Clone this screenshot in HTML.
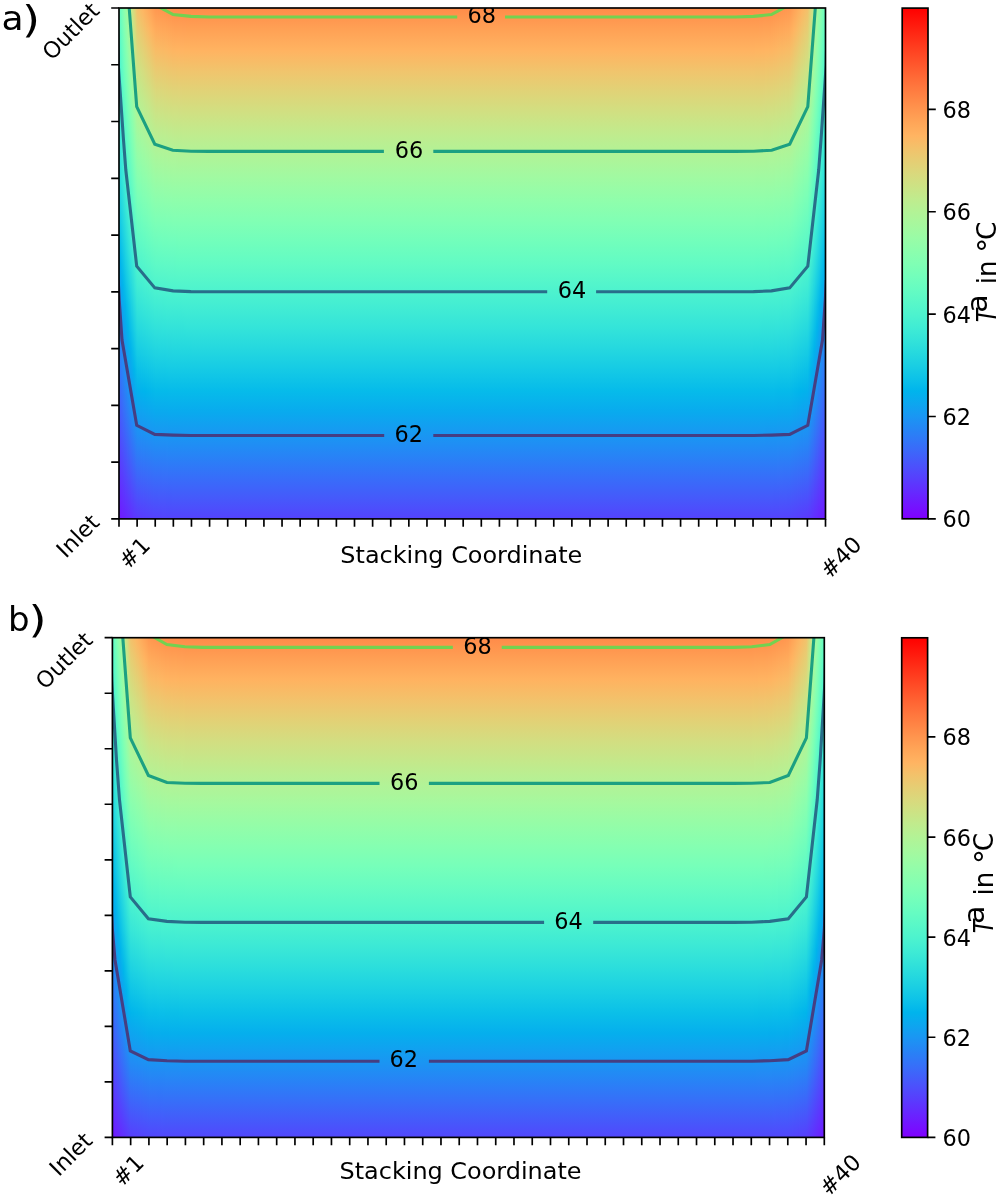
<!DOCTYPE html>
<html><head><meta charset="utf-8"><title>Stack temperature</title>
<style>
html,body{margin:0;padding:0;background:#fff;}
body{width:1000px;height:1198px;overflow:hidden;}
svg{display:block;font-family:"DejaVu Sans","Liberation Sans",sans-serif;fill:#000;}
</style></head><body>
<svg width="1000" height="1198" viewBox="0 0 1000 1198">
<defs>
<linearGradient id="ac" x1="0" y1="0" x2="0" y2="1"><stop offset="0.0000" stop-color="#ff8c49"/><stop offset="0.0417" stop-color="#ffa155"/><stop offset="0.0833" stop-color="#ffb361"/><stop offset="0.1250" stop-color="#f0c56d"/><stop offset="0.1667" stop-color="#dfd478"/><stop offset="0.2083" stop-color="#cfe183"/><stop offset="0.2500" stop-color="#bfec8e"/><stop offset="0.2917" stop-color="#aff498"/><stop offset="0.3333" stop-color="#a0faa2"/><stop offset="0.3750" stop-color="#90feab"/><stop offset="0.4167" stop-color="#81ffb4"/><stop offset="0.4583" stop-color="#71febc"/><stop offset="0.5000" stop-color="#62fbc4"/><stop offset="0.5417" stop-color="#52f5cc"/><stop offset="0.5833" stop-color="#43edd3"/><stop offset="0.6250" stop-color="#34e4d9"/><stop offset="0.6667" stop-color="#25d8df"/><stop offset="0.7083" stop-color="#15cae5"/><stop offset="0.7500" stop-color="#06bbea"/><stop offset="0.7917" stop-color="#09aaee"/><stop offset="0.8333" stop-color="#1898f2"/><stop offset="0.8750" stop-color="#2784f6"/><stop offset="0.9167" stop-color="#366ff9"/><stop offset="0.9583" stop-color="#455afb"/><stop offset="1.0000" stop-color="#5443fd"/></linearGradient>
<linearGradient id="as0" x1="0" y1="0" x2="0" y2="1"><stop offset="0.0000" stop-color="#65fcc2"/><stop offset="0.0417" stop-color="#5cf9c7"/><stop offset="0.0833" stop-color="#53f5cb"/><stop offset="0.1250" stop-color="#4bf2cf"/><stop offset="0.1667" stop-color="#44eed2"/><stop offset="0.2083" stop-color="#3cead5"/><stop offset="0.2500" stop-color="#35e5d9"/><stop offset="0.2917" stop-color="#2edfdb"/><stop offset="0.3333" stop-color="#26d9df"/><stop offset="0.3750" stop-color="#1bd0e3"/><stop offset="0.4167" stop-color="#11c6e6"/><stop offset="0.4583" stop-color="#06bbea"/><stop offset="0.5000" stop-color="#05afed"/><stop offset="0.5417" stop-color="#0fa2f0"/><stop offset="0.5833" stop-color="#1a96f3"/><stop offset="0.6250" stop-color="#228bf5"/><stop offset="0.6667" stop-color="#2b7ff6"/><stop offset="0.7083" stop-color="#3373f8"/><stop offset="0.7500" stop-color="#3c67f9"/><stop offset="0.7917" stop-color="#445bfb"/><stop offset="0.8333" stop-color="#4d4efc"/><stop offset="0.8750" stop-color="#5641fd"/><stop offset="0.9167" stop-color="#5e34fe"/><stop offset="0.9583" stop-color="#6726fe"/><stop offset="1.0000" stop-color="#7019ff"/></linearGradient>
<linearGradient id="as1" x1="0" y1="0" x2="0" y2="1"><stop offset="0.0000" stop-color="#6dfdbe"/><stop offset="0.0417" stop-color="#64fbc3"/><stop offset="0.0833" stop-color="#5af8c8"/><stop offset="0.1250" stop-color="#52f5cc"/><stop offset="0.1667" stop-color="#4af2cf"/><stop offset="0.2083" stop-color="#43edd3"/><stop offset="0.2500" stop-color="#3be9d6"/><stop offset="0.2917" stop-color="#34e4d9"/><stop offset="0.3333" stop-color="#2cdedc"/><stop offset="0.3750" stop-color="#21d5e1"/><stop offset="0.4167" stop-color="#16cbe5"/><stop offset="0.4583" stop-color="#0bc0e8"/><stop offset="0.5000" stop-color="#00b4ec"/><stop offset="0.5417" stop-color="#0ba8ef"/><stop offset="0.5833" stop-color="#159bf1"/><stop offset="0.6250" stop-color="#1e90f4"/><stop offset="0.6667" stop-color="#2784f6"/><stop offset="0.7083" stop-color="#3078f7"/><stop offset="0.7500" stop-color="#396cf9"/><stop offset="0.7917" stop-color="#425ffa"/><stop offset="0.8333" stop-color="#4a52fc"/><stop offset="0.8750" stop-color="#5344fd"/><stop offset="0.9167" stop-color="#5c37fe"/><stop offset="0.9583" stop-color="#6529fe"/><stop offset="1.0000" stop-color="#6e1bff"/></linearGradient>
<linearGradient id="as2" x1="0" y1="0" x2="0" y2="1"><stop offset="0.0000" stop-color="#75feba"/><stop offset="0.0417" stop-color="#6bfdbf"/><stop offset="0.0833" stop-color="#62fbc4"/><stop offset="0.1250" stop-color="#59f8c8"/><stop offset="0.1667" stop-color="#51f5cc"/><stop offset="0.2083" stop-color="#49f1d0"/><stop offset="0.2500" stop-color="#41edd3"/><stop offset="0.2917" stop-color="#39e8d7"/><stop offset="0.3333" stop-color="#31e2da"/><stop offset="0.3750" stop-color="#26d9df"/><stop offset="0.4167" stop-color="#1bd0e3"/><stop offset="0.4583" stop-color="#10c5e7"/><stop offset="0.5000" stop-color="#05baea"/><stop offset="0.5417" stop-color="#06aded"/><stop offset="0.5833" stop-color="#11a1f0"/><stop offset="0.6250" stop-color="#1a95f3"/><stop offset="0.6667" stop-color="#2389f5"/><stop offset="0.7083" stop-color="#2c7df7"/><stop offset="0.7500" stop-color="#3570f8"/><stop offset="0.7917" stop-color="#3f63fa"/><stop offset="0.8333" stop-color="#4856fb"/><stop offset="0.8750" stop-color="#5148fc"/><stop offset="0.9167" stop-color="#5b3afd"/><stop offset="0.9583" stop-color="#642bfe"/><stop offset="1.0000" stop-color="#6d1dff"/></linearGradient>
<linearGradient id="as3" x1="0" y1="0" x2="0" y2="1"><stop offset="0.0000" stop-color="#7dffb6"/><stop offset="0.0417" stop-color="#73febb"/><stop offset="0.0833" stop-color="#69fdc0"/><stop offset="0.1250" stop-color="#60fac5"/><stop offset="0.1667" stop-color="#58f8c9"/><stop offset="0.2083" stop-color="#50f4cd"/><stop offset="0.2500" stop-color="#47f0d1"/><stop offset="0.2917" stop-color="#3febd4"/><stop offset="0.3333" stop-color="#36e6d8"/><stop offset="0.3750" stop-color="#2bdddd"/><stop offset="0.4167" stop-color="#20d4e1"/><stop offset="0.4583" stop-color="#15cae5"/><stop offset="0.5000" stop-color="#09bfe9"/><stop offset="0.5417" stop-color="#02b2ec"/><stop offset="0.5833" stop-color="#0ca6ef"/><stop offset="0.6250" stop-color="#169af2"/><stop offset="0.6667" stop-color="#1f8ef4"/><stop offset="0.7083" stop-color="#2982f6"/><stop offset="0.7500" stop-color="#3275f8"/><stop offset="0.7917" stop-color="#3c67f9"/><stop offset="0.8333" stop-color="#455afb"/><stop offset="0.8750" stop-color="#4f4bfc"/><stop offset="0.9167" stop-color="#593cfd"/><stop offset="0.9583" stop-color="#622efe"/><stop offset="1.0000" stop-color="#6c1fff"/></linearGradient>
<linearGradient id="as4" x1="0" y1="0" x2="0" y2="1"><stop offset="0.0000" stop-color="#85ffb1"/><stop offset="0.0417" stop-color="#7bffb7"/><stop offset="0.0833" stop-color="#71febc"/><stop offset="0.1250" stop-color="#68fcc1"/><stop offset="0.1667" stop-color="#5ffac5"/><stop offset="0.2083" stop-color="#56f7ca"/><stop offset="0.2500" stop-color="#4ef3ce"/><stop offset="0.2917" stop-color="#45efd2"/><stop offset="0.3333" stop-color="#3ce9d6"/><stop offset="0.3750" stop-color="#30e1db"/><stop offset="0.4167" stop-color="#25d8df"/><stop offset="0.4583" stop-color="#1acee3"/><stop offset="0.5000" stop-color="#0ec3e7"/><stop offset="0.5417" stop-color="#03b7eb"/><stop offset="0.5833" stop-color="#08abee"/><stop offset="0.6250" stop-color="#129ff1"/><stop offset="0.6667" stop-color="#1c93f3"/><stop offset="0.7083" stop-color="#2586f5"/><stop offset="0.7500" stop-color="#2f79f7"/><stop offset="0.7917" stop-color="#396cf9"/><stop offset="0.8333" stop-color="#435dfb"/><stop offset="0.8750" stop-color="#4d4efc"/><stop offset="0.9167" stop-color="#573ffd"/><stop offset="0.9583" stop-color="#6130fe"/><stop offset="1.0000" stop-color="#6b20fe"/></linearGradient>
<linearGradient id="as5" x1="0" y1="0" x2="0" y2="1"><stop offset="0.0000" stop-color="#8dfead"/><stop offset="0.0417" stop-color="#83ffb3"/><stop offset="0.0833" stop-color="#78ffb8"/><stop offset="0.1250" stop-color="#6ffebd"/><stop offset="0.1667" stop-color="#66fcc2"/><stop offset="0.2083" stop-color="#5df9c7"/><stop offset="0.2500" stop-color="#54f6cb"/><stop offset="0.2917" stop-color="#4bf2cf"/><stop offset="0.3333" stop-color="#41ecd3"/><stop offset="0.3750" stop-color="#36e5d8"/><stop offset="0.4167" stop-color="#2adcdd"/><stop offset="0.4583" stop-color="#1ed3e1"/><stop offset="0.5000" stop-color="#13c8e5"/><stop offset="0.5417" stop-color="#07bce9"/><stop offset="0.5833" stop-color="#04b0ed"/><stop offset="0.6250" stop-color="#0ea4f0"/><stop offset="0.6667" stop-color="#1898f2"/><stop offset="0.7083" stop-color="#228bf4"/><stop offset="0.7500" stop-color="#2c7ef7"/><stop offset="0.7917" stop-color="#3670f8"/><stop offset="0.8333" stop-color="#4061fa"/><stop offset="0.8750" stop-color="#4a52fc"/><stop offset="0.9167" stop-color="#5542fd"/><stop offset="0.9583" stop-color="#5f32fe"/><stop offset="1.0000" stop-color="#6a22fe"/></linearGradient>
<linearGradient id="as6" x1="0" y1="0" x2="0" y2="1"><stop offset="0.0000" stop-color="#95fda8"/><stop offset="0.0417" stop-color="#8bfeae"/><stop offset="0.0833" stop-color="#80ffb4"/><stop offset="0.1250" stop-color="#76ffb9"/><stop offset="0.1667" stop-color="#6dfdbe"/><stop offset="0.2083" stop-color="#63fbc3"/><stop offset="0.2500" stop-color="#5af8c8"/><stop offset="0.2917" stop-color="#50f4cd"/><stop offset="0.3333" stop-color="#47efd1"/><stop offset="0.3750" stop-color="#3be9d6"/><stop offset="0.4167" stop-color="#2fe0db"/><stop offset="0.4583" stop-color="#23d7e0"/><stop offset="0.5000" stop-color="#18cde4"/><stop offset="0.5417" stop-color="#0cc1e8"/><stop offset="0.5833" stop-color="#01b5eb"/><stop offset="0.6250" stop-color="#0aa9ee"/><stop offset="0.6667" stop-color="#149df1"/><stop offset="0.7083" stop-color="#1e90f4"/><stop offset="0.7500" stop-color="#2982f6"/><stop offset="0.7917" stop-color="#3374f8"/><stop offset="0.8333" stop-color="#3d65fa"/><stop offset="0.8750" stop-color="#4855fb"/><stop offset="0.9167" stop-color="#5345fd"/><stop offset="0.9583" stop-color="#5e35fe"/><stop offset="1.0000" stop-color="#6824fe"/></linearGradient>
<linearGradient id="as7" x1="0" y1="0" x2="0" y2="1"><stop offset="0.0000" stop-color="#9dfba3"/><stop offset="0.0417" stop-color="#92fdaa"/><stop offset="0.0833" stop-color="#87ffb0"/><stop offset="0.1250" stop-color="#7dffb6"/><stop offset="0.1667" stop-color="#73febb"/><stop offset="0.2083" stop-color="#6afdc0"/><stop offset="0.2500" stop-color="#60fac5"/><stop offset="0.2917" stop-color="#56f7ca"/><stop offset="0.3333" stop-color="#4cf2cf"/><stop offset="0.3750" stop-color="#40ecd4"/><stop offset="0.4167" stop-color="#34e4d9"/><stop offset="0.4583" stop-color="#28dbde"/><stop offset="0.5000" stop-color="#1cd1e2"/><stop offset="0.5417" stop-color="#11c6e6"/><stop offset="0.5833" stop-color="#05baea"/><stop offset="0.6250" stop-color="#06aeed"/><stop offset="0.6667" stop-color="#10a1f0"/><stop offset="0.7083" stop-color="#1b94f3"/><stop offset="0.7500" stop-color="#2586f5"/><stop offset="0.7917" stop-color="#3078f7"/><stop offset="0.8333" stop-color="#3b69f9"/><stop offset="0.8750" stop-color="#4658fb"/><stop offset="0.9167" stop-color="#5148fc"/><stop offset="0.9583" stop-color="#5c37fd"/><stop offset="1.0000" stop-color="#6726fe"/></linearGradient>
<linearGradient id="as8" x1="0" y1="0" x2="0" y2="1"><stop offset="0.0000" stop-color="#a5f89e"/><stop offset="0.0417" stop-color="#9afca5"/><stop offset="0.0833" stop-color="#8ffeac"/><stop offset="0.1250" stop-color="#84ffb2"/><stop offset="0.1667" stop-color="#7affb7"/><stop offset="0.2083" stop-color="#70febd"/><stop offset="0.2500" stop-color="#66fcc2"/><stop offset="0.2917" stop-color="#5cf9c7"/><stop offset="0.3333" stop-color="#51f5cc"/><stop offset="0.3750" stop-color="#45efd2"/><stop offset="0.4167" stop-color="#39e7d7"/><stop offset="0.4583" stop-color="#2ddfdc"/><stop offset="0.5000" stop-color="#21d5e0"/><stop offset="0.5417" stop-color="#15cae5"/><stop offset="0.5833" stop-color="#09bee9"/><stop offset="0.6250" stop-color="#02b3ec"/><stop offset="0.6667" stop-color="#0ca6ef"/><stop offset="0.7083" stop-color="#1799f2"/><stop offset="0.7500" stop-color="#228bf5"/><stop offset="0.7917" stop-color="#2d7cf7"/><stop offset="0.8333" stop-color="#386cf9"/><stop offset="0.8750" stop-color="#445cfb"/><stop offset="0.9167" stop-color="#4f4bfc"/><stop offset="0.9583" stop-color="#5b39fd"/><stop offset="1.0000" stop-color="#6628fe"/></linearGradient>
<linearGradient id="as9" x1="0" y1="0" x2="0" y2="1"><stop offset="0.0000" stop-color="#adf599"/><stop offset="0.0417" stop-color="#a2f9a0"/><stop offset="0.0833" stop-color="#96fca7"/><stop offset="0.1250" stop-color="#8cfead"/><stop offset="0.1667" stop-color="#81ffb3"/><stop offset="0.2083" stop-color="#77ffb9"/><stop offset="0.2500" stop-color="#6cfdbf"/><stop offset="0.2917" stop-color="#61fbc4"/><stop offset="0.3333" stop-color="#57f7c9"/><stop offset="0.3750" stop-color="#4bf2cf"/><stop offset="0.4167" stop-color="#3eebd5"/><stop offset="0.4583" stop-color="#32e3da"/><stop offset="0.5000" stop-color="#26d9df"/><stop offset="0.5417" stop-color="#1acee3"/><stop offset="0.5833" stop-color="#0ec3e7"/><stop offset="0.6250" stop-color="#03b7eb"/><stop offset="0.6667" stop-color="#09aaee"/><stop offset="0.7083" stop-color="#149df1"/><stop offset="0.7500" stop-color="#1f8ff4"/><stop offset="0.7917" stop-color="#2a80f6"/><stop offset="0.8333" stop-color="#3670f8"/><stop offset="0.8750" stop-color="#415ffa"/><stop offset="0.9167" stop-color="#4d4efc"/><stop offset="0.9583" stop-color="#593cfd"/><stop offset="1.0000" stop-color="#652afe"/></linearGradient>
<linearGradient id="as10" x1="0" y1="0" x2="0" y2="1"><stop offset="0.0000" stop-color="#b6f194"/><stop offset="0.0417" stop-color="#aaf69b"/><stop offset="0.0833" stop-color="#9efba3"/><stop offset="0.1250" stop-color="#93fda9"/><stop offset="0.1667" stop-color="#88ffb0"/><stop offset="0.2083" stop-color="#7dffb6"/><stop offset="0.2500" stop-color="#72febc"/><stop offset="0.2917" stop-color="#67fcc1"/><stop offset="0.3333" stop-color="#5cf9c7"/><stop offset="0.3750" stop-color="#50f4cd"/><stop offset="0.4167" stop-color="#43eed2"/><stop offset="0.4583" stop-color="#37e6d8"/><stop offset="0.5000" stop-color="#2bdddd"/><stop offset="0.5417" stop-color="#1ed3e1"/><stop offset="0.5833" stop-color="#12c7e6"/><stop offset="0.6250" stop-color="#07bcea"/><stop offset="0.6667" stop-color="#05afed"/><stop offset="0.7083" stop-color="#10a1f0"/><stop offset="0.7500" stop-color="#1c93f3"/><stop offset="0.7917" stop-color="#2784f6"/><stop offset="0.8333" stop-color="#3374f8"/><stop offset="0.8750" stop-color="#3f62fa"/><stop offset="0.9167" stop-color="#4b50fc"/><stop offset="0.9583" stop-color="#583efd"/><stop offset="1.0000" stop-color="#642bfe"/></linearGradient>
<linearGradient id="as11" x1="0" y1="0" x2="0" y2="1"><stop offset="0.0000" stop-color="#beed8f"/><stop offset="0.0417" stop-color="#b2f396"/><stop offset="0.0833" stop-color="#a6f89e"/><stop offset="0.1250" stop-color="#9afca5"/><stop offset="0.1667" stop-color="#8ffeac"/><stop offset="0.2083" stop-color="#83ffb2"/><stop offset="0.2500" stop-color="#78ffb8"/><stop offset="0.2917" stop-color="#6dfdbe"/><stop offset="0.3333" stop-color="#62fbc4"/><stop offset="0.3750" stop-color="#55f6ca"/><stop offset="0.4167" stop-color="#48f0d0"/><stop offset="0.4583" stop-color="#3ce9d6"/><stop offset="0.5000" stop-color="#2fe1db"/><stop offset="0.5417" stop-color="#23d7e0"/><stop offset="0.5833" stop-color="#16cbe4"/><stop offset="0.6250" stop-color="#0bc0e8"/><stop offset="0.6667" stop-color="#01b3ec"/><stop offset="0.7083" stop-color="#0da6ef"/><stop offset="0.7500" stop-color="#1997f2"/><stop offset="0.7917" stop-color="#2488f5"/><stop offset="0.8333" stop-color="#3077f7"/><stop offset="0.8750" stop-color="#3d66fa"/><stop offset="0.9167" stop-color="#4a53fb"/><stop offset="0.9583" stop-color="#5640fd"/><stop offset="1.0000" stop-color="#632dfe"/></linearGradient>
<linearGradient id="as12" x1="0" y1="0" x2="0" y2="1"><stop offset="0.0000" stop-color="#c6e889"/><stop offset="0.0417" stop-color="#b9ef91"/><stop offset="0.0833" stop-color="#adf599"/><stop offset="0.1250" stop-color="#a1faa1"/><stop offset="0.1667" stop-color="#96fda8"/><stop offset="0.2083" stop-color="#8afeae"/><stop offset="0.2500" stop-color="#7effb5"/><stop offset="0.2917" stop-color="#73febb"/><stop offset="0.3333" stop-color="#67fcc1"/><stop offset="0.3750" stop-color="#5af8c8"/><stop offset="0.4167" stop-color="#4ef3ce"/><stop offset="0.4583" stop-color="#41ecd4"/><stop offset="0.5000" stop-color="#34e4d9"/><stop offset="0.5417" stop-color="#27dade"/><stop offset="0.5833" stop-color="#1bd0e3"/><stop offset="0.6250" stop-color="#0fc4e7"/><stop offset="0.6667" stop-color="#03b7eb"/><stop offset="0.7083" stop-color="#09aaee"/><stop offset="0.7500" stop-color="#159bf2"/><stop offset="0.7917" stop-color="#218cf4"/><stop offset="0.8333" stop-color="#2e7bf7"/><stop offset="0.8750" stop-color="#3b69f9"/><stop offset="0.9167" stop-color="#4856fb"/><stop offset="0.9583" stop-color="#5543fd"/><stop offset="1.0000" stop-color="#612ffe"/></linearGradient>
<linearGradient id="as13" x1="0" y1="0" x2="0" y2="1"><stop offset="0.0000" stop-color="#cee284"/><stop offset="0.0417" stop-color="#c1ea8c"/><stop offset="0.0833" stop-color="#b5f195"/><stop offset="0.1250" stop-color="#a8f79c"/><stop offset="0.1667" stop-color="#9cfba4"/><stop offset="0.2083" stop-color="#90feab"/><stop offset="0.2500" stop-color="#84ffb2"/><stop offset="0.2917" stop-color="#78ffb8"/><stop offset="0.3333" stop-color="#6cfdbf"/><stop offset="0.3750" stop-color="#5ffac5"/><stop offset="0.4167" stop-color="#53f5cb"/><stop offset="0.4583" stop-color="#46efd1"/><stop offset="0.5000" stop-color="#39e7d7"/><stop offset="0.5417" stop-color="#2cdedc"/><stop offset="0.5833" stop-color="#1fd3e1"/><stop offset="0.6250" stop-color="#13c8e6"/><stop offset="0.6667" stop-color="#07bbea"/><stop offset="0.7083" stop-color="#06aeed"/><stop offset="0.7500" stop-color="#129ff1"/><stop offset="0.7917" stop-color="#1f8ff4"/><stop offset="0.8333" stop-color="#2b7ff6"/><stop offset="0.8750" stop-color="#386cf9"/><stop offset="0.9167" stop-color="#4659fb"/><stop offset="0.9583" stop-color="#5345fd"/><stop offset="1.0000" stop-color="#6031fe"/></linearGradient>
<linearGradient id="as14" x1="0" y1="0" x2="0" y2="1"><stop offset="0.0000" stop-color="#d6dc7f"/><stop offset="0.0417" stop-color="#c9e587"/><stop offset="0.0833" stop-color="#bced90"/><stop offset="0.1250" stop-color="#b0f498"/><stop offset="0.1667" stop-color="#a3f99f"/><stop offset="0.2083" stop-color="#97fca7"/><stop offset="0.2500" stop-color="#8afeae"/><stop offset="0.2917" stop-color="#7effb5"/><stop offset="0.3333" stop-color="#72febc"/><stop offset="0.3750" stop-color="#65fcc3"/><stop offset="0.4167" stop-color="#58f7c9"/><stop offset="0.4583" stop-color="#4bf2cf"/><stop offset="0.5000" stop-color="#3eead5"/><stop offset="0.5417" stop-color="#30e1da"/><stop offset="0.5833" stop-color="#24d7e0"/><stop offset="0.6250" stop-color="#17cce4"/><stop offset="0.6667" stop-color="#0abfe8"/><stop offset="0.7083" stop-color="#02b2ec"/><stop offset="0.7500" stop-color="#0fa3f0"/><stop offset="0.7917" stop-color="#1c93f3"/><stop offset="0.8333" stop-color="#2982f6"/><stop offset="0.8750" stop-color="#366ff9"/><stop offset="0.9167" stop-color="#445cfb"/><stop offset="0.9583" stop-color="#5147fc"/><stop offset="1.0000" stop-color="#5f33fe"/></linearGradient>
<linearGradient id="as15" x1="0" y1="0" x2="0" y2="1"><stop offset="0.0000" stop-color="#ded579"/><stop offset="0.0417" stop-color="#d1e082"/><stop offset="0.0833" stop-color="#c4e98b"/><stop offset="0.1250" stop-color="#b7f093"/><stop offset="0.1667" stop-color="#aaf69b"/><stop offset="0.2083" stop-color="#9dfba3"/><stop offset="0.2500" stop-color="#91feab"/><stop offset="0.2917" stop-color="#84ffb2"/><stop offset="0.3333" stop-color="#77ffb9"/><stop offset="0.3750" stop-color="#6afdc0"/><stop offset="0.4167" stop-color="#5df9c7"/><stop offset="0.4583" stop-color="#4ff4cd"/><stop offset="0.5000" stop-color="#42edd3"/><stop offset="0.5417" stop-color="#35e5d9"/><stop offset="0.5833" stop-color="#28dbde"/><stop offset="0.6250" stop-color="#1bd0e3"/><stop offset="0.6667" stop-color="#0ec3e7"/><stop offset="0.7083" stop-color="#01b6eb"/><stop offset="0.7500" stop-color="#0ca7ef"/><stop offset="0.7917" stop-color="#1997f2"/><stop offset="0.8333" stop-color="#2686f5"/><stop offset="0.8750" stop-color="#3472f8"/><stop offset="0.9167" stop-color="#425efa"/><stop offset="0.9583" stop-color="#504afc"/><stop offset="1.0000" stop-color="#5e35fe"/></linearGradient>
<linearGradient id="as16" x1="0" y1="0" x2="0" y2="1"><stop offset="0.0000" stop-color="#e6ce73"/><stop offset="0.0417" stop-color="#d9da7d"/><stop offset="0.0833" stop-color="#cbe486"/><stop offset="0.1250" stop-color="#beec8e"/><stop offset="0.1667" stop-color="#b1f397"/><stop offset="0.2083" stop-color="#a4f99f"/><stop offset="0.2500" stop-color="#97fca7"/><stop offset="0.2917" stop-color="#8affaf"/><stop offset="0.3333" stop-color="#7dffb6"/><stop offset="0.3750" stop-color="#6ffebd"/><stop offset="0.4167" stop-color="#62fbc4"/><stop offset="0.4583" stop-color="#54f6cb"/><stop offset="0.5000" stop-color="#47f0d1"/><stop offset="0.5417" stop-color="#3ae8d7"/><stop offset="0.5833" stop-color="#2cdedc"/><stop offset="0.6250" stop-color="#1fd3e1"/><stop offset="0.6667" stop-color="#12c7e6"/><stop offset="0.7083" stop-color="#05b9ea"/><stop offset="0.7500" stop-color="#09abee"/><stop offset="0.7917" stop-color="#169bf2"/><stop offset="0.8333" stop-color="#2389f5"/><stop offset="0.8750" stop-color="#3276f8"/><stop offset="0.9167" stop-color="#4061fa"/><stop offset="0.9583" stop-color="#4e4cfc"/><stop offset="1.0000" stop-color="#5d36fe"/></linearGradient>
<linearGradient id="as17" x1="0" y1="0" x2="0" y2="1"><stop offset="0.0000" stop-color="#eec66e"/><stop offset="0.0417" stop-color="#e0d377"/><stop offset="0.0833" stop-color="#d3de81"/><stop offset="0.1250" stop-color="#c5e88a"/><stop offset="0.1667" stop-color="#b8f093"/><stop offset="0.2083" stop-color="#aaf69b"/><stop offset="0.2500" stop-color="#9dfba3"/><stop offset="0.2917" stop-color="#8ffeab"/><stop offset="0.3333" stop-color="#82ffb3"/><stop offset="0.3750" stop-color="#74feba"/><stop offset="0.4167" stop-color="#67fcc1"/><stop offset="0.4583" stop-color="#59f8c8"/><stop offset="0.5000" stop-color="#4cf2cf"/><stop offset="0.5417" stop-color="#3eebd5"/><stop offset="0.5833" stop-color="#31e2da"/><stop offset="0.6250" stop-color="#23d7e0"/><stop offset="0.6667" stop-color="#16cbe5"/><stop offset="0.7083" stop-color="#08bde9"/><stop offset="0.7500" stop-color="#05aeed"/><stop offset="0.7917" stop-color="#139ef1"/><stop offset="0.8333" stop-color="#218cf4"/><stop offset="0.8750" stop-color="#2f79f7"/><stop offset="0.9167" stop-color="#3e64fa"/><stop offset="0.9583" stop-color="#4d4efc"/><stop offset="1.0000" stop-color="#5b38fd"/></linearGradient>
<linearGradient id="as18" x1="0" y1="0" x2="0" y2="1"><stop offset="0.0000" stop-color="#f4c06a"/><stop offset="0.0417" stop-color="#e6ce73"/><stop offset="0.0833" stop-color="#d8da7d"/><stop offset="0.1250" stop-color="#cae486"/><stop offset="0.1667" stop-color="#bced8f"/><stop offset="0.2083" stop-color="#aff498"/><stop offset="0.2500" stop-color="#a1faa1"/><stop offset="0.2917" stop-color="#93fda9"/><stop offset="0.3333" stop-color="#86ffb1"/><stop offset="0.3750" stop-color="#78ffb8"/><stop offset="0.4167" stop-color="#6afdc0"/><stop offset="0.4583" stop-color="#5df9c7"/><stop offset="0.5000" stop-color="#4ff4cd"/><stop offset="0.5417" stop-color="#41edd3"/><stop offset="0.5833" stop-color="#34e4d9"/><stop offset="0.6250" stop-color="#26d9df"/><stop offset="0.6667" stop-color="#18cde4"/><stop offset="0.7083" stop-color="#0bc0e8"/><stop offset="0.7500" stop-color="#03b1ed"/><stop offset="0.7917" stop-color="#11a1f0"/><stop offset="0.8333" stop-color="#1f8ff4"/><stop offset="0.8750" stop-color="#2e7bf7"/><stop offset="0.9167" stop-color="#3d66fa"/><stop offset="0.9583" stop-color="#4c50fc"/><stop offset="1.0000" stop-color="#5b39fd"/></linearGradient>
<linearGradient id="as19" x1="0" y1="0" x2="0" y2="1"><stop offset="0.0000" stop-color="#f6be68"/><stop offset="0.0417" stop-color="#e8cc72"/><stop offset="0.0833" stop-color="#dad87c"/><stop offset="0.1250" stop-color="#cce385"/><stop offset="0.1667" stop-color="#beec8e"/><stop offset="0.2083" stop-color="#b0f497"/><stop offset="0.2500" stop-color="#a2f9a0"/><stop offset="0.2917" stop-color="#95fda8"/><stop offset="0.3333" stop-color="#87ffb0"/><stop offset="0.3750" stop-color="#79ffb8"/><stop offset="0.4167" stop-color="#6bfdbf"/><stop offset="0.4583" stop-color="#5ef9c6"/><stop offset="0.5000" stop-color="#50f4cd"/><stop offset="0.5417" stop-color="#42edd3"/><stop offset="0.5833" stop-color="#34e4d9"/><stop offset="0.6250" stop-color="#27dade"/><stop offset="0.6667" stop-color="#19cee3"/><stop offset="0.7083" stop-color="#0bc0e8"/><stop offset="0.7500" stop-color="#03b1ec"/><stop offset="0.7917" stop-color="#11a1f0"/><stop offset="0.8333" stop-color="#1f8ff4"/><stop offset="0.8750" stop-color="#2e7bf7"/><stop offset="0.9167" stop-color="#3d66fa"/><stop offset="0.9583" stop-color="#4b50fc"/><stop offset="1.0000" stop-color="#5a3afd"/></linearGradient>
<linearGradient id="as20" x1="0" y1="0" x2="0" y2="1"><stop offset="0.0000" stop-color="#f8bc67"/><stop offset="0.0417" stop-color="#eaca71"/><stop offset="0.0833" stop-color="#dcd77b"/><stop offset="0.1250" stop-color="#cee284"/><stop offset="0.1667" stop-color="#c0eb8d"/><stop offset="0.2083" stop-color="#b2f396"/><stop offset="0.2500" stop-color="#a4f99f"/><stop offset="0.2917" stop-color="#96fda7"/><stop offset="0.3333" stop-color="#88ffaf"/><stop offset="0.3750" stop-color="#7affb7"/><stop offset="0.4167" stop-color="#6cfdbf"/><stop offset="0.4583" stop-color="#5ffac6"/><stop offset="0.5000" stop-color="#51f4cc"/><stop offset="0.5417" stop-color="#43edd3"/><stop offset="0.5833" stop-color="#35e5d9"/><stop offset="0.6250" stop-color="#27dade"/><stop offset="0.6667" stop-color="#19cee3"/><stop offset="0.7083" stop-color="#0cc1e8"/><stop offset="0.7500" stop-color="#02b2ec"/><stop offset="0.7917" stop-color="#10a2f0"/><stop offset="0.8333" stop-color="#1e90f4"/><stop offset="0.8750" stop-color="#2d7cf7"/><stop offset="0.9167" stop-color="#3c67fa"/><stop offset="0.9583" stop-color="#4b51fc"/><stop offset="1.0000" stop-color="#5a3afd"/></linearGradient>
<linearGradient id="as21" x1="0" y1="0" x2="0" y2="1"><stop offset="0.0000" stop-color="#faba65"/><stop offset="0.0417" stop-color="#ecc970"/><stop offset="0.0833" stop-color="#ddd579"/><stop offset="0.1250" stop-color="#cfe183"/><stop offset="0.1667" stop-color="#c1ea8c"/><stop offset="0.2083" stop-color="#b3f295"/><stop offset="0.2500" stop-color="#a5f89e"/><stop offset="0.2917" stop-color="#97fca7"/><stop offset="0.3333" stop-color="#89ffaf"/><stop offset="0.3750" stop-color="#7bffb7"/><stop offset="0.4167" stop-color="#6dfdbe"/><stop offset="0.4583" stop-color="#60fac5"/><stop offset="0.5000" stop-color="#52f5cc"/><stop offset="0.5417" stop-color="#44eed2"/><stop offset="0.5833" stop-color="#36e5d8"/><stop offset="0.6250" stop-color="#28dbde"/><stop offset="0.6667" stop-color="#1acfe3"/><stop offset="0.7083" stop-color="#0cc1e8"/><stop offset="0.7500" stop-color="#02b2ec"/><stop offset="0.7917" stop-color="#10a2f0"/><stop offset="0.8333" stop-color="#1e90f4"/><stop offset="0.8750" stop-color="#2d7cf7"/><stop offset="0.9167" stop-color="#3c67f9"/><stop offset="0.9583" stop-color="#4b51fc"/><stop offset="1.0000" stop-color="#5a3bfd"/></linearGradient>
<linearGradient id="as22" x1="0" y1="0" x2="0" y2="1"><stop offset="0.0000" stop-color="#fcb864"/><stop offset="0.0417" stop-color="#edc76e"/><stop offset="0.0833" stop-color="#dfd478"/><stop offset="0.1250" stop-color="#d1e082"/><stop offset="0.1667" stop-color="#c3e98b"/><stop offset="0.2083" stop-color="#b5f195"/><stop offset="0.2500" stop-color="#a7f89d"/><stop offset="0.2917" stop-color="#98fca6"/><stop offset="0.3333" stop-color="#8afeae"/><stop offset="0.3750" stop-color="#7cffb6"/><stop offset="0.4167" stop-color="#6efebe"/><stop offset="0.4583" stop-color="#60fac5"/><stop offset="0.5000" stop-color="#52f5cc"/><stop offset="0.5417" stop-color="#44eed2"/><stop offset="0.5833" stop-color="#36e6d8"/><stop offset="0.6250" stop-color="#28dbde"/><stop offset="0.6667" stop-color="#1bcfe3"/><stop offset="0.7083" stop-color="#0dc2e8"/><stop offset="0.7500" stop-color="#01b3ec"/><stop offset="0.7917" stop-color="#0fa2f0"/><stop offset="0.8333" stop-color="#1e91f4"/><stop offset="0.8750" stop-color="#2d7df7"/><stop offset="0.9167" stop-color="#3c68f9"/><stop offset="0.9583" stop-color="#4a52fc"/><stop offset="1.0000" stop-color="#593bfd"/></linearGradient>
<linearGradient id="as23" x1="0" y1="0" x2="0" y2="1"><stop offset="0.0000" stop-color="#feb663"/><stop offset="0.0417" stop-color="#efc56d"/><stop offset="0.0833" stop-color="#e1d277"/><stop offset="0.1250" stop-color="#d3de81"/><stop offset="0.1667" stop-color="#c4e88a"/><stop offset="0.2083" stop-color="#b6f194"/><stop offset="0.2500" stop-color="#a8f79d"/><stop offset="0.2917" stop-color="#9afca5"/><stop offset="0.3333" stop-color="#8cfead"/><stop offset="0.3750" stop-color="#7effb5"/><stop offset="0.4167" stop-color="#6ffebd"/><stop offset="0.4583" stop-color="#61fbc4"/><stop offset="0.5000" stop-color="#53f6cb"/><stop offset="0.5417" stop-color="#45efd2"/><stop offset="0.5833" stop-color="#37e6d8"/><stop offset="0.6250" stop-color="#29dcdd"/><stop offset="0.6667" stop-color="#1bd0e3"/><stop offset="0.7083" stop-color="#0dc2e7"/><stop offset="0.7500" stop-color="#01b3ec"/><stop offset="0.7917" stop-color="#0fa3f0"/><stop offset="0.8333" stop-color="#1d91f3"/><stop offset="0.8750" stop-color="#2c7df7"/><stop offset="0.9167" stop-color="#3b68f9"/><stop offset="0.9583" stop-color="#4a52fc"/><stop offset="1.0000" stop-color="#593cfd"/></linearGradient>
<linearGradient id="as24" x1="0" y1="0" x2="0" y2="1"><stop offset="0.0000" stop-color="#ffb461"/><stop offset="0.0417" stop-color="#f1c36c"/><stop offset="0.0833" stop-color="#e3d176"/><stop offset="0.1250" stop-color="#d4dd80"/><stop offset="0.1667" stop-color="#c6e789"/><stop offset="0.2083" stop-color="#b8f093"/><stop offset="0.2500" stop-color="#a9f79c"/><stop offset="0.2917" stop-color="#9bfba4"/><stop offset="0.3333" stop-color="#8dfead"/><stop offset="0.3750" stop-color="#7fffb5"/><stop offset="0.4167" stop-color="#71febc"/><stop offset="0.4583" stop-color="#62fbc4"/><stop offset="0.5000" stop-color="#54f6cb"/><stop offset="0.5417" stop-color="#46efd1"/><stop offset="0.5833" stop-color="#38e7d7"/><stop offset="0.6250" stop-color="#2adcdd"/><stop offset="0.6667" stop-color="#1cd0e2"/><stop offset="0.7083" stop-color="#0ec3e7"/><stop offset="0.7500" stop-color="#00b4ec"/><stop offset="0.7917" stop-color="#0fa3f0"/><stop offset="0.8333" stop-color="#1d91f3"/><stop offset="0.8750" stop-color="#2c7ef7"/><stop offset="0.9167" stop-color="#3b69f9"/><stop offset="0.9583" stop-color="#4a53fc"/><stop offset="1.0000" stop-color="#593cfd"/></linearGradient>
<linearGradient id="as25" x1="0" y1="0" x2="0" y2="1"><stop offset="0.0000" stop-color="#ffb160"/><stop offset="0.0417" stop-color="#f3c16a"/><stop offset="0.0833" stop-color="#e5cf74"/><stop offset="0.1250" stop-color="#d6dc7e"/><stop offset="0.1667" stop-color="#c8e688"/><stop offset="0.2083" stop-color="#b9ef92"/><stop offset="0.2500" stop-color="#abf69b"/><stop offset="0.2917" stop-color="#9cfba4"/><stop offset="0.3333" stop-color="#8efeac"/><stop offset="0.3750" stop-color="#80ffb4"/><stop offset="0.4167" stop-color="#72febc"/><stop offset="0.4583" stop-color="#63fbc3"/><stop offset="0.5000" stop-color="#55f6ca"/><stop offset="0.5417" stop-color="#47f0d1"/><stop offset="0.5833" stop-color="#39e7d7"/><stop offset="0.6250" stop-color="#2adddd"/><stop offset="0.6667" stop-color="#1cd1e2"/><stop offset="0.7083" stop-color="#0ec3e7"/><stop offset="0.7500" stop-color="#00b4ec"/><stop offset="0.7917" stop-color="#0ea4f0"/><stop offset="0.8333" stop-color="#1d92f3"/><stop offset="0.8750" stop-color="#2c7ef7"/><stop offset="0.9167" stop-color="#3b69f9"/><stop offset="0.9583" stop-color="#4a53fb"/><stop offset="1.0000" stop-color="#583dfd"/></linearGradient>
<linearGradient id="as26" x1="0" y1="0" x2="0" y2="1"><stop offset="0.0000" stop-color="#ffaf5e"/><stop offset="0.0417" stop-color="#f5bf69"/><stop offset="0.0833" stop-color="#e6ce73"/><stop offset="0.1250" stop-color="#d8da7d"/><stop offset="0.1667" stop-color="#c9e587"/><stop offset="0.2083" stop-color="#bbee91"/><stop offset="0.2500" stop-color="#acf59a"/><stop offset="0.2917" stop-color="#9efba3"/><stop offset="0.3333" stop-color="#8ffeab"/><stop offset="0.3750" stop-color="#81ffb4"/><stop offset="0.4167" stop-color="#73febb"/><stop offset="0.4583" stop-color="#64fbc3"/><stop offset="0.5000" stop-color="#56f7ca"/><stop offset="0.5417" stop-color="#48f0d1"/><stop offset="0.5833" stop-color="#39e8d7"/><stop offset="0.6250" stop-color="#2bdddd"/><stop offset="0.6667" stop-color="#1dd1e2"/><stop offset="0.7083" stop-color="#0fc4e7"/><stop offset="0.7500" stop-color="#00b5eb"/><stop offset="0.7917" stop-color="#0ea4f0"/><stop offset="0.8333" stop-color="#1c92f3"/><stop offset="0.8750" stop-color="#2b7ef6"/><stop offset="0.9167" stop-color="#3a6af9"/><stop offset="0.9583" stop-color="#4954fb"/><stop offset="1.0000" stop-color="#583dfd"/></linearGradient>
<linearGradient id="as27" x1="0" y1="0" x2="0" y2="1"><stop offset="0.0000" stop-color="#ffad5d"/><stop offset="0.0417" stop-color="#f7bd67"/><stop offset="0.0833" stop-color="#e8cc72"/><stop offset="0.1250" stop-color="#d9d97c"/><stop offset="0.1667" stop-color="#cbe486"/><stop offset="0.2083" stop-color="#bced90"/><stop offset="0.2500" stop-color="#adf599"/><stop offset="0.2917" stop-color="#9ffaa2"/><stop offset="0.3333" stop-color="#90feab"/><stop offset="0.3750" stop-color="#82ffb3"/><stop offset="0.4167" stop-color="#74febb"/><stop offset="0.4583" stop-color="#65fcc2"/><stop offset="0.5000" stop-color="#57f7c9"/><stop offset="0.5417" stop-color="#48f0d0"/><stop offset="0.5833" stop-color="#3ae8d6"/><stop offset="0.6250" stop-color="#2cdedc"/><stop offset="0.6667" stop-color="#1dd2e2"/><stop offset="0.7083" stop-color="#0fc4e7"/><stop offset="0.7500" stop-color="#01b5eb"/><stop offset="0.7917" stop-color="#0da5ef"/><stop offset="0.8333" stop-color="#1c93f3"/><stop offset="0.8750" stop-color="#2b7ff6"/><stop offset="0.9167" stop-color="#3a6af9"/><stop offset="0.9583" stop-color="#4954fb"/><stop offset="1.0000" stop-color="#583efd"/></linearGradient>
<linearGradient id="as28" x1="0" y1="0" x2="0" y2="1"><stop offset="0.0000" stop-color="#ffab5b"/><stop offset="0.0417" stop-color="#f9bb66"/><stop offset="0.0833" stop-color="#eaca71"/><stop offset="0.1250" stop-color="#dbd77b"/><stop offset="0.1667" stop-color="#cce385"/><stop offset="0.2083" stop-color="#bded8f"/><stop offset="0.2500" stop-color="#aff498"/><stop offset="0.2917" stop-color="#a0faa1"/><stop offset="0.3333" stop-color="#92fdaa"/><stop offset="0.3750" stop-color="#83ffb2"/><stop offset="0.4167" stop-color="#75feba"/><stop offset="0.4583" stop-color="#66fcc2"/><stop offset="0.5000" stop-color="#58f7c9"/><stop offset="0.5417" stop-color="#49f1d0"/><stop offset="0.5833" stop-color="#3be8d6"/><stop offset="0.6250" stop-color="#2cdedc"/><stop offset="0.6667" stop-color="#1ed2e2"/><stop offset="0.7083" stop-color="#10c5e7"/><stop offset="0.7500" stop-color="#01b6eb"/><stop offset="0.7917" stop-color="#0da5ef"/><stop offset="0.8333" stop-color="#1c93f3"/><stop offset="0.8750" stop-color="#2b7ff6"/><stop offset="0.9167" stop-color="#3a6bf9"/><stop offset="0.9583" stop-color="#4955fb"/><stop offset="1.0000" stop-color="#573efd"/></linearGradient>
<linearGradient id="as29" x1="0" y1="0" x2="0" y2="1"><stop offset="0.0000" stop-color="#ffa85a"/><stop offset="0.0417" stop-color="#fbb965"/><stop offset="0.0833" stop-color="#ecc86f"/><stop offset="0.1250" stop-color="#ddd67a"/><stop offset="0.1667" stop-color="#cee284"/><stop offset="0.2083" stop-color="#bfec8e"/><stop offset="0.2500" stop-color="#b0f497"/><stop offset="0.2917" stop-color="#a1f9a1"/><stop offset="0.3333" stop-color="#93fda9"/><stop offset="0.3750" stop-color="#84ffb2"/><stop offset="0.4167" stop-color="#76ffba"/><stop offset="0.4583" stop-color="#67fcc1"/><stop offset="0.5000" stop-color="#58f8c9"/><stop offset="0.5417" stop-color="#4af1cf"/><stop offset="0.5833" stop-color="#3be9d6"/><stop offset="0.6250" stop-color="#2ddfdc"/><stop offset="0.6667" stop-color="#1fd3e1"/><stop offset="0.7083" stop-color="#10c5e6"/><stop offset="0.7500" stop-color="#02b6eb"/><stop offset="0.7917" stop-color="#0da6ef"/><stop offset="0.8333" stop-color="#1b94f3"/><stop offset="0.8750" stop-color="#2a80f6"/><stop offset="0.9167" stop-color="#396bf9"/><stop offset="0.9583" stop-color="#4855fb"/><stop offset="1.0000" stop-color="#573ffd"/></linearGradient>
<linearGradient id="as30" x1="0" y1="0" x2="0" y2="1"><stop offset="0.0000" stop-color="#ffa658"/><stop offset="0.0417" stop-color="#fcb763"/><stop offset="0.0833" stop-color="#edc76e"/><stop offset="0.1250" stop-color="#ded579"/><stop offset="0.1667" stop-color="#cfe183"/><stop offset="0.2083" stop-color="#c0eb8d"/><stop offset="0.2500" stop-color="#b1f397"/><stop offset="0.2917" stop-color="#a3f9a0"/><stop offset="0.3333" stop-color="#94fda9"/><stop offset="0.3750" stop-color="#85ffb1"/><stop offset="0.4167" stop-color="#77ffb9"/><stop offset="0.4583" stop-color="#68fcc1"/><stop offset="0.5000" stop-color="#59f8c8"/><stop offset="0.5417" stop-color="#4bf2cf"/><stop offset="0.5833" stop-color="#3ce9d6"/><stop offset="0.6250" stop-color="#2edfdc"/><stop offset="0.6667" stop-color="#1fd3e1"/><stop offset="0.7083" stop-color="#11c6e6"/><stop offset="0.7500" stop-color="#02b7eb"/><stop offset="0.7917" stop-color="#0ca6ef"/><stop offset="0.8333" stop-color="#1b94f3"/><stop offset="0.8750" stop-color="#2a80f6"/><stop offset="0.9167" stop-color="#396bf9"/><stop offset="0.9583" stop-color="#4856fb"/><stop offset="1.0000" stop-color="#573ffd"/></linearGradient>
<linearGradient id="as31" x1="0" y1="0" x2="0" y2="1"><stop offset="0.0000" stop-color="#ffa457"/><stop offset="0.0417" stop-color="#feb562"/><stop offset="0.0833" stop-color="#efc56d"/><stop offset="0.1250" stop-color="#e0d378"/><stop offset="0.1667" stop-color="#d1e082"/><stop offset="0.2083" stop-color="#c2ea8c"/><stop offset="0.2500" stop-color="#b3f296"/><stop offset="0.2917" stop-color="#a4f99f"/><stop offset="0.3333" stop-color="#95fda8"/><stop offset="0.3750" stop-color="#86ffb0"/><stop offset="0.4167" stop-color="#78ffb9"/><stop offset="0.4583" stop-color="#69fdc0"/><stop offset="0.5000" stop-color="#5af8c8"/><stop offset="0.5417" stop-color="#4bf2cf"/><stop offset="0.5833" stop-color="#3dead5"/><stop offset="0.6250" stop-color="#2ee0db"/><stop offset="0.6667" stop-color="#20d4e1"/><stop offset="0.7083" stop-color="#11c6e6"/><stop offset="0.7500" stop-color="#03b7eb"/><stop offset="0.7917" stop-color="#0ca7ef"/><stop offset="0.8333" stop-color="#1b95f3"/><stop offset="0.8750" stop-color="#2a81f6"/><stop offset="0.9167" stop-color="#396cf9"/><stop offset="0.9583" stop-color="#4856fb"/><stop offset="1.0000" stop-color="#5740fd"/></linearGradient>
<linearGradient id="as32" x1="0" y1="0" x2="0" y2="1"><stop offset="0.0000" stop-color="#ffa156"/><stop offset="0.0417" stop-color="#ffb361"/><stop offset="0.0833" stop-color="#f1c36c"/><stop offset="0.1250" stop-color="#e2d276"/><stop offset="0.1667" stop-color="#d3de81"/><stop offset="0.2083" stop-color="#c3e98b"/><stop offset="0.2500" stop-color="#b4f295"/><stop offset="0.2917" stop-color="#a5f89e"/><stop offset="0.3333" stop-color="#96fca7"/><stop offset="0.3750" stop-color="#88ffb0"/><stop offset="0.4167" stop-color="#79ffb8"/><stop offset="0.4583" stop-color="#6afdc0"/><stop offset="0.5000" stop-color="#5bf9c7"/><stop offset="0.5417" stop-color="#4cf2ce"/><stop offset="0.5833" stop-color="#3eead5"/><stop offset="0.6250" stop-color="#2fe0db"/><stop offset="0.6667" stop-color="#20d4e1"/><stop offset="0.7083" stop-color="#12c7e6"/><stop offset="0.7500" stop-color="#03b8eb"/><stop offset="0.7917" stop-color="#0ba7ef"/><stop offset="0.8333" stop-color="#1a95f3"/><stop offset="0.8750" stop-color="#2981f6"/><stop offset="0.9167" stop-color="#386cf9"/><stop offset="0.9583" stop-color="#4757fb"/><stop offset="1.0000" stop-color="#5640fd"/></linearGradient>
<linearGradient id="as33" x1="0" y1="0" x2="0" y2="1"><stop offset="0.0000" stop-color="#ff9f54"/><stop offset="0.0417" stop-color="#ffb15f"/><stop offset="0.0833" stop-color="#f3c16a"/><stop offset="0.1250" stop-color="#e3d075"/><stop offset="0.1667" stop-color="#d4dd80"/><stop offset="0.2083" stop-color="#c5e88a"/><stop offset="0.2500" stop-color="#b6f194"/><stop offset="0.2917" stop-color="#a7f89d"/><stop offset="0.3333" stop-color="#98fca6"/><stop offset="0.3750" stop-color="#89ffaf"/><stop offset="0.4167" stop-color="#7affb7"/><stop offset="0.4583" stop-color="#6bfdbf"/><stop offset="0.5000" stop-color="#5cf9c7"/><stop offset="0.5417" stop-color="#4df3ce"/><stop offset="0.5833" stop-color="#3eebd5"/><stop offset="0.6250" stop-color="#30e1db"/><stop offset="0.6667" stop-color="#21d5e0"/><stop offset="0.7083" stop-color="#12c7e6"/><stop offset="0.7500" stop-color="#04b8ea"/><stop offset="0.7917" stop-color="#0ba8ef"/><stop offset="0.8333" stop-color="#1a96f3"/><stop offset="0.8750" stop-color="#2982f6"/><stop offset="0.9167" stop-color="#386df9"/><stop offset="0.9583" stop-color="#4757fb"/><stop offset="1.0000" stop-color="#5641fd"/></linearGradient>
<linearGradient id="as34" x1="0" y1="0" x2="0" y2="1"><stop offset="0.0000" stop-color="#ff9c53"/><stop offset="0.0417" stop-color="#ffaf5e"/><stop offset="0.0833" stop-color="#f5c069"/><stop offset="0.1250" stop-color="#e5cf74"/><stop offset="0.1667" stop-color="#d6dc7f"/><stop offset="0.2083" stop-color="#c6e789"/><stop offset="0.2500" stop-color="#b7f093"/><stop offset="0.2917" stop-color="#a8f79d"/><stop offset="0.3333" stop-color="#99fca6"/><stop offset="0.3750" stop-color="#8afeaf"/><stop offset="0.4167" stop-color="#7bffb7"/><stop offset="0.4583" stop-color="#6cfdbf"/><stop offset="0.5000" stop-color="#5df9c7"/><stop offset="0.5417" stop-color="#4ef3ce"/><stop offset="0.5833" stop-color="#3febd4"/><stop offset="0.6250" stop-color="#30e1db"/><stop offset="0.6667" stop-color="#22d5e0"/><stop offset="0.7083" stop-color="#13c8e6"/><stop offset="0.7500" stop-color="#04b9ea"/><stop offset="0.7917" stop-color="#0ba8ef"/><stop offset="0.8333" stop-color="#1996f3"/><stop offset="0.8750" stop-color="#2982f6"/><stop offset="0.9167" stop-color="#386df9"/><stop offset="0.9583" stop-color="#4758fb"/><stop offset="1.0000" stop-color="#5641fd"/></linearGradient>
<linearGradient id="as35" x1="0" y1="0" x2="0" y2="1"><stop offset="0.0000" stop-color="#ff9a51"/><stop offset="0.0417" stop-color="#ffad5d"/><stop offset="0.0833" stop-color="#f6be68"/><stop offset="0.1250" stop-color="#e7cd73"/><stop offset="0.1667" stop-color="#d7db7e"/><stop offset="0.2083" stop-color="#c8e688"/><stop offset="0.2500" stop-color="#b8f092"/><stop offset="0.2917" stop-color="#a9f79c"/><stop offset="0.3333" stop-color="#9afca5"/><stop offset="0.3750" stop-color="#8bfeae"/><stop offset="0.4167" stop-color="#7cffb6"/><stop offset="0.4583" stop-color="#6dfdbe"/><stop offset="0.5000" stop-color="#5ef9c6"/><stop offset="0.5417" stop-color="#4ff4cd"/><stop offset="0.5833" stop-color="#40ecd4"/><stop offset="0.6250" stop-color="#31e2da"/><stop offset="0.6667" stop-color="#22d6e0"/><stop offset="0.7083" stop-color="#13c8e5"/><stop offset="0.7500" stop-color="#05b9ea"/><stop offset="0.7917" stop-color="#0aa9ef"/><stop offset="0.8333" stop-color="#1996f2"/><stop offset="0.8750" stop-color="#2883f6"/><stop offset="0.9167" stop-color="#376ef9"/><stop offset="0.9583" stop-color="#4658fb"/><stop offset="1.0000" stop-color="#5542fd"/></linearGradient>
<linearGradient id="as36" x1="0" y1="0" x2="0" y2="1"><stop offset="0.0000" stop-color="#ff9850"/><stop offset="0.0417" stop-color="#ffab5c"/><stop offset="0.0833" stop-color="#f8bc67"/><stop offset="0.1250" stop-color="#e8cc72"/><stop offset="0.1667" stop-color="#d9da7d"/><stop offset="0.2083" stop-color="#c9e587"/><stop offset="0.2500" stop-color="#b9ef91"/><stop offset="0.2917" stop-color="#aaf69b"/><stop offset="0.3333" stop-color="#9bfba4"/><stop offset="0.3750" stop-color="#8cfead"/><stop offset="0.4167" stop-color="#7dffb6"/><stop offset="0.4583" stop-color="#6dfdbe"/><stop offset="0.5000" stop-color="#5efac6"/><stop offset="0.5417" stop-color="#4ff4cd"/><stop offset="0.5833" stop-color="#40ecd4"/><stop offset="0.6250" stop-color="#31e2da"/><stop offset="0.6667" stop-color="#23d6e0"/><stop offset="0.7083" stop-color="#14c9e5"/><stop offset="0.7500" stop-color="#05baea"/><stop offset="0.7917" stop-color="#0aa9ee"/><stop offset="0.8333" stop-color="#1997f2"/><stop offset="0.8750" stop-color="#2883f6"/><stop offset="0.9167" stop-color="#376ef9"/><stop offset="0.9583" stop-color="#4658fb"/><stop offset="1.0000" stop-color="#5542fd"/></linearGradient>
<linearGradient id="as37" x1="0" y1="0" x2="0" y2="1"><stop offset="0.0000" stop-color="#ff9750"/><stop offset="0.0417" stop-color="#ffaa5b"/><stop offset="0.0833" stop-color="#f8bc66"/><stop offset="0.1250" stop-color="#e9cb72"/><stop offset="0.1667" stop-color="#d9d97c"/><stop offset="0.2083" stop-color="#c9e587"/><stop offset="0.2500" stop-color="#baef91"/><stop offset="0.2917" stop-color="#aaf69b"/><stop offset="0.3333" stop-color="#9bfba4"/><stop offset="0.3750" stop-color="#8cfead"/><stop offset="0.4167" stop-color="#7dffb6"/><stop offset="0.4583" stop-color="#6efdbe"/><stop offset="0.5000" stop-color="#5ffac6"/><stop offset="0.5417" stop-color="#4ff4cd"/><stop offset="0.5833" stop-color="#40ecd4"/><stop offset="0.6250" stop-color="#32e2da"/><stop offset="0.6667" stop-color="#23d6e0"/><stop offset="0.7083" stop-color="#14c9e5"/><stop offset="0.7500" stop-color="#05baea"/><stop offset="0.7917" stop-color="#0aa9ee"/><stop offset="0.8333" stop-color="#1997f2"/><stop offset="0.8750" stop-color="#2883f6"/><stop offset="0.9167" stop-color="#376ef9"/><stop offset="0.9583" stop-color="#4658fb"/><stop offset="1.0000" stop-color="#5542fd"/></linearGradient>
<linearGradient id="as38" x1="0" y1="0" x2="0" y2="1"><stop offset="0.0000" stop-color="#ff964f"/><stop offset="0.0417" stop-color="#ffa95b"/><stop offset="0.0833" stop-color="#f9bb66"/><stop offset="0.1250" stop-color="#e9cb71"/><stop offset="0.1667" stop-color="#dad97c"/><stop offset="0.2083" stop-color="#cae587"/><stop offset="0.2500" stop-color="#baee91"/><stop offset="0.2917" stop-color="#abf69b"/><stop offset="0.3333" stop-color="#9cfba4"/><stop offset="0.3750" stop-color="#8cfead"/><stop offset="0.4167" stop-color="#7dffb6"/><stop offset="0.4583" stop-color="#6efebe"/><stop offset="0.5000" stop-color="#5ffac6"/><stop offset="0.5417" stop-color="#50f4cd"/><stop offset="0.5833" stop-color="#41ecd4"/><stop offset="0.6250" stop-color="#32e2da"/><stop offset="0.6667" stop-color="#23d7e0"/><stop offset="0.7083" stop-color="#14c9e5"/><stop offset="0.7500" stop-color="#05baea"/><stop offset="0.7917" stop-color="#0aa9ee"/><stop offset="0.8333" stop-color="#1997f2"/><stop offset="0.8750" stop-color="#2883f6"/><stop offset="0.9167" stop-color="#376ef9"/><stop offset="0.9583" stop-color="#4659fb"/><stop offset="1.0000" stop-color="#5542fd"/></linearGradient>
<linearGradient id="as39" x1="0" y1="0" x2="0" y2="1"><stop offset="0.0000" stop-color="#ff954e"/><stop offset="0.0417" stop-color="#ffa85a"/><stop offset="0.0833" stop-color="#faba65"/><stop offset="0.1250" stop-color="#eaca71"/><stop offset="0.1667" stop-color="#dad87c"/><stop offset="0.2083" stop-color="#cbe486"/><stop offset="0.2500" stop-color="#bbee91"/><stop offset="0.2917" stop-color="#abf69a"/><stop offset="0.3333" stop-color="#9cfba4"/><stop offset="0.3750" stop-color="#8dfead"/><stop offset="0.4167" stop-color="#7effb5"/><stop offset="0.4583" stop-color="#6efebe"/><stop offset="0.5000" stop-color="#5ffac5"/><stop offset="0.5417" stop-color="#50f4cd"/><stop offset="0.5833" stop-color="#41ecd4"/><stop offset="0.6250" stop-color="#32e2da"/><stop offset="0.6667" stop-color="#23d7e0"/><stop offset="0.7083" stop-color="#14c9e5"/><stop offset="0.7500" stop-color="#05baea"/><stop offset="0.7917" stop-color="#0aa9ee"/><stop offset="0.8333" stop-color="#1997f2"/><stop offset="0.8750" stop-color="#2883f6"/><stop offset="0.9167" stop-color="#376ef9"/><stop offset="0.9583" stop-color="#4659fb"/><stop offset="1.0000" stop-color="#5542fd"/></linearGradient>
<linearGradient id="as40" x1="0" y1="0" x2="0" y2="1"><stop offset="0.0000" stop-color="#ff944e"/><stop offset="0.0417" stop-color="#ffa759"/><stop offset="0.0833" stop-color="#fab965"/><stop offset="0.1250" stop-color="#ebc970"/><stop offset="0.1667" stop-color="#dbd87b"/><stop offset="0.2083" stop-color="#cbe486"/><stop offset="0.2500" stop-color="#bbee90"/><stop offset="0.2917" stop-color="#acf69a"/><stop offset="0.3333" stop-color="#9dfba4"/><stop offset="0.3750" stop-color="#8dfead"/><stop offset="0.4167" stop-color="#7effb5"/><stop offset="0.4583" stop-color="#6ffebd"/><stop offset="0.5000" stop-color="#5ffac5"/><stop offset="0.5417" stop-color="#50f4cd"/><stop offset="0.5833" stop-color="#41ecd3"/><stop offset="0.6250" stop-color="#32e3da"/><stop offset="0.6667" stop-color="#23d7e0"/><stop offset="0.7083" stop-color="#14c9e5"/><stop offset="0.7500" stop-color="#05baea"/><stop offset="0.7917" stop-color="#0aa9ee"/><stop offset="0.8333" stop-color="#1997f2"/><stop offset="0.8750" stop-color="#2883f6"/><stop offset="0.9167" stop-color="#376ff9"/><stop offset="0.9583" stop-color="#4659fb"/><stop offset="1.0000" stop-color="#5543fd"/></linearGradient>
<linearGradient id="as41" x1="0" y1="0" x2="0" y2="1"><stop offset="0.0000" stop-color="#ff934d"/><stop offset="0.0417" stop-color="#ffa759"/><stop offset="0.0833" stop-color="#fbb964"/><stop offset="0.1250" stop-color="#ebc970"/><stop offset="0.1667" stop-color="#dcd77b"/><stop offset="0.2083" stop-color="#cce385"/><stop offset="0.2500" stop-color="#bcee90"/><stop offset="0.2917" stop-color="#acf59a"/><stop offset="0.3333" stop-color="#9dfba3"/><stop offset="0.3750" stop-color="#8efeac"/><stop offset="0.4167" stop-color="#7effb5"/><stop offset="0.4583" stop-color="#6ffebd"/><stop offset="0.5000" stop-color="#60fac5"/><stop offset="0.5417" stop-color="#50f4cd"/><stop offset="0.5833" stop-color="#41edd3"/><stop offset="0.6250" stop-color="#32e3da"/><stop offset="0.6667" stop-color="#23d7e0"/><stop offset="0.7083" stop-color="#14c9e5"/><stop offset="0.7500" stop-color="#05baea"/><stop offset="0.7917" stop-color="#0aa9ee"/><stop offset="0.8333" stop-color="#1997f2"/><stop offset="0.8750" stop-color="#2883f6"/><stop offset="0.9167" stop-color="#376ff9"/><stop offset="0.9583" stop-color="#4659fb"/><stop offset="1.0000" stop-color="#5543fd"/></linearGradient>
<linearGradient id="as42" x1="0" y1="0" x2="0" y2="1"><stop offset="0.0000" stop-color="#ff924c"/><stop offset="0.0417" stop-color="#ffa658"/><stop offset="0.0833" stop-color="#fcb864"/><stop offset="0.1250" stop-color="#ecc86f"/><stop offset="0.1667" stop-color="#dcd77a"/><stop offset="0.2083" stop-color="#cce385"/><stop offset="0.2500" stop-color="#bced90"/><stop offset="0.2917" stop-color="#adf59a"/><stop offset="0.3333" stop-color="#9dfba3"/><stop offset="0.3750" stop-color="#8efeac"/><stop offset="0.4167" stop-color="#7fffb5"/><stop offset="0.4583" stop-color="#6ffebd"/><stop offset="0.5000" stop-color="#60fac5"/><stop offset="0.5417" stop-color="#51f4cc"/><stop offset="0.5833" stop-color="#42edd3"/><stop offset="0.6250" stop-color="#33e3da"/><stop offset="0.6667" stop-color="#24d7e0"/><stop offset="0.7083" stop-color="#14cae5"/><stop offset="0.7500" stop-color="#05baea"/><stop offset="0.7917" stop-color="#0aa9ee"/><stop offset="0.8333" stop-color="#1997f2"/><stop offset="0.8750" stop-color="#2884f6"/><stop offset="0.9167" stop-color="#376ff9"/><stop offset="0.9583" stop-color="#4559fb"/><stop offset="1.0000" stop-color="#5443fd"/></linearGradient>
<linearGradient id="as43" x1="0" y1="0" x2="0" y2="1"><stop offset="0.0000" stop-color="#ff914c"/><stop offset="0.0417" stop-color="#ffa558"/><stop offset="0.0833" stop-color="#fdb763"/><stop offset="0.1250" stop-color="#edc76f"/><stop offset="0.1667" stop-color="#ddd67a"/><stop offset="0.2083" stop-color="#cde385"/><stop offset="0.2500" stop-color="#bded8f"/><stop offset="0.2917" stop-color="#adf599"/><stop offset="0.3333" stop-color="#9efba3"/><stop offset="0.3750" stop-color="#8efeac"/><stop offset="0.4167" stop-color="#7fffb5"/><stop offset="0.4583" stop-color="#70febd"/><stop offset="0.5000" stop-color="#60fac5"/><stop offset="0.5417" stop-color="#51f5cc"/><stop offset="0.5833" stop-color="#42edd3"/><stop offset="0.6250" stop-color="#33e3da"/><stop offset="0.6667" stop-color="#24d7df"/><stop offset="0.7083" stop-color="#15cae5"/><stop offset="0.7500" stop-color="#06baea"/><stop offset="0.7917" stop-color="#09aaee"/><stop offset="0.8333" stop-color="#1897f2"/><stop offset="0.8750" stop-color="#2784f6"/><stop offset="0.9167" stop-color="#366ff9"/><stop offset="0.9583" stop-color="#4559fb"/><stop offset="1.0000" stop-color="#5443fd"/></linearGradient>
<linearGradient id="as44" x1="0" y1="0" x2="0" y2="1"><stop offset="0.0000" stop-color="#ff904b"/><stop offset="0.0417" stop-color="#ffa457"/><stop offset="0.0833" stop-color="#fdb663"/><stop offset="0.1250" stop-color="#edc76e"/><stop offset="0.1667" stop-color="#ddd679"/><stop offset="0.2083" stop-color="#cde284"/><stop offset="0.2500" stop-color="#bded8f"/><stop offset="0.2917" stop-color="#aef599"/><stop offset="0.3333" stop-color="#9efaa2"/><stop offset="0.3750" stop-color="#8ffeac"/><stop offset="0.4167" stop-color="#7fffb4"/><stop offset="0.4583" stop-color="#70febd"/><stop offset="0.5000" stop-color="#61fac5"/><stop offset="0.5417" stop-color="#51f5cc"/><stop offset="0.5833" stop-color="#42edd3"/><stop offset="0.6250" stop-color="#33e3d9"/><stop offset="0.6667" stop-color="#24d7df"/><stop offset="0.7083" stop-color="#15cae5"/><stop offset="0.7500" stop-color="#06bbea"/><stop offset="0.7917" stop-color="#09aaee"/><stop offset="0.8333" stop-color="#1897f2"/><stop offset="0.8750" stop-color="#2784f6"/><stop offset="0.9167" stop-color="#366ff9"/><stop offset="0.9583" stop-color="#4559fb"/><stop offset="1.0000" stop-color="#5443fd"/></linearGradient>
<linearGradient id="as45" x1="0" y1="0" x2="0" y2="1"><stop offset="0.0000" stop-color="#ff8e4a"/><stop offset="0.0417" stop-color="#ffa357"/><stop offset="0.0833" stop-color="#feb562"/><stop offset="0.1250" stop-color="#eec66e"/><stop offset="0.1667" stop-color="#ded579"/><stop offset="0.2083" stop-color="#cee284"/><stop offset="0.2500" stop-color="#beec8f"/><stop offset="0.2917" stop-color="#aef599"/><stop offset="0.3333" stop-color="#9ffaa2"/><stop offset="0.3750" stop-color="#8ffeab"/><stop offset="0.4167" stop-color="#80ffb4"/><stop offset="0.4583" stop-color="#70febd"/><stop offset="0.5000" stop-color="#61fac5"/><stop offset="0.5417" stop-color="#51f5cc"/><stop offset="0.5833" stop-color="#42edd3"/><stop offset="0.6250" stop-color="#33e3d9"/><stop offset="0.6667" stop-color="#24d8df"/><stop offset="0.7083" stop-color="#15cae5"/><stop offset="0.7500" stop-color="#06bbea"/><stop offset="0.7917" stop-color="#09aaee"/><stop offset="0.8333" stop-color="#1897f2"/><stop offset="0.8750" stop-color="#2784f6"/><stop offset="0.9167" stop-color="#366ff9"/><stop offset="0.9583" stop-color="#455afb"/><stop offset="1.0000" stop-color="#5443fd"/></linearGradient>
<linearGradient id="as46" x1="0" y1="0" x2="0" y2="1"><stop offset="0.0000" stop-color="#ff8e4a"/><stop offset="0.0417" stop-color="#ffa256"/><stop offset="0.0833" stop-color="#feb562"/><stop offset="0.1250" stop-color="#eec66e"/><stop offset="0.1667" stop-color="#ded579"/><stop offset="0.2083" stop-color="#cee284"/><stop offset="0.2500" stop-color="#beec8e"/><stop offset="0.2917" stop-color="#aef599"/><stop offset="0.3333" stop-color="#9ffaa2"/><stop offset="0.3750" stop-color="#8ffeab"/><stop offset="0.4167" stop-color="#80ffb4"/><stop offset="0.4583" stop-color="#70febd"/><stop offset="0.5000" stop-color="#61fac4"/><stop offset="0.5417" stop-color="#51f5cc"/><stop offset="0.5833" stop-color="#42edd3"/><stop offset="0.6250" stop-color="#33e3d9"/><stop offset="0.6667" stop-color="#24d8df"/><stop offset="0.7083" stop-color="#15cae5"/><stop offset="0.7500" stop-color="#06bbea"/><stop offset="0.7917" stop-color="#09aaee"/><stop offset="0.8333" stop-color="#1897f2"/><stop offset="0.8750" stop-color="#2784f6"/><stop offset="0.9167" stop-color="#366ff9"/><stop offset="0.9583" stop-color="#455afb"/><stop offset="1.0000" stop-color="#5443fd"/></linearGradient>
<linearGradient id="as47" x1="0" y1="0" x2="0" y2="1"><stop offset="0.0000" stop-color="#ff8e4a"/><stop offset="0.0417" stop-color="#ffa256"/><stop offset="0.0833" stop-color="#ffb562"/><stop offset="0.1250" stop-color="#eec66d"/><stop offset="0.1667" stop-color="#ded579"/><stop offset="0.2083" stop-color="#cee284"/><stop offset="0.2500" stop-color="#beec8e"/><stop offset="0.2917" stop-color="#aef499"/><stop offset="0.3333" stop-color="#9ffaa2"/><stop offset="0.3750" stop-color="#8ffeab"/><stop offset="0.4167" stop-color="#80ffb4"/><stop offset="0.4583" stop-color="#70febc"/><stop offset="0.5000" stop-color="#61fbc4"/><stop offset="0.5417" stop-color="#52f5cc"/><stop offset="0.5833" stop-color="#42edd3"/><stop offset="0.6250" stop-color="#33e3d9"/><stop offset="0.6667" stop-color="#24d8df"/><stop offset="0.7083" stop-color="#15cae5"/><stop offset="0.7500" stop-color="#06bbea"/><stop offset="0.7917" stop-color="#09aaee"/><stop offset="0.8333" stop-color="#1897f2"/><stop offset="0.8750" stop-color="#2784f6"/><stop offset="0.9167" stop-color="#366ff9"/><stop offset="0.9583" stop-color="#455afb"/><stop offset="1.0000" stop-color="#5443fd"/></linearGradient>
<linearGradient id="as48" x1="0" y1="0" x2="0" y2="1"><stop offset="0.0000" stop-color="#ff8e4a"/><stop offset="0.0417" stop-color="#ffa256"/><stop offset="0.0833" stop-color="#ffb562"/><stop offset="0.1250" stop-color="#efc66d"/><stop offset="0.1667" stop-color="#dfd579"/><stop offset="0.2083" stop-color="#cee184"/><stop offset="0.2500" stop-color="#beec8e"/><stop offset="0.2917" stop-color="#aef498"/><stop offset="0.3333" stop-color="#9ffaa2"/><stop offset="0.3750" stop-color="#8ffeab"/><stop offset="0.4167" stop-color="#80ffb4"/><stop offset="0.4583" stop-color="#71febc"/><stop offset="0.5000" stop-color="#61fbc4"/><stop offset="0.5417" stop-color="#52f5cc"/><stop offset="0.5833" stop-color="#42edd3"/><stop offset="0.6250" stop-color="#33e3d9"/><stop offset="0.6667" stop-color="#24d8df"/><stop offset="0.7083" stop-color="#15cae5"/><stop offset="0.7500" stop-color="#06bbea"/><stop offset="0.7917" stop-color="#09aaee"/><stop offset="0.8333" stop-color="#1897f2"/><stop offset="0.8750" stop-color="#2784f6"/><stop offset="0.9167" stop-color="#366ff9"/><stop offset="0.9583" stop-color="#455afb"/><stop offset="1.0000" stop-color="#5443fd"/></linearGradient>
<linearGradient id="as49" x1="0" y1="0" x2="0" y2="1"><stop offset="0.0000" stop-color="#ff8d4a"/><stop offset="0.0417" stop-color="#ffa256"/><stop offset="0.0833" stop-color="#ffb462"/><stop offset="0.1250" stop-color="#efc56d"/><stop offset="0.1667" stop-color="#dfd479"/><stop offset="0.2083" stop-color="#cfe184"/><stop offset="0.2500" stop-color="#beec8e"/><stop offset="0.2917" stop-color="#aff498"/><stop offset="0.3333" stop-color="#9ffaa2"/><stop offset="0.3750" stop-color="#90feab"/><stop offset="0.4167" stop-color="#80ffb4"/><stop offset="0.4583" stop-color="#71febc"/><stop offset="0.5000" stop-color="#61fbc4"/><stop offset="0.5417" stop-color="#52f5cc"/><stop offset="0.5833" stop-color="#42edd3"/><stop offset="0.6250" stop-color="#33e3d9"/><stop offset="0.6667" stop-color="#24d8df"/><stop offset="0.7083" stop-color="#15cae5"/><stop offset="0.7500" stop-color="#06bbea"/><stop offset="0.7917" stop-color="#09aaee"/><stop offset="0.8333" stop-color="#1898f2"/><stop offset="0.8750" stop-color="#2784f6"/><stop offset="0.9167" stop-color="#366ff9"/><stop offset="0.9583" stop-color="#455afb"/><stop offset="1.0000" stop-color="#5443fd"/></linearGradient>
<linearGradient id="as50" x1="0" y1="0" x2="0" y2="1"><stop offset="0.0000" stop-color="#ff8d4a"/><stop offset="0.0417" stop-color="#ffa156"/><stop offset="0.0833" stop-color="#ffb462"/><stop offset="0.1250" stop-color="#efc56d"/><stop offset="0.1667" stop-color="#dfd478"/><stop offset="0.2083" stop-color="#cfe183"/><stop offset="0.2500" stop-color="#bfec8e"/><stop offset="0.2917" stop-color="#aff498"/><stop offset="0.3333" stop-color="#9ffaa2"/><stop offset="0.3750" stop-color="#90feab"/><stop offset="0.4167" stop-color="#80ffb4"/><stop offset="0.4583" stop-color="#71febc"/><stop offset="0.5000" stop-color="#61fbc4"/><stop offset="0.5417" stop-color="#52f5cc"/><stop offset="0.5833" stop-color="#43edd3"/><stop offset="0.6250" stop-color="#33e3d9"/><stop offset="0.6667" stop-color="#24d8df"/><stop offset="0.7083" stop-color="#15cae5"/><stop offset="0.7500" stop-color="#06bbea"/><stop offset="0.7917" stop-color="#09aaee"/><stop offset="0.8333" stop-color="#1898f2"/><stop offset="0.8750" stop-color="#2784f6"/><stop offset="0.9167" stop-color="#366ff9"/><stop offset="0.9583" stop-color="#455afb"/><stop offset="1.0000" stop-color="#5443fd"/></linearGradient>
<linearGradient id="as51" x1="0" y1="0" x2="0" y2="1"><stop offset="0.0000" stop-color="#ff8d4a"/><stop offset="0.0417" stop-color="#ffa156"/><stop offset="0.0833" stop-color="#ffb461"/><stop offset="0.1250" stop-color="#efc56d"/><stop offset="0.1667" stop-color="#dfd478"/><stop offset="0.2083" stop-color="#cfe183"/><stop offset="0.2500" stop-color="#bfec8e"/><stop offset="0.2917" stop-color="#aff498"/><stop offset="0.3333" stop-color="#9ffaa2"/><stop offset="0.3750" stop-color="#90feab"/><stop offset="0.4167" stop-color="#80ffb4"/><stop offset="0.4583" stop-color="#71febc"/><stop offset="0.5000" stop-color="#61fbc4"/><stop offset="0.5417" stop-color="#52f5cc"/><stop offset="0.5833" stop-color="#43edd3"/><stop offset="0.6250" stop-color="#33e4d9"/><stop offset="0.6667" stop-color="#24d8df"/><stop offset="0.7083" stop-color="#15cae5"/><stop offset="0.7500" stop-color="#06bbea"/><stop offset="0.7917" stop-color="#09aaee"/><stop offset="0.8333" stop-color="#1898f2"/><stop offset="0.8750" stop-color="#2784f6"/><stop offset="0.9167" stop-color="#366ff9"/><stop offset="0.9583" stop-color="#455afb"/><stop offset="1.0000" stop-color="#5443fd"/></linearGradient>
<linearGradient id="as52" x1="0" y1="0" x2="0" y2="1"><stop offset="0.0000" stop-color="#ff8d4a"/><stop offset="0.0417" stop-color="#ffa155"/><stop offset="0.0833" stop-color="#ffb461"/><stop offset="0.1250" stop-color="#efc56d"/><stop offset="0.1667" stop-color="#dfd478"/><stop offset="0.2083" stop-color="#cfe183"/><stop offset="0.2500" stop-color="#bfec8e"/><stop offset="0.2917" stop-color="#aff498"/><stop offset="0.3333" stop-color="#9ffaa2"/><stop offset="0.3750" stop-color="#90feab"/><stop offset="0.4167" stop-color="#80ffb4"/><stop offset="0.4583" stop-color="#71febc"/><stop offset="0.5000" stop-color="#61fbc4"/><stop offset="0.5417" stop-color="#52f5cc"/><stop offset="0.5833" stop-color="#43edd3"/><stop offset="0.6250" stop-color="#34e4d9"/><stop offset="0.6667" stop-color="#24d8df"/><stop offset="0.7083" stop-color="#15cae5"/><stop offset="0.7500" stop-color="#06bbea"/><stop offset="0.7917" stop-color="#09aaee"/><stop offset="0.8333" stop-color="#1898f2"/><stop offset="0.8750" stop-color="#2784f6"/><stop offset="0.9167" stop-color="#366ff9"/><stop offset="0.9583" stop-color="#455afb"/><stop offset="1.0000" stop-color="#5443fd"/></linearGradient>
<linearGradient id="as53" x1="0" y1="0" x2="0" y2="1"><stop offset="0.0000" stop-color="#ff8d49"/><stop offset="0.0417" stop-color="#ffa155"/><stop offset="0.0833" stop-color="#ffb461"/><stop offset="0.1250" stop-color="#efc56d"/><stop offset="0.1667" stop-color="#dfd478"/><stop offset="0.2083" stop-color="#cfe183"/><stop offset="0.2500" stop-color="#bfec8e"/><stop offset="0.2917" stop-color="#aff498"/><stop offset="0.3333" stop-color="#9ffaa2"/><stop offset="0.3750" stop-color="#90feab"/><stop offset="0.4167" stop-color="#80ffb4"/><stop offset="0.4583" stop-color="#71febc"/><stop offset="0.5000" stop-color="#61fbc4"/><stop offset="0.5417" stop-color="#52f5cc"/><stop offset="0.5833" stop-color="#43edd3"/><stop offset="0.6250" stop-color="#34e4d9"/><stop offset="0.6667" stop-color="#24d8df"/><stop offset="0.7083" stop-color="#15cae5"/><stop offset="0.7500" stop-color="#06bbea"/><stop offset="0.7917" stop-color="#09aaee"/><stop offset="0.8333" stop-color="#1898f2"/><stop offset="0.8750" stop-color="#2784f6"/><stop offset="0.9167" stop-color="#366ff9"/><stop offset="0.9583" stop-color="#455afb"/><stop offset="1.0000" stop-color="#5443fd"/></linearGradient>
<linearGradient id="as54" x1="0" y1="0" x2="0" y2="1"><stop offset="0.0000" stop-color="#ff8c49"/><stop offset="0.0417" stop-color="#ffa155"/><stop offset="0.0833" stop-color="#ffb361"/><stop offset="0.1250" stop-color="#f0c56d"/><stop offset="0.1667" stop-color="#dfd478"/><stop offset="0.2083" stop-color="#cfe183"/><stop offset="0.2500" stop-color="#bfec8e"/><stop offset="0.2917" stop-color="#aff498"/><stop offset="0.3333" stop-color="#a0faa2"/><stop offset="0.3750" stop-color="#90feab"/><stop offset="0.4167" stop-color="#81ffb4"/><stop offset="0.4583" stop-color="#71febc"/><stop offset="0.5000" stop-color="#62fbc4"/><stop offset="0.5417" stop-color="#52f5cc"/><stop offset="0.5833" stop-color="#43edd3"/><stop offset="0.6250" stop-color="#34e4d9"/><stop offset="0.6667" stop-color="#24d8df"/><stop offset="0.7083" stop-color="#15cae5"/><stop offset="0.7500" stop-color="#06bbea"/><stop offset="0.7917" stop-color="#09aaee"/><stop offset="0.8333" stop-color="#1898f2"/><stop offset="0.8750" stop-color="#2784f6"/><stop offset="0.9167" stop-color="#366ff9"/><stop offset="0.9583" stop-color="#455afb"/><stop offset="1.0000" stop-color="#5443fd"/></linearGradient>
<linearGradient id="acb" x1="0" y1="0" x2="0" y2="1"><stop offset="0.000" stop-color="#ff0000"/><stop offset="0.025" stop-color="#ff140a"/><stop offset="0.050" stop-color="#ff2814"/><stop offset="0.075" stop-color="#ff3c1e"/><stop offset="0.100" stop-color="#ff4f28"/><stop offset="0.125" stop-color="#ff6232"/><stop offset="0.150" stop-color="#ff743c"/><stop offset="0.175" stop-color="#ff8545"/><stop offset="0.200" stop-color="#ff964f"/><stop offset="0.225" stop-color="#ffa658"/><stop offset="0.250" stop-color="#ffb462"/><stop offset="0.275" stop-color="#f2c26b"/><stop offset="0.300" stop-color="#e5ce74"/><stop offset="0.325" stop-color="#d9d97d"/><stop offset="0.350" stop-color="#cce385"/><stop offset="0.375" stop-color="#bfec8e"/><stop offset="0.400" stop-color="#b2f396"/><stop offset="0.425" stop-color="#a6f89e"/><stop offset="0.450" stop-color="#99fca6"/><stop offset="0.475" stop-color="#8cfead"/><stop offset="0.500" stop-color="#80ffb4"/><stop offset="0.525" stop-color="#73febb"/><stop offset="0.550" stop-color="#66fcc2"/><stop offset="0.575" stop-color="#59f8c8"/><stop offset="0.600" stop-color="#4df3ce"/><stop offset="0.625" stop-color="#40ecd4"/><stop offset="0.650" stop-color="#33e3d9"/><stop offset="0.675" stop-color="#26d9de"/><stop offset="0.700" stop-color="#1acee3"/><stop offset="0.725" stop-color="#0dc2e8"/><stop offset="0.750" stop-color="#00b4ec"/><stop offset="0.775" stop-color="#0da6ef"/><stop offset="0.800" stop-color="#1a96f3"/><stop offset="0.825" stop-color="#2685f5"/><stop offset="0.850" stop-color="#3374f8"/><stop offset="0.875" stop-color="#4062fa"/><stop offset="0.900" stop-color="#4d4ffc"/><stop offset="0.925" stop-color="#593cfd"/><stop offset="0.950" stop-color="#6628fe"/><stop offset="0.975" stop-color="#7314ff"/><stop offset="1.000" stop-color="#8000ff"/></linearGradient>
<linearGradient id="bc" x1="0" y1="0" x2="0" y2="1"><stop offset="0.0000" stop-color="#ff8b49"/><stop offset="0.0417" stop-color="#ff9f54"/><stop offset="0.0833" stop-color="#ffb260"/><stop offset="0.1250" stop-color="#f2c26b"/><stop offset="0.1667" stop-color="#e2d176"/><stop offset="0.2083" stop-color="#d2de81"/><stop offset="0.2500" stop-color="#c3e98b"/><stop offset="0.2917" stop-color="#b3f296"/><stop offset="0.3333" stop-color="#a4f99f"/><stop offset="0.3750" stop-color="#94fda8"/><stop offset="0.4167" stop-color="#85ffb1"/><stop offset="0.4583" stop-color="#76ffba"/><stop offset="0.5000" stop-color="#67fcc2"/><stop offset="0.5417" stop-color="#57f7c9"/><stop offset="0.5833" stop-color="#48f0d0"/><stop offset="0.6250" stop-color="#39e7d7"/><stop offset="0.6667" stop-color="#29dcdd"/><stop offset="0.7083" stop-color="#1acfe3"/><stop offset="0.7500" stop-color="#0bc0e8"/><stop offset="0.7917" stop-color="#05afed"/><stop offset="0.8333" stop-color="#149df1"/><stop offset="0.8750" stop-color="#2389f5"/><stop offset="0.9167" stop-color="#3374f8"/><stop offset="0.9583" stop-color="#425efa"/><stop offset="1.0000" stop-color="#5247fc"/></linearGradient>
<linearGradient id="bs0" x1="0" y1="0" x2="0" y2="1"><stop offset="0.0000" stop-color="#5df9c6"/><stop offset="0.0417" stop-color="#51f5cc"/><stop offset="0.0833" stop-color="#49f1d0"/><stop offset="0.1250" stop-color="#42edd3"/><stop offset="0.1667" stop-color="#3be8d6"/><stop offset="0.2083" stop-color="#33e4d9"/><stop offset="0.2500" stop-color="#2cdedc"/><stop offset="0.2917" stop-color="#25d9df"/><stop offset="0.3333" stop-color="#1ed2e2"/><stop offset="0.3750" stop-color="#15cae5"/><stop offset="0.4167" stop-color="#0cc1e8"/><stop offset="0.4583" stop-color="#03b7eb"/><stop offset="0.5000" stop-color="#06aded"/><stop offset="0.5417" stop-color="#0fa2f0"/><stop offset="0.5833" stop-color="#1997f2"/><stop offset="0.6250" stop-color="#218cf4"/><stop offset="0.6667" stop-color="#2a80f6"/><stop offset="0.7083" stop-color="#3374f8"/><stop offset="0.7500" stop-color="#3c68f9"/><stop offset="0.7917" stop-color="#445bfb"/><stop offset="0.8333" stop-color="#4d4efc"/><stop offset="0.8750" stop-color="#5641fd"/><stop offset="0.9167" stop-color="#5f33fe"/><stop offset="0.9583" stop-color="#6726fe"/><stop offset="1.0000" stop-color="#7018ff"/></linearGradient>
<linearGradient id="bs1" x1="0" y1="0" x2="0" y2="1"><stop offset="0.0000" stop-color="#65fcc2"/><stop offset="0.0417" stop-color="#59f8c8"/><stop offset="0.0833" stop-color="#51f4cc"/><stop offset="0.1250" stop-color="#49f1d0"/><stop offset="0.1667" stop-color="#42edd3"/><stop offset="0.2083" stop-color="#3ae8d6"/><stop offset="0.2500" stop-color="#33e3d9"/><stop offset="0.2917" stop-color="#2bdedc"/><stop offset="0.3333" stop-color="#24d7e0"/><stop offset="0.3750" stop-color="#1acfe3"/><stop offset="0.4167" stop-color="#11c6e6"/><stop offset="0.4583" stop-color="#08bde9"/><stop offset="0.5000" stop-color="#02b3ec"/><stop offset="0.5417" stop-color="#0ba8ef"/><stop offset="0.5833" stop-color="#149df1"/><stop offset="0.6250" stop-color="#1d91f3"/><stop offset="0.6667" stop-color="#2685f5"/><stop offset="0.7083" stop-color="#2f79f7"/><stop offset="0.7500" stop-color="#386cf9"/><stop offset="0.7917" stop-color="#415ffa"/><stop offset="0.8333" stop-color="#4a52fc"/><stop offset="0.8750" stop-color="#5344fd"/><stop offset="0.9167" stop-color="#5c37fe"/><stop offset="0.9583" stop-color="#6629fe"/><stop offset="1.0000" stop-color="#6f1aff"/></linearGradient>
<linearGradient id="bs2" x1="0" y1="0" x2="0" y2="1"><stop offset="0.0000" stop-color="#6dfdbe"/><stop offset="0.0417" stop-color="#62fbc4"/><stop offset="0.0833" stop-color="#59f8c9"/><stop offset="0.1250" stop-color="#51f5cc"/><stop offset="0.1667" stop-color="#49f1d0"/><stop offset="0.2083" stop-color="#41ecd3"/><stop offset="0.2500" stop-color="#39e8d7"/><stop offset="0.2917" stop-color="#32e2da"/><stop offset="0.3333" stop-color="#29dcdd"/><stop offset="0.3750" stop-color="#20d4e1"/><stop offset="0.4167" stop-color="#16cbe4"/><stop offset="0.4583" stop-color="#0dc2e8"/><stop offset="0.5000" stop-color="#03b8eb"/><stop offset="0.5417" stop-color="#06aded"/><stop offset="0.5833" stop-color="#10a2f0"/><stop offset="0.6250" stop-color="#1997f2"/><stop offset="0.6667" stop-color="#228af5"/><stop offset="0.7083" stop-color="#2c7ef7"/><stop offset="0.7500" stop-color="#3571f8"/><stop offset="0.7917" stop-color="#3e64fa"/><stop offset="0.8333" stop-color="#4856fb"/><stop offset="0.8750" stop-color="#5148fc"/><stop offset="0.9167" stop-color="#5a3afd"/><stop offset="0.9583" stop-color="#642bfe"/><stop offset="1.0000" stop-color="#6d1cff"/></linearGradient>
<linearGradient id="bs3" x1="0" y1="0" x2="0" y2="1"><stop offset="0.0000" stop-color="#76ffba"/><stop offset="0.0417" stop-color="#6afdc0"/><stop offset="0.0833" stop-color="#60fac5"/><stop offset="0.1250" stop-color="#58f8c9"/><stop offset="0.1667" stop-color="#50f4cd"/><stop offset="0.2083" stop-color="#48f0d0"/><stop offset="0.2500" stop-color="#40ecd4"/><stop offset="0.2917" stop-color="#38e7d7"/><stop offset="0.3333" stop-color="#2fe1db"/><stop offset="0.3750" stop-color="#26d9df"/><stop offset="0.4167" stop-color="#1cd0e2"/><stop offset="0.4583" stop-color="#12c7e6"/><stop offset="0.5000" stop-color="#08bde9"/><stop offset="0.5417" stop-color="#01b3ec"/><stop offset="0.5833" stop-color="#0ba7ef"/><stop offset="0.6250" stop-color="#159cf1"/><stop offset="0.6667" stop-color="#1e8ff4"/><stop offset="0.7083" stop-color="#2883f6"/><stop offset="0.7500" stop-color="#3276f8"/><stop offset="0.7917" stop-color="#3b68f9"/><stop offset="0.8333" stop-color="#455afb"/><stop offset="0.8750" stop-color="#4f4cfc"/><stop offset="0.9167" stop-color="#583dfd"/><stop offset="0.9583" stop-color="#622efe"/><stop offset="1.0000" stop-color="#6c1fff"/></linearGradient>
<linearGradient id="bs4" x1="0" y1="0" x2="0" y2="1"><stop offset="0.0000" stop-color="#7effb5"/><stop offset="0.0417" stop-color="#72febc"/><stop offset="0.0833" stop-color="#68fcc1"/><stop offset="0.1250" stop-color="#60fac5"/><stop offset="0.1667" stop-color="#57f7c9"/><stop offset="0.2083" stop-color="#4ff4cd"/><stop offset="0.2500" stop-color="#47efd1"/><stop offset="0.2917" stop-color="#3eebd5"/><stop offset="0.3333" stop-color="#35e5d9"/><stop offset="0.3750" stop-color="#2bdddd"/><stop offset="0.4167" stop-color="#21d5e0"/><stop offset="0.4583" stop-color="#17cce4"/><stop offset="0.5000" stop-color="#0dc2e7"/><stop offset="0.5417" stop-color="#03b8eb"/><stop offset="0.5833" stop-color="#07adee"/><stop offset="0.6250" stop-color="#11a1f0"/><stop offset="0.6667" stop-color="#1b94f3"/><stop offset="0.7083" stop-color="#2488f5"/><stop offset="0.7500" stop-color="#2e7af7"/><stop offset="0.7917" stop-color="#386cf9"/><stop offset="0.8333" stop-color="#425efa"/><stop offset="0.8750" stop-color="#4c4ffc"/><stop offset="0.9167" stop-color="#5640fd"/><stop offset="0.9583" stop-color="#6130fe"/><stop offset="1.0000" stop-color="#6b21fe"/></linearGradient>
<linearGradient id="bs5" x1="0" y1="0" x2="0" y2="1"><stop offset="0.0000" stop-color="#86ffb1"/><stop offset="0.0417" stop-color="#7affb7"/><stop offset="0.0833" stop-color="#70febd"/><stop offset="0.1250" stop-color="#67fcc1"/><stop offset="0.1667" stop-color="#5ffac6"/><stop offset="0.2083" stop-color="#56f7ca"/><stop offset="0.2500" stop-color="#4df3ce"/><stop offset="0.2917" stop-color="#44eed2"/><stop offset="0.3333" stop-color="#3be9d6"/><stop offset="0.3750" stop-color="#31e2da"/><stop offset="0.4167" stop-color="#27dade"/><stop offset="0.4583" stop-color="#1cd1e2"/><stop offset="0.5000" stop-color="#12c7e6"/><stop offset="0.5417" stop-color="#08bde9"/><stop offset="0.5833" stop-color="#02b2ec"/><stop offset="0.6250" stop-color="#0da6ef"/><stop offset="0.6667" stop-color="#1799f2"/><stop offset="0.7083" stop-color="#218cf4"/><stop offset="0.7500" stop-color="#2b7ff6"/><stop offset="0.7917" stop-color="#3571f8"/><stop offset="0.8333" stop-color="#3f62fa"/><stop offset="0.8750" stop-color="#4a53fc"/><stop offset="0.9167" stop-color="#5443fd"/><stop offset="0.9583" stop-color="#5f33fe"/><stop offset="1.0000" stop-color="#6923fe"/></linearGradient>
<linearGradient id="bs6" x1="0" y1="0" x2="0" y2="1"><stop offset="0.0000" stop-color="#8efeac"/><stop offset="0.0417" stop-color="#82ffb3"/><stop offset="0.0833" stop-color="#78ffb8"/><stop offset="0.1250" stop-color="#6ffebd"/><stop offset="0.1667" stop-color="#66fcc2"/><stop offset="0.2083" stop-color="#5df9c7"/><stop offset="0.2500" stop-color="#54f6cb"/><stop offset="0.2917" stop-color="#4af1cf"/><stop offset="0.3333" stop-color="#41ecd3"/><stop offset="0.3750" stop-color="#36e6d8"/><stop offset="0.4167" stop-color="#2cdedc"/><stop offset="0.4583" stop-color="#22d5e0"/><stop offset="0.5000" stop-color="#17cce4"/><stop offset="0.5417" stop-color="#0dc2e8"/><stop offset="0.5833" stop-color="#02b6eb"/><stop offset="0.6250" stop-color="#09abee"/><stop offset="0.6667" stop-color="#139ef1"/><stop offset="0.7083" stop-color="#1d91f3"/><stop offset="0.7500" stop-color="#2883f6"/><stop offset="0.7917" stop-color="#3275f8"/><stop offset="0.8333" stop-color="#3d66fa"/><stop offset="0.8750" stop-color="#4856fb"/><stop offset="0.9167" stop-color="#5246fd"/><stop offset="0.9583" stop-color="#5d36fe"/><stop offset="1.0000" stop-color="#6825fe"/></linearGradient>
<linearGradient id="bs7" x1="0" y1="0" x2="0" y2="1"><stop offset="0.0000" stop-color="#96fca7"/><stop offset="0.0417" stop-color="#8afeae"/><stop offset="0.0833" stop-color="#80ffb4"/><stop offset="0.1250" stop-color="#77ffb9"/><stop offset="0.1667" stop-color="#6dfdbe"/><stop offset="0.2083" stop-color="#64fbc3"/><stop offset="0.2500" stop-color="#5af8c8"/><stop offset="0.2917" stop-color="#51f4cc"/><stop offset="0.3333" stop-color="#47f0d1"/><stop offset="0.3750" stop-color="#3ce9d6"/><stop offset="0.4167" stop-color="#31e2da"/><stop offset="0.4583" stop-color="#27dade"/><stop offset="0.5000" stop-color="#1cd1e2"/><stop offset="0.5417" stop-color="#11c6e6"/><stop offset="0.5833" stop-color="#06bbea"/><stop offset="0.6250" stop-color="#04afed"/><stop offset="0.6667" stop-color="#0fa3f0"/><stop offset="0.7083" stop-color="#1a96f3"/><stop offset="0.7500" stop-color="#2488f5"/><stop offset="0.7917" stop-color="#2f79f7"/><stop offset="0.8333" stop-color="#3a6af9"/><stop offset="0.8750" stop-color="#455afb"/><stop offset="0.9167" stop-color="#5049fc"/><stop offset="0.9583" stop-color="#5b38fd"/><stop offset="1.0000" stop-color="#6727fe"/></linearGradient>
<linearGradient id="bs8" x1="0" y1="0" x2="0" y2="1"><stop offset="0.0000" stop-color="#9ffaa2"/><stop offset="0.0417" stop-color="#92fdaa"/><stop offset="0.0833" stop-color="#88ffb0"/><stop offset="0.1250" stop-color="#7effb5"/><stop offset="0.1667" stop-color="#74feba"/><stop offset="0.2083" stop-color="#6bfdc0"/><stop offset="0.2500" stop-color="#61fac5"/><stop offset="0.2917" stop-color="#57f7c9"/><stop offset="0.3333" stop-color="#4df3ce"/><stop offset="0.3750" stop-color="#42edd3"/><stop offset="0.4167" stop-color="#37e6d8"/><stop offset="0.4583" stop-color="#2cdedc"/><stop offset="0.5000" stop-color="#21d5e0"/><stop offset="0.5417" stop-color="#16cbe4"/><stop offset="0.5833" stop-color="#0bc0e8"/><stop offset="0.6250" stop-color="#00b4ec"/><stop offset="0.6667" stop-color="#0ba7ef"/><stop offset="0.7083" stop-color="#169af2"/><stop offset="0.7500" stop-color="#218cf4"/><stop offset="0.7917" stop-color="#2c7df7"/><stop offset="0.8333" stop-color="#376ef9"/><stop offset="0.8750" stop-color="#435dfb"/><stop offset="0.9167" stop-color="#4e4cfc"/><stop offset="0.9583" stop-color="#5a3bfd"/><stop offset="1.0000" stop-color="#6529fe"/></linearGradient>
<linearGradient id="bs9" x1="0" y1="0" x2="0" y2="1"><stop offset="0.0000" stop-color="#a7f89d"/><stop offset="0.0417" stop-color="#9bfba5"/><stop offset="0.0833" stop-color="#90feab"/><stop offset="0.1250" stop-color="#86ffb1"/><stop offset="0.1667" stop-color="#7cffb6"/><stop offset="0.2083" stop-color="#71febc"/><stop offset="0.2500" stop-color="#67fcc1"/><stop offset="0.2917" stop-color="#5df9c6"/><stop offset="0.3333" stop-color="#53f5cb"/><stop offset="0.3750" stop-color="#47f0d1"/><stop offset="0.4167" stop-color="#3ce9d6"/><stop offset="0.4583" stop-color="#31e2da"/><stop offset="0.5000" stop-color="#26d9df"/><stop offset="0.5417" stop-color="#1bcfe3"/><stop offset="0.5833" stop-color="#0fc4e7"/><stop offset="0.6250" stop-color="#04b9ea"/><stop offset="0.6667" stop-color="#07acee"/><stop offset="0.7083" stop-color="#139ef1"/><stop offset="0.7500" stop-color="#1e90f4"/><stop offset="0.7917" stop-color="#2981f6"/><stop offset="0.8333" stop-color="#3572f8"/><stop offset="0.8750" stop-color="#4061fa"/><stop offset="0.9167" stop-color="#4c4ffc"/><stop offset="0.9583" stop-color="#583dfd"/><stop offset="1.0000" stop-color="#642bfe"/></linearGradient>
<linearGradient id="bs10" x1="0" y1="0" x2="0" y2="1"><stop offset="0.0000" stop-color="#aff498"/><stop offset="0.0417" stop-color="#a3f9a0"/><stop offset="0.0833" stop-color="#98fca6"/><stop offset="0.1250" stop-color="#8dfead"/><stop offset="0.1667" stop-color="#83ffb2"/><stop offset="0.2083" stop-color="#78ffb8"/><stop offset="0.2500" stop-color="#6efdbe"/><stop offset="0.2917" stop-color="#63fbc3"/><stop offset="0.3333" stop-color="#58f8c9"/><stop offset="0.3750" stop-color="#4df3ce"/><stop offset="0.4167" stop-color="#42edd3"/><stop offset="0.4583" stop-color="#36e5d8"/><stop offset="0.5000" stop-color="#2bdddd"/><stop offset="0.5417" stop-color="#1fd3e1"/><stop offset="0.5833" stop-color="#14c9e5"/><stop offset="0.6250" stop-color="#08bde9"/><stop offset="0.6667" stop-color="#04b0ed"/><stop offset="0.7083" stop-color="#0fa3f0"/><stop offset="0.7500" stop-color="#1b94f3"/><stop offset="0.7917" stop-color="#2685f5"/><stop offset="0.8333" stop-color="#3275f8"/><stop offset="0.8750" stop-color="#3e64fa"/><stop offset="0.9167" stop-color="#4a52fc"/><stop offset="0.9583" stop-color="#5640fd"/><stop offset="1.0000" stop-color="#632dfe"/></linearGradient>
<linearGradient id="bs11" x1="0" y1="0" x2="0" y2="1"><stop offset="0.0000" stop-color="#b7f093"/><stop offset="0.0417" stop-color="#abf69b"/><stop offset="0.0833" stop-color="#9ffaa2"/><stop offset="0.1250" stop-color="#95fda8"/><stop offset="0.1667" stop-color="#8afeae"/><stop offset="0.2083" stop-color="#7fffb4"/><stop offset="0.2500" stop-color="#74feba"/><stop offset="0.2917" stop-color="#69fdc0"/><stop offset="0.3333" stop-color="#5efac6"/><stop offset="0.3750" stop-color="#53f5cb"/><stop offset="0.4167" stop-color="#47f0d1"/><stop offset="0.4583" stop-color="#3be9d6"/><stop offset="0.5000" stop-color="#30e1db"/><stop offset="0.5417" stop-color="#24d7df"/><stop offset="0.5833" stop-color="#18cde4"/><stop offset="0.6250" stop-color="#0cc1e8"/><stop offset="0.6667" stop-color="#00b5eb"/><stop offset="0.7083" stop-color="#0ca7ef"/><stop offset="0.7500" stop-color="#1799f2"/><stop offset="0.7917" stop-color="#2389f5"/><stop offset="0.8333" stop-color="#2f79f7"/><stop offset="0.8750" stop-color="#3c68f9"/><stop offset="0.9167" stop-color="#4855fb"/><stop offset="0.9583" stop-color="#5542fd"/><stop offset="1.0000" stop-color="#612ffe"/></linearGradient>
<linearGradient id="bs12" x1="0" y1="0" x2="0" y2="1"><stop offset="0.0000" stop-color="#bfeb8e"/><stop offset="0.0417" stop-color="#b3f296"/><stop offset="0.0833" stop-color="#a7f79d"/><stop offset="0.1250" stop-color="#9cfba4"/><stop offset="0.1667" stop-color="#91fdaa"/><stop offset="0.2083" stop-color="#86ffb1"/><stop offset="0.2500" stop-color="#7bffb7"/><stop offset="0.2917" stop-color="#70febd"/><stop offset="0.3333" stop-color="#64fbc3"/><stop offset="0.3750" stop-color="#58f8c9"/><stop offset="0.4167" stop-color="#4cf2ce"/><stop offset="0.4583" stop-color="#41ecd4"/><stop offset="0.5000" stop-color="#35e4d9"/><stop offset="0.5417" stop-color="#29dbde"/><stop offset="0.5833" stop-color="#1cd1e2"/><stop offset="0.6250" stop-color="#10c5e6"/><stop offset="0.6667" stop-color="#04b9ea"/><stop offset="0.7083" stop-color="#08abee"/><stop offset="0.7500" stop-color="#149df1"/><stop offset="0.7917" stop-color="#208df4"/><stop offset="0.8333" stop-color="#2c7df7"/><stop offset="0.8750" stop-color="#396bf9"/><stop offset="0.9167" stop-color="#4658fb"/><stop offset="0.9583" stop-color="#5345fd"/><stop offset="1.0000" stop-color="#6031fe"/></linearGradient>
<linearGradient id="bs13" x1="0" y1="0" x2="0" y2="1"><stop offset="0.0000" stop-color="#c8e688"/><stop offset="0.0417" stop-color="#bbee90"/><stop offset="0.0833" stop-color="#aff498"/><stop offset="0.1250" stop-color="#a4f99f"/><stop offset="0.1667" stop-color="#98fca6"/><stop offset="0.2083" stop-color="#8dfead"/><stop offset="0.2500" stop-color="#81ffb3"/><stop offset="0.2917" stop-color="#76ffba"/><stop offset="0.3333" stop-color="#6afdc0"/><stop offset="0.3750" stop-color="#5efac6"/><stop offset="0.4167" stop-color="#52f5cc"/><stop offset="0.4583" stop-color="#46efd1"/><stop offset="0.5000" stop-color="#3ae8d7"/><stop offset="0.5417" stop-color="#2ddfdc"/><stop offset="0.5833" stop-color="#21d5e1"/><stop offset="0.6250" stop-color="#14c9e5"/><stop offset="0.6667" stop-color="#08bde9"/><stop offset="0.7083" stop-color="#04afed"/><stop offset="0.7500" stop-color="#11a1f0"/><stop offset="0.7917" stop-color="#1d91f3"/><stop offset="0.8333" stop-color="#2a81f6"/><stop offset="0.8750" stop-color="#376ef9"/><stop offset="0.9167" stop-color="#445bfb"/><stop offset="0.9583" stop-color="#5148fc"/><stop offset="1.0000" stop-color="#5f33fe"/></linearGradient>
<linearGradient id="bs14" x1="0" y1="0" x2="0" y2="1"><stop offset="0.0000" stop-color="#d0e083"/><stop offset="0.0417" stop-color="#c3e98b"/><stop offset="0.0833" stop-color="#b7f093"/><stop offset="0.1250" stop-color="#abf69a"/><stop offset="0.1667" stop-color="#a0faa2"/><stop offset="0.2083" stop-color="#94fda9"/><stop offset="0.2500" stop-color="#88ffb0"/><stop offset="0.2917" stop-color="#7cffb6"/><stop offset="0.3333" stop-color="#70febd"/><stop offset="0.3750" stop-color="#64fbc3"/><stop offset="0.4167" stop-color="#57f7c9"/><stop offset="0.4583" stop-color="#4bf2cf"/><stop offset="0.5000" stop-color="#3eebd5"/><stop offset="0.5417" stop-color="#32e2da"/><stop offset="0.5833" stop-color="#25d9df"/><stop offset="0.6250" stop-color="#19cde4"/><stop offset="0.6667" stop-color="#0cc1e8"/><stop offset="0.7083" stop-color="#01b3ec"/><stop offset="0.7500" stop-color="#0da5ef"/><stop offset="0.7917" stop-color="#1a95f3"/><stop offset="0.8333" stop-color="#2784f6"/><stop offset="0.8750" stop-color="#3472f8"/><stop offset="0.9167" stop-color="#425efa"/><stop offset="0.9583" stop-color="#504afc"/><stop offset="1.0000" stop-color="#5d35fe"/></linearGradient>
<linearGradient id="bs15" x1="0" y1="0" x2="0" y2="1"><stop offset="0.0000" stop-color="#d8da7d"/><stop offset="0.0417" stop-color="#cbe486"/><stop offset="0.0833" stop-color="#bfec8e"/><stop offset="0.1250" stop-color="#b3f296"/><stop offset="0.1667" stop-color="#a7f89d"/><stop offset="0.2083" stop-color="#9bfba4"/><stop offset="0.2500" stop-color="#8ffeac"/><stop offset="0.2917" stop-color="#82ffb3"/><stop offset="0.3333" stop-color="#76ffba"/><stop offset="0.3750" stop-color="#69fdc0"/><stop offset="0.4167" stop-color="#5df9c7"/><stop offset="0.4583" stop-color="#50f4cd"/><stop offset="0.5000" stop-color="#43eed2"/><stop offset="0.5417" stop-color="#37e6d8"/><stop offset="0.5833" stop-color="#2adcdd"/><stop offset="0.6250" stop-color="#1dd1e2"/><stop offset="0.6667" stop-color="#10c5e7"/><stop offset="0.7083" stop-color="#03b7eb"/><stop offset="0.7500" stop-color="#0aa9ef"/><stop offset="0.7917" stop-color="#1799f2"/><stop offset="0.8333" stop-color="#2488f5"/><stop offset="0.8750" stop-color="#3275f8"/><stop offset="0.9167" stop-color="#4061fa"/><stop offset="0.9583" stop-color="#4e4dfc"/><stop offset="1.0000" stop-color="#5c38fd"/></linearGradient>
<linearGradient id="bs16" x1="0" y1="0" x2="0" y2="1"><stop offset="0.0000" stop-color="#e0d377"/><stop offset="0.0417" stop-color="#d3de80"/><stop offset="0.0833" stop-color="#c7e789"/><stop offset="0.1250" stop-color="#bbee91"/><stop offset="0.1667" stop-color="#aef599"/><stop offset="0.2083" stop-color="#a2f9a0"/><stop offset="0.2500" stop-color="#95fda8"/><stop offset="0.2917" stop-color="#88ffaf"/><stop offset="0.3333" stop-color="#7cffb6"/><stop offset="0.3750" stop-color="#6ffebd"/><stop offset="0.4167" stop-color="#62fbc4"/><stop offset="0.4583" stop-color="#55f6ca"/><stop offset="0.5000" stop-color="#48f0d0"/><stop offset="0.5417" stop-color="#3be9d6"/><stop offset="0.5833" stop-color="#2ee0db"/><stop offset="0.6250" stop-color="#21d5e1"/><stop offset="0.6667" stop-color="#14c9e5"/><stop offset="0.7083" stop-color="#06bbea"/><stop offset="0.7500" stop-color="#07adee"/><stop offset="0.7917" stop-color="#149df1"/><stop offset="0.8333" stop-color="#218cf4"/><stop offset="0.8750" stop-color="#3078f7"/><stop offset="0.9167" stop-color="#3e64fa"/><stop offset="0.9583" stop-color="#4c4ffc"/><stop offset="1.0000" stop-color="#5b3afd"/></linearGradient>
<linearGradient id="bs17" x1="0" y1="0" x2="0" y2="1"><stop offset="0.0000" stop-color="#e9cb72"/><stop offset="0.0417" stop-color="#dcd77b"/><stop offset="0.0833" stop-color="#cfe183"/><stop offset="0.1250" stop-color="#c2ea8c"/><stop offset="0.1667" stop-color="#b5f194"/><stop offset="0.2083" stop-color="#a9f79c"/><stop offset="0.2500" stop-color="#9cfba4"/><stop offset="0.2917" stop-color="#8ffeac"/><stop offset="0.3333" stop-color="#82ffb3"/><stop offset="0.3750" stop-color="#75feba"/><stop offset="0.4167" stop-color="#67fcc1"/><stop offset="0.4583" stop-color="#5af8c8"/><stop offset="0.5000" stop-color="#4df3ce"/><stop offset="0.5417" stop-color="#40ecd4"/><stop offset="0.5833" stop-color="#32e3da"/><stop offset="0.6250" stop-color="#25d8df"/><stop offset="0.6667" stop-color="#17cce4"/><stop offset="0.7083" stop-color="#0abfe9"/><stop offset="0.7500" stop-color="#04b0ed"/><stop offset="0.7917" stop-color="#11a0f0"/><stop offset="0.8333" stop-color="#1f8ff4"/><stop offset="0.8750" stop-color="#2d7cf7"/><stop offset="0.9167" stop-color="#3c67fa"/><stop offset="0.9583" stop-color="#4b52fc"/><stop offset="1.0000" stop-color="#593cfd"/></linearGradient>
<linearGradient id="bs18" x1="0" y1="0" x2="0" y2="1"><stop offset="0.0000" stop-color="#f1c36c"/><stop offset="0.0417" stop-color="#e4d075"/><stop offset="0.0833" stop-color="#d7db7e"/><stop offset="0.1250" stop-color="#cae587"/><stop offset="0.1667" stop-color="#bded8f"/><stop offset="0.2083" stop-color="#b0f498"/><stop offset="0.2500" stop-color="#a2f9a0"/><stop offset="0.2917" stop-color="#95fda8"/><stop offset="0.3333" stop-color="#88ffb0"/><stop offset="0.3750" stop-color="#7affb7"/><stop offset="0.4167" stop-color="#6dfdbe"/><stop offset="0.4583" stop-color="#60fac5"/><stop offset="0.5000" stop-color="#52f5cc"/><stop offset="0.5417" stop-color="#45eed2"/><stop offset="0.5833" stop-color="#37e6d8"/><stop offset="0.6250" stop-color="#29dcdd"/><stop offset="0.6667" stop-color="#1bd0e3"/><stop offset="0.7083" stop-color="#0dc3e7"/><stop offset="0.7500" stop-color="#00b4ec"/><stop offset="0.7917" stop-color="#0ea4f0"/><stop offset="0.8333" stop-color="#1c93f3"/><stop offset="0.8750" stop-color="#2b7ff6"/><stop offset="0.9167" stop-color="#3a6af9"/><stop offset="0.9583" stop-color="#4954fb"/><stop offset="1.0000" stop-color="#583efd"/></linearGradient>
<linearGradient id="bs19" x1="0" y1="0" x2="0" y2="1"><stop offset="0.0000" stop-color="#f4c06a"/><stop offset="0.0417" stop-color="#e7cd73"/><stop offset="0.0833" stop-color="#d9d97c"/><stop offset="0.1250" stop-color="#cce385"/><stop offset="0.1667" stop-color="#bfec8e"/><stop offset="0.2083" stop-color="#b2f396"/><stop offset="0.2500" stop-color="#a4f89f"/><stop offset="0.2917" stop-color="#97fca7"/><stop offset="0.3333" stop-color="#89ffaf"/><stop offset="0.3750" stop-color="#7cffb6"/><stop offset="0.4167" stop-color="#6ffebd"/><stop offset="0.4583" stop-color="#61fbc4"/><stop offset="0.5000" stop-color="#54f6cb"/><stop offset="0.5417" stop-color="#46efd1"/><stop offset="0.5833" stop-color="#38e7d7"/><stop offset="0.6250" stop-color="#2adddd"/><stop offset="0.6667" stop-color="#1cd1e2"/><stop offset="0.7083" stop-color="#0ec4e7"/><stop offset="0.7500" stop-color="#01b5eb"/><stop offset="0.7917" stop-color="#0da5ef"/><stop offset="0.8333" stop-color="#1b94f3"/><stop offset="0.8750" stop-color="#2a80f6"/><stop offset="0.9167" stop-color="#396bf9"/><stop offset="0.9583" stop-color="#4855fb"/><stop offset="1.0000" stop-color="#573efd"/></linearGradient>
<linearGradient id="bs20" x1="0" y1="0" x2="0" y2="1"><stop offset="0.0000" stop-color="#f6be68"/><stop offset="0.0417" stop-color="#e8cc72"/><stop offset="0.0833" stop-color="#dbd77b"/><stop offset="0.1250" stop-color="#cee284"/><stop offset="0.1667" stop-color="#c1eb8d"/><stop offset="0.2083" stop-color="#b3f295"/><stop offset="0.2500" stop-color="#a6f89e"/><stop offset="0.2917" stop-color="#98fca6"/><stop offset="0.3333" stop-color="#8bfeae"/><stop offset="0.3750" stop-color="#7dffb6"/><stop offset="0.4167" stop-color="#70febd"/><stop offset="0.4583" stop-color="#62fbc4"/><stop offset="0.5000" stop-color="#55f6cb"/><stop offset="0.5417" stop-color="#47f0d1"/><stop offset="0.5833" stop-color="#39e7d7"/><stop offset="0.6250" stop-color="#2bdddd"/><stop offset="0.6667" stop-color="#1dd1e2"/><stop offset="0.7083" stop-color="#0fc4e7"/><stop offset="0.7500" stop-color="#01b6eb"/><stop offset="0.7917" stop-color="#0da5ef"/><stop offset="0.8333" stop-color="#1b94f3"/><stop offset="0.8750" stop-color="#2a80f6"/><stop offset="0.9167" stop-color="#396bf9"/><stop offset="0.9583" stop-color="#4855fb"/><stop offset="1.0000" stop-color="#573ffd"/></linearGradient>
<linearGradient id="bs21" x1="0" y1="0" x2="0" y2="1"><stop offset="0.0000" stop-color="#f8bc67"/><stop offset="0.0417" stop-color="#eaca70"/><stop offset="0.0833" stop-color="#ddd67a"/><stop offset="0.1250" stop-color="#d0e183"/><stop offset="0.1667" stop-color="#c2ea8c"/><stop offset="0.2083" stop-color="#b5f194"/><stop offset="0.2500" stop-color="#a7f79d"/><stop offset="0.2917" stop-color="#9afca5"/><stop offset="0.3333" stop-color="#8cfead"/><stop offset="0.3750" stop-color="#7effb5"/><stop offset="0.4167" stop-color="#71febc"/><stop offset="0.4583" stop-color="#63fbc3"/><stop offset="0.5000" stop-color="#55f6ca"/><stop offset="0.5417" stop-color="#48f0d1"/><stop offset="0.5833" stop-color="#3ae8d7"/><stop offset="0.6250" stop-color="#2cdedc"/><stop offset="0.6667" stop-color="#1ed2e2"/><stop offset="0.7083" stop-color="#10c5e7"/><stop offset="0.7500" stop-color="#02b6eb"/><stop offset="0.7917" stop-color="#0ca6ef"/><stop offset="0.8333" stop-color="#1b94f3"/><stop offset="0.8750" stop-color="#2a81f6"/><stop offset="0.9167" stop-color="#396cf9"/><stop offset="0.9583" stop-color="#4856fb"/><stop offset="1.0000" stop-color="#573ffd"/></linearGradient>
<linearGradient id="bs22" x1="0" y1="0" x2="0" y2="1"><stop offset="0.0000" stop-color="#faba65"/><stop offset="0.0417" stop-color="#ecc86f"/><stop offset="0.0833" stop-color="#dfd478"/><stop offset="0.1250" stop-color="#d1df82"/><stop offset="0.1667" stop-color="#c4e98b"/><stop offset="0.2083" stop-color="#b6f193"/><stop offset="0.2500" stop-color="#a9f79c"/><stop offset="0.2917" stop-color="#9bfba5"/><stop offset="0.3333" stop-color="#8dfead"/><stop offset="0.3750" stop-color="#7fffb4"/><stop offset="0.4167" stop-color="#72febc"/><stop offset="0.4583" stop-color="#64fbc3"/><stop offset="0.5000" stop-color="#56f7ca"/><stop offset="0.5417" stop-color="#48f0d0"/><stop offset="0.5833" stop-color="#3ae8d6"/><stop offset="0.6250" stop-color="#2cdedc"/><stop offset="0.6667" stop-color="#1ed3e2"/><stop offset="0.7083" stop-color="#10c5e6"/><stop offset="0.7500" stop-color="#02b7eb"/><stop offset="0.7917" stop-color="#0ca6ef"/><stop offset="0.8333" stop-color="#1a95f3"/><stop offset="0.8750" stop-color="#2981f6"/><stop offset="0.9167" stop-color="#386cf9"/><stop offset="0.9583" stop-color="#4756fb"/><stop offset="1.0000" stop-color="#5740fd"/></linearGradient>
<linearGradient id="bs23" x1="0" y1="0" x2="0" y2="1"><stop offset="0.0000" stop-color="#fcb864"/><stop offset="0.0417" stop-color="#eec66e"/><stop offset="0.0833" stop-color="#e1d377"/><stop offset="0.1250" stop-color="#d3de81"/><stop offset="0.1667" stop-color="#c5e88a"/><stop offset="0.2083" stop-color="#b8f093"/><stop offset="0.2500" stop-color="#aaf69b"/><stop offset="0.2917" stop-color="#9cfba4"/><stop offset="0.3333" stop-color="#8efeac"/><stop offset="0.3750" stop-color="#81ffb4"/><stop offset="0.4167" stop-color="#73febb"/><stop offset="0.4583" stop-color="#65fcc2"/><stop offset="0.5000" stop-color="#57f7c9"/><stop offset="0.5417" stop-color="#49f1d0"/><stop offset="0.5833" stop-color="#3be9d6"/><stop offset="0.6250" stop-color="#2ddfdc"/><stop offset="0.6667" stop-color="#1fd3e1"/><stop offset="0.7083" stop-color="#11c6e6"/><stop offset="0.7500" stop-color="#03b7eb"/><stop offset="0.7917" stop-color="#0ca7ef"/><stop offset="0.8333" stop-color="#1a95f3"/><stop offset="0.8750" stop-color="#2982f6"/><stop offset="0.9167" stop-color="#386df9"/><stop offset="0.9583" stop-color="#4757fb"/><stop offset="1.0000" stop-color="#5640fd"/></linearGradient>
<linearGradient id="bs24" x1="0" y1="0" x2="0" y2="1"><stop offset="0.0000" stop-color="#feb662"/><stop offset="0.0417" stop-color="#f0c46c"/><stop offset="0.0833" stop-color="#e2d176"/><stop offset="0.1250" stop-color="#d5dd7f"/><stop offset="0.1667" stop-color="#c7e789"/><stop offset="0.2083" stop-color="#b9ef92"/><stop offset="0.2500" stop-color="#abf69a"/><stop offset="0.2917" stop-color="#9dfba3"/><stop offset="0.3333" stop-color="#90feab"/><stop offset="0.3750" stop-color="#82ffb3"/><stop offset="0.4167" stop-color="#74febb"/><stop offset="0.4583" stop-color="#66fcc2"/><stop offset="0.5000" stop-color="#58f8c9"/><stop offset="0.5417" stop-color="#4af1cf"/><stop offset="0.5833" stop-color="#3ce9d6"/><stop offset="0.6250" stop-color="#2edfdc"/><stop offset="0.6667" stop-color="#1fd4e1"/><stop offset="0.7083" stop-color="#11c6e6"/><stop offset="0.7500" stop-color="#03b8eb"/><stop offset="0.7917" stop-color="#0ba7ef"/><stop offset="0.8333" stop-color="#1a96f3"/><stop offset="0.8750" stop-color="#2982f6"/><stop offset="0.9167" stop-color="#386df9"/><stop offset="0.9583" stop-color="#4757fb"/><stop offset="1.0000" stop-color="#5640fd"/></linearGradient>
<linearGradient id="bs25" x1="0" y1="0" x2="0" y2="1"><stop offset="0.0000" stop-color="#ffb361"/><stop offset="0.0417" stop-color="#f2c26b"/><stop offset="0.0833" stop-color="#e4d075"/><stop offset="0.1250" stop-color="#d6db7e"/><stop offset="0.1667" stop-color="#c9e688"/><stop offset="0.2083" stop-color="#bbee91"/><stop offset="0.2500" stop-color="#adf59a"/><stop offset="0.2917" stop-color="#9ffaa2"/><stop offset="0.3333" stop-color="#91feaa"/><stop offset="0.3750" stop-color="#83ffb2"/><stop offset="0.4167" stop-color="#75feba"/><stop offset="0.4583" stop-color="#67fcc1"/><stop offset="0.5000" stop-color="#59f8c8"/><stop offset="0.5417" stop-color="#4bf2cf"/><stop offset="0.5833" stop-color="#3dead5"/><stop offset="0.6250" stop-color="#2ee0db"/><stop offset="0.6667" stop-color="#20d4e1"/><stop offset="0.7083" stop-color="#12c7e6"/><stop offset="0.7500" stop-color="#03b8eb"/><stop offset="0.7917" stop-color="#0ba8ef"/><stop offset="0.8333" stop-color="#1996f2"/><stop offset="0.8750" stop-color="#2882f6"/><stop offset="0.9167" stop-color="#376df9"/><stop offset="0.9583" stop-color="#4758fb"/><stop offset="1.0000" stop-color="#5641fd"/></linearGradient>
<linearGradient id="bs26" x1="0" y1="0" x2="0" y2="1"><stop offset="0.0000" stop-color="#ffb160"/><stop offset="0.0417" stop-color="#f4c06a"/><stop offset="0.0833" stop-color="#e6ce73"/><stop offset="0.1250" stop-color="#d8da7d"/><stop offset="0.1667" stop-color="#cae587"/><stop offset="0.2083" stop-color="#bced90"/><stop offset="0.2500" stop-color="#aef599"/><stop offset="0.2917" stop-color="#a0faa1"/><stop offset="0.3333" stop-color="#92fdaa"/><stop offset="0.3750" stop-color="#84ffb2"/><stop offset="0.4167" stop-color="#76ffba"/><stop offset="0.4583" stop-color="#68fcc1"/><stop offset="0.5000" stop-color="#5af8c8"/><stop offset="0.5417" stop-color="#4cf2cf"/><stop offset="0.5833" stop-color="#3dead5"/><stop offset="0.6250" stop-color="#2fe0db"/><stop offset="0.6667" stop-color="#21d5e1"/><stop offset="0.7083" stop-color="#12c7e6"/><stop offset="0.7500" stop-color="#04b9ea"/><stop offset="0.7917" stop-color="#0aa8ef"/><stop offset="0.8333" stop-color="#1997f2"/><stop offset="0.8750" stop-color="#2883f6"/><stop offset="0.9167" stop-color="#376ef9"/><stop offset="0.9583" stop-color="#4658fb"/><stop offset="1.0000" stop-color="#5541fd"/></linearGradient>
<linearGradient id="bs27" x1="0" y1="0" x2="0" y2="1"><stop offset="0.0000" stop-color="#ffaf5e"/><stop offset="0.0417" stop-color="#f6be68"/><stop offset="0.0833" stop-color="#e8cc72"/><stop offset="0.1250" stop-color="#dad97c"/><stop offset="0.1667" stop-color="#cce385"/><stop offset="0.2083" stop-color="#beed8f"/><stop offset="0.2500" stop-color="#aff498"/><stop offset="0.2917" stop-color="#a1faa1"/><stop offset="0.3333" stop-color="#93fda9"/><stop offset="0.3750" stop-color="#85ffb1"/><stop offset="0.4167" stop-color="#77ffb9"/><stop offset="0.4583" stop-color="#69fdc0"/><stop offset="0.5000" stop-color="#5bf9c8"/><stop offset="0.5417" stop-color="#4df3ce"/><stop offset="0.5833" stop-color="#3eebd5"/><stop offset="0.6250" stop-color="#30e1db"/><stop offset="0.6667" stop-color="#21d5e0"/><stop offset="0.7083" stop-color="#13c8e6"/><stop offset="0.7500" stop-color="#04b9ea"/><stop offset="0.7917" stop-color="#0aa9ee"/><stop offset="0.8333" stop-color="#1997f2"/><stop offset="0.8750" stop-color="#2883f6"/><stop offset="0.9167" stop-color="#376ef9"/><stop offset="0.9583" stop-color="#4658fb"/><stop offset="1.0000" stop-color="#5542fd"/></linearGradient>
<linearGradient id="bs28" x1="0" y1="0" x2="0" y2="1"><stop offset="0.0000" stop-color="#ffad5d"/><stop offset="0.0417" stop-color="#f8bc67"/><stop offset="0.0833" stop-color="#eacb71"/><stop offset="0.1250" stop-color="#dbd77b"/><stop offset="0.1667" stop-color="#cde284"/><stop offset="0.2083" stop-color="#bfec8e"/><stop offset="0.2500" stop-color="#b1f397"/><stop offset="0.2917" stop-color="#a3f9a0"/><stop offset="0.3333" stop-color="#94fda8"/><stop offset="0.3750" stop-color="#86ffb1"/><stop offset="0.4167" stop-color="#78ffb8"/><stop offset="0.4583" stop-color="#6afdc0"/><stop offset="0.5000" stop-color="#5cf9c7"/><stop offset="0.5417" stop-color="#4df3ce"/><stop offset="0.5833" stop-color="#3febd4"/><stop offset="0.6250" stop-color="#30e1da"/><stop offset="0.6667" stop-color="#22d6e0"/><stop offset="0.7083" stop-color="#13c9e5"/><stop offset="0.7500" stop-color="#05baea"/><stop offset="0.7917" stop-color="#0aa9ee"/><stop offset="0.8333" stop-color="#1898f2"/><stop offset="0.8750" stop-color="#2784f6"/><stop offset="0.9167" stop-color="#376ff9"/><stop offset="0.9583" stop-color="#4659fb"/><stop offset="1.0000" stop-color="#5542fd"/></linearGradient>
<linearGradient id="bs29" x1="0" y1="0" x2="0" y2="1"><stop offset="0.0000" stop-color="#ffaa5b"/><stop offset="0.0417" stop-color="#faba66"/><stop offset="0.0833" stop-color="#ebc970"/><stop offset="0.1250" stop-color="#ddd67a"/><stop offset="0.1667" stop-color="#cfe183"/><stop offset="0.2083" stop-color="#c1eb8d"/><stop offset="0.2500" stop-color="#b2f396"/><stop offset="0.2917" stop-color="#a4f99f"/><stop offset="0.3333" stop-color="#96fda8"/><stop offset="0.3750" stop-color="#87ffb0"/><stop offset="0.4167" stop-color="#79ffb8"/><stop offset="0.4583" stop-color="#6bfdbf"/><stop offset="0.5000" stop-color="#5df9c7"/><stop offset="0.5417" stop-color="#4ef3ce"/><stop offset="0.5833" stop-color="#40ecd4"/><stop offset="0.6250" stop-color="#31e2da"/><stop offset="0.6667" stop-color="#23d6e0"/><stop offset="0.7083" stop-color="#14c9e5"/><stop offset="0.7500" stop-color="#05baea"/><stop offset="0.7917" stop-color="#09aaee"/><stop offset="0.8333" stop-color="#1898f2"/><stop offset="0.8750" stop-color="#2784f6"/><stop offset="0.9167" stop-color="#366ff9"/><stop offset="0.9583" stop-color="#4559fb"/><stop offset="1.0000" stop-color="#5543fd"/></linearGradient>
<linearGradient id="bs30" x1="0" y1="0" x2="0" y2="1"><stop offset="0.0000" stop-color="#ffa85a"/><stop offset="0.0417" stop-color="#fbb864"/><stop offset="0.0833" stop-color="#edc76e"/><stop offset="0.1250" stop-color="#dfd478"/><stop offset="0.1667" stop-color="#d0e082"/><stop offset="0.2083" stop-color="#c2ea8c"/><stop offset="0.2500" stop-color="#b4f295"/><stop offset="0.2917" stop-color="#a5f89e"/><stop offset="0.3333" stop-color="#97fca7"/><stop offset="0.3750" stop-color="#88ffaf"/><stop offset="0.4167" stop-color="#7affb7"/><stop offset="0.4583" stop-color="#6cfdbf"/><stop offset="0.5000" stop-color="#5df9c6"/><stop offset="0.5417" stop-color="#4ff4cd"/><stop offset="0.5833" stop-color="#40ecd4"/><stop offset="0.6250" stop-color="#32e2da"/><stop offset="0.6667" stop-color="#23d7e0"/><stop offset="0.7083" stop-color="#14cae5"/><stop offset="0.7500" stop-color="#06bbea"/><stop offset="0.7917" stop-color="#09aaee"/><stop offset="0.8333" stop-color="#1898f2"/><stop offset="0.8750" stop-color="#2785f6"/><stop offset="0.9167" stop-color="#3670f8"/><stop offset="0.9583" stop-color="#455afb"/><stop offset="1.0000" stop-color="#5443fd"/></linearGradient>
<linearGradient id="bs31" x1="0" y1="0" x2="0" y2="1"><stop offset="0.0000" stop-color="#ffa558"/><stop offset="0.0417" stop-color="#fdb663"/><stop offset="0.0833" stop-color="#efc56d"/><stop offset="0.1250" stop-color="#e0d377"/><stop offset="0.1667" stop-color="#d2df81"/><stop offset="0.2083" stop-color="#c3e98b"/><stop offset="0.2500" stop-color="#b5f194"/><stop offset="0.2917" stop-color="#a6f89d"/><stop offset="0.3333" stop-color="#98fca6"/><stop offset="0.3750" stop-color="#8affaf"/><stop offset="0.4167" stop-color="#7bffb7"/><stop offset="0.4583" stop-color="#6dfdbe"/><stop offset="0.5000" stop-color="#5efac6"/><stop offset="0.5417" stop-color="#50f4cd"/><stop offset="0.5833" stop-color="#41ecd3"/><stop offset="0.6250" stop-color="#32e3da"/><stop offset="0.6667" stop-color="#24d7df"/><stop offset="0.7083" stop-color="#15cae5"/><stop offset="0.7500" stop-color="#06bbea"/><stop offset="0.7917" stop-color="#08abee"/><stop offset="0.8333" stop-color="#1799f2"/><stop offset="0.8750" stop-color="#2685f5"/><stop offset="0.9167" stop-color="#3670f8"/><stop offset="0.9583" stop-color="#455afb"/><stop offset="1.0000" stop-color="#5443fd"/></linearGradient>
<linearGradient id="bs32" x1="0" y1="0" x2="0" y2="1"><stop offset="0.0000" stop-color="#ffa357"/><stop offset="0.0417" stop-color="#ffb461"/><stop offset="0.0833" stop-color="#f1c36c"/><stop offset="0.1250" stop-color="#e2d176"/><stop offset="0.1667" stop-color="#d4de80"/><stop offset="0.2083" stop-color="#c5e88a"/><stop offset="0.2500" stop-color="#b6f193"/><stop offset="0.2917" stop-color="#a8f79d"/><stop offset="0.3333" stop-color="#99fca5"/><stop offset="0.3750" stop-color="#8bfeae"/><stop offset="0.4167" stop-color="#7cffb6"/><stop offset="0.4583" stop-color="#6efdbe"/><stop offset="0.5000" stop-color="#5ffac5"/><stop offset="0.5417" stop-color="#51f4cc"/><stop offset="0.5833" stop-color="#42edd3"/><stop offset="0.6250" stop-color="#33e3d9"/><stop offset="0.6667" stop-color="#24d8df"/><stop offset="0.7083" stop-color="#16cbe5"/><stop offset="0.7500" stop-color="#07bce9"/><stop offset="0.7917" stop-color="#08abee"/><stop offset="0.8333" stop-color="#1799f2"/><stop offset="0.8750" stop-color="#2686f5"/><stop offset="0.9167" stop-color="#3571f8"/><stop offset="0.9583" stop-color="#455bfb"/><stop offset="1.0000" stop-color="#5444fd"/></linearGradient>
<linearGradient id="bs33" x1="0" y1="0" x2="0" y2="1"><stop offset="0.0000" stop-color="#ffa155"/><stop offset="0.0417" stop-color="#ffb260"/><stop offset="0.0833" stop-color="#f3c26b"/><stop offset="0.1250" stop-color="#e4d075"/><stop offset="0.1667" stop-color="#d5dc7f"/><stop offset="0.2083" stop-color="#c6e789"/><stop offset="0.2500" stop-color="#b8f093"/><stop offset="0.2917" stop-color="#a9f79c"/><stop offset="0.3333" stop-color="#9afca5"/><stop offset="0.3750" stop-color="#8cfead"/><stop offset="0.4167" stop-color="#7dffb6"/><stop offset="0.4583" stop-color="#6ffebd"/><stop offset="0.5000" stop-color="#60fac5"/><stop offset="0.5417" stop-color="#51f5cc"/><stop offset="0.5833" stop-color="#43edd3"/><stop offset="0.6250" stop-color="#34e4d9"/><stop offset="0.6667" stop-color="#25d8df"/><stop offset="0.7083" stop-color="#16cbe4"/><stop offset="0.7500" stop-color="#07bce9"/><stop offset="0.7917" stop-color="#08acee"/><stop offset="0.8333" stop-color="#169af2"/><stop offset="0.8750" stop-color="#2686f5"/><stop offset="0.9167" stop-color="#3571f8"/><stop offset="0.9583" stop-color="#445bfb"/><stop offset="1.0000" stop-color="#5344fd"/></linearGradient>
<linearGradient id="bs34" x1="0" y1="0" x2="0" y2="1"><stop offset="0.0000" stop-color="#ff9e54"/><stop offset="0.0417" stop-color="#ffb05f"/><stop offset="0.0833" stop-color="#f4c069"/><stop offset="0.1250" stop-color="#e6ce74"/><stop offset="0.1667" stop-color="#d7db7e"/><stop offset="0.2083" stop-color="#c8e688"/><stop offset="0.2500" stop-color="#b9ef92"/><stop offset="0.2917" stop-color="#aaf69b"/><stop offset="0.3333" stop-color="#9cfba4"/><stop offset="0.3750" stop-color="#8dfead"/><stop offset="0.4167" stop-color="#7effb5"/><stop offset="0.4583" stop-color="#70febd"/><stop offset="0.5000" stop-color="#61fbc4"/><stop offset="0.5417" stop-color="#52f5cc"/><stop offset="0.5833" stop-color="#43eed2"/><stop offset="0.6250" stop-color="#35e4d9"/><stop offset="0.6667" stop-color="#26d9df"/><stop offset="0.7083" stop-color="#17cce4"/><stop offset="0.7500" stop-color="#08bde9"/><stop offset="0.7917" stop-color="#07acee"/><stop offset="0.8333" stop-color="#169af2"/><stop offset="0.8750" stop-color="#2586f5"/><stop offset="0.9167" stop-color="#3571f8"/><stop offset="0.9583" stop-color="#445bfb"/><stop offset="1.0000" stop-color="#5345fd"/></linearGradient>
<linearGradient id="bs35" x1="0" y1="0" x2="0" y2="1"><stop offset="0.0000" stop-color="#ff9c52"/><stop offset="0.0417" stop-color="#ffae5d"/><stop offset="0.0833" stop-color="#f6be68"/><stop offset="0.1250" stop-color="#e7cd73"/><stop offset="0.1667" stop-color="#d8da7d"/><stop offset="0.2083" stop-color="#c9e587"/><stop offset="0.2500" stop-color="#baee91"/><stop offset="0.2917" stop-color="#acf69a"/><stop offset="0.3333" stop-color="#9dfba3"/><stop offset="0.3750" stop-color="#8efeac"/><stop offset="0.4167" stop-color="#7fffb4"/><stop offset="0.4583" stop-color="#71febc"/><stop offset="0.5000" stop-color="#62fbc4"/><stop offset="0.5417" stop-color="#53f6cb"/><stop offset="0.5833" stop-color="#44eed2"/><stop offset="0.6250" stop-color="#35e5d9"/><stop offset="0.6667" stop-color="#26d9de"/><stop offset="0.7083" stop-color="#17cce4"/><stop offset="0.7500" stop-color="#08bde9"/><stop offset="0.7917" stop-color="#07adee"/><stop offset="0.8333" stop-color="#169bf2"/><stop offset="0.8750" stop-color="#2587f5"/><stop offset="0.9167" stop-color="#3472f8"/><stop offset="0.9583" stop-color="#445cfb"/><stop offset="1.0000" stop-color="#5345fd"/></linearGradient>
<linearGradient id="bs36" x1="0" y1="0" x2="0" y2="1"><stop offset="0.0000" stop-color="#ff9951"/><stop offset="0.0417" stop-color="#ffab5c"/><stop offset="0.0833" stop-color="#f8bc67"/><stop offset="0.1250" stop-color="#e9cb71"/><stop offset="0.1667" stop-color="#dad97c"/><stop offset="0.2083" stop-color="#cbe486"/><stop offset="0.2500" stop-color="#bcee90"/><stop offset="0.2917" stop-color="#adf599"/><stop offset="0.3333" stop-color="#9efba3"/><stop offset="0.3750" stop-color="#8ffeab"/><stop offset="0.4167" stop-color="#80ffb4"/><stop offset="0.4583" stop-color="#72febc"/><stop offset="0.5000" stop-color="#63fbc4"/><stop offset="0.5417" stop-color="#54f6cb"/><stop offset="0.5833" stop-color="#45efd2"/><stop offset="0.6250" stop-color="#36e5d8"/><stop offset="0.6667" stop-color="#27dade"/><stop offset="0.7083" stop-color="#18cde4"/><stop offset="0.7500" stop-color="#09bee9"/><stop offset="0.7917" stop-color="#06aded"/><stop offset="0.8333" stop-color="#159bf2"/><stop offset="0.8750" stop-color="#2587f5"/><stop offset="0.9167" stop-color="#3472f8"/><stop offset="0.9583" stop-color="#435cfb"/><stop offset="1.0000" stop-color="#5346fd"/></linearGradient>
<linearGradient id="bs37" x1="0" y1="0" x2="0" y2="1"><stop offset="0.0000" stop-color="#ff9850"/><stop offset="0.0417" stop-color="#ffaa5b"/><stop offset="0.0833" stop-color="#f9bb66"/><stop offset="0.1250" stop-color="#eaca71"/><stop offset="0.1667" stop-color="#dbd87b"/><stop offset="0.2083" stop-color="#cce385"/><stop offset="0.2500" stop-color="#bded8f"/><stop offset="0.2917" stop-color="#aef599"/><stop offset="0.3333" stop-color="#9ffaa2"/><stop offset="0.3750" stop-color="#90feab"/><stop offset="0.4167" stop-color="#81ffb3"/><stop offset="0.4583" stop-color="#72febc"/><stop offset="0.5000" stop-color="#63fbc3"/><stop offset="0.5417" stop-color="#54f6cb"/><stop offset="0.5833" stop-color="#45efd2"/><stop offset="0.6250" stop-color="#36e6d8"/><stop offset="0.6667" stop-color="#27dade"/><stop offset="0.7083" stop-color="#18cde4"/><stop offset="0.7500" stop-color="#09bee9"/><stop offset="0.7917" stop-color="#06aded"/><stop offset="0.8333" stop-color="#159bf1"/><stop offset="0.8750" stop-color="#2588f5"/><stop offset="0.9167" stop-color="#3473f8"/><stop offset="0.9583" stop-color="#435dfb"/><stop offset="1.0000" stop-color="#5246fd"/></linearGradient>
<linearGradient id="bs38" x1="0" y1="0" x2="0" y2="1"><stop offset="0.0000" stop-color="#ff964f"/><stop offset="0.0417" stop-color="#ffa95a"/><stop offset="0.0833" stop-color="#faba65"/><stop offset="0.1250" stop-color="#ebc970"/><stop offset="0.1667" stop-color="#dcd77b"/><stop offset="0.2083" stop-color="#cce385"/><stop offset="0.2500" stop-color="#bded8f"/><stop offset="0.2917" stop-color="#aef599"/><stop offset="0.3333" stop-color="#9ffaa2"/><stop offset="0.3750" stop-color="#90feab"/><stop offset="0.4167" stop-color="#81ffb3"/><stop offset="0.4583" stop-color="#73febb"/><stop offset="0.5000" stop-color="#64fbc3"/><stop offset="0.5417" stop-color="#55f6ca"/><stop offset="0.5833" stop-color="#46efd1"/><stop offset="0.6250" stop-color="#36e6d8"/><stop offset="0.6667" stop-color="#27dade"/><stop offset="0.7083" stop-color="#18cde4"/><stop offset="0.7500" stop-color="#09bee9"/><stop offset="0.7917" stop-color="#06aded"/><stop offset="0.8333" stop-color="#159bf1"/><stop offset="0.8750" stop-color="#2488f5"/><stop offset="0.9167" stop-color="#3473f8"/><stop offset="0.9583" stop-color="#435dfb"/><stop offset="1.0000" stop-color="#5246fd"/></linearGradient>
<linearGradient id="bs39" x1="0" y1="0" x2="0" y2="1"><stop offset="0.0000" stop-color="#ff954e"/><stop offset="0.0417" stop-color="#ffa85a"/><stop offset="0.0833" stop-color="#fbb965"/><stop offset="0.1250" stop-color="#ebc970"/><stop offset="0.1667" stop-color="#dcd77a"/><stop offset="0.2083" stop-color="#cde285"/><stop offset="0.2500" stop-color="#beec8f"/><stop offset="0.2917" stop-color="#aff498"/><stop offset="0.3333" stop-color="#a0faa2"/><stop offset="0.3750" stop-color="#91feaa"/><stop offset="0.4167" stop-color="#82ffb3"/><stop offset="0.4583" stop-color="#73febb"/><stop offset="0.5000" stop-color="#64fbc3"/><stop offset="0.5417" stop-color="#55f6ca"/><stop offset="0.5833" stop-color="#46efd1"/><stop offset="0.6250" stop-color="#37e6d8"/><stop offset="0.6667" stop-color="#28dade"/><stop offset="0.7083" stop-color="#18cde4"/><stop offset="0.7500" stop-color="#09bee9"/><stop offset="0.7917" stop-color="#06aeed"/><stop offset="0.8333" stop-color="#159bf1"/><stop offset="0.8750" stop-color="#2488f5"/><stop offset="0.9167" stop-color="#3473f8"/><stop offset="0.9583" stop-color="#435dfb"/><stop offset="1.0000" stop-color="#5246fd"/></linearGradient>
<linearGradient id="bs40" x1="0" y1="0" x2="0" y2="1"><stop offset="0.0000" stop-color="#ff944e"/><stop offset="0.0417" stop-color="#ffa759"/><stop offset="0.0833" stop-color="#fbb864"/><stop offset="0.1250" stop-color="#ecc86f"/><stop offset="0.1667" stop-color="#ddd67a"/><stop offset="0.2083" stop-color="#cee284"/><stop offset="0.2500" stop-color="#beec8e"/><stop offset="0.2917" stop-color="#aff498"/><stop offset="0.3333" stop-color="#a0faa1"/><stop offset="0.3750" stop-color="#91fdaa"/><stop offset="0.4167" stop-color="#82ffb3"/><stop offset="0.4583" stop-color="#73febb"/><stop offset="0.5000" stop-color="#64fbc3"/><stop offset="0.5417" stop-color="#55f6ca"/><stop offset="0.5833" stop-color="#46efd1"/><stop offset="0.6250" stop-color="#37e6d8"/><stop offset="0.6667" stop-color="#28dbde"/><stop offset="0.7083" stop-color="#19cde4"/><stop offset="0.7500" stop-color="#09bee9"/><stop offset="0.7917" stop-color="#06aeed"/><stop offset="0.8333" stop-color="#159cf1"/><stop offset="0.8750" stop-color="#2488f5"/><stop offset="0.9167" stop-color="#3473f8"/><stop offset="0.9583" stop-color="#435dfb"/><stop offset="1.0000" stop-color="#5246fd"/></linearGradient>
<linearGradient id="bs41" x1="0" y1="0" x2="0" y2="1"><stop offset="0.0000" stop-color="#ff934d"/><stop offset="0.0417" stop-color="#ffa659"/><stop offset="0.0833" stop-color="#fcb864"/><stop offset="0.1250" stop-color="#edc76f"/><stop offset="0.1667" stop-color="#ded579"/><stop offset="0.2083" stop-color="#cee284"/><stop offset="0.2500" stop-color="#bfec8e"/><stop offset="0.2917" stop-color="#b0f498"/><stop offset="0.3333" stop-color="#a1faa1"/><stop offset="0.3750" stop-color="#92fdaa"/><stop offset="0.4167" stop-color="#83ffb3"/><stop offset="0.4583" stop-color="#74febb"/><stop offset="0.5000" stop-color="#64fbc3"/><stop offset="0.5417" stop-color="#55f6ca"/><stop offset="0.5833" stop-color="#46efd1"/><stop offset="0.6250" stop-color="#37e6d8"/><stop offset="0.6667" stop-color="#28dbde"/><stop offset="0.7083" stop-color="#19cee4"/><stop offset="0.7500" stop-color="#09bfe9"/><stop offset="0.7917" stop-color="#06aeed"/><stop offset="0.8333" stop-color="#159cf1"/><stop offset="0.8750" stop-color="#2488f5"/><stop offset="0.9167" stop-color="#3373f8"/><stop offset="0.9583" stop-color="#435dfb"/><stop offset="1.0000" stop-color="#5247fd"/></linearGradient>
<linearGradient id="bs42" x1="0" y1="0" x2="0" y2="1"><stop offset="0.0000" stop-color="#ff924d"/><stop offset="0.0417" stop-color="#ffa558"/><stop offset="0.0833" stop-color="#fdb763"/><stop offset="0.1250" stop-color="#eec76e"/><stop offset="0.1667" stop-color="#ded579"/><stop offset="0.2083" stop-color="#cfe183"/><stop offset="0.2500" stop-color="#c0eb8d"/><stop offset="0.2917" stop-color="#b0f497"/><stop offset="0.3333" stop-color="#a1f9a1"/><stop offset="0.3750" stop-color="#92fdaa"/><stop offset="0.4167" stop-color="#83ffb2"/><stop offset="0.4583" stop-color="#74febb"/><stop offset="0.5000" stop-color="#65fcc3"/><stop offset="0.5417" stop-color="#56f7ca"/><stop offset="0.5833" stop-color="#46efd1"/><stop offset="0.6250" stop-color="#37e6d8"/><stop offset="0.6667" stop-color="#28dbde"/><stop offset="0.7083" stop-color="#19cee3"/><stop offset="0.7500" stop-color="#0abfe9"/><stop offset="0.7917" stop-color="#06aeed"/><stop offset="0.8333" stop-color="#159cf1"/><stop offset="0.8750" stop-color="#2488f5"/><stop offset="0.9167" stop-color="#3373f8"/><stop offset="0.9583" stop-color="#435dfb"/><stop offset="1.0000" stop-color="#5247fc"/></linearGradient>
<linearGradient id="bs43" x1="0" y1="0" x2="0" y2="1"><stop offset="0.0000" stop-color="#ff914c"/><stop offset="0.0417" stop-color="#ffa457"/><stop offset="0.0833" stop-color="#feb663"/><stop offset="0.1250" stop-color="#eec66e"/><stop offset="0.1667" stop-color="#dfd478"/><stop offset="0.2083" stop-color="#d0e183"/><stop offset="0.2500" stop-color="#c0eb8d"/><stop offset="0.2917" stop-color="#b1f397"/><stop offset="0.3333" stop-color="#a2f9a0"/><stop offset="0.3750" stop-color="#93fda9"/><stop offset="0.4167" stop-color="#83ffb2"/><stop offset="0.4583" stop-color="#74feba"/><stop offset="0.5000" stop-color="#65fcc2"/><stop offset="0.5417" stop-color="#56f7ca"/><stop offset="0.5833" stop-color="#47f0d1"/><stop offset="0.6250" stop-color="#37e6d8"/><stop offset="0.6667" stop-color="#28dbde"/><stop offset="0.7083" stop-color="#19cee3"/><stop offset="0.7500" stop-color="#0abfe9"/><stop offset="0.7917" stop-color="#05aeed"/><stop offset="0.8333" stop-color="#159cf1"/><stop offset="0.8750" stop-color="#2488f5"/><stop offset="0.9167" stop-color="#3373f8"/><stop offset="0.9583" stop-color="#435efb"/><stop offset="1.0000" stop-color="#5247fc"/></linearGradient>
<linearGradient id="bs44" x1="0" y1="0" x2="0" y2="1"><stop offset="0.0000" stop-color="#ff904b"/><stop offset="0.0417" stop-color="#ffa357"/><stop offset="0.0833" stop-color="#feb562"/><stop offset="0.1250" stop-color="#efc56d"/><stop offset="0.1667" stop-color="#e0d478"/><stop offset="0.2083" stop-color="#d0e082"/><stop offset="0.2500" stop-color="#c1eb8d"/><stop offset="0.2917" stop-color="#b2f396"/><stop offset="0.3333" stop-color="#a2f9a0"/><stop offset="0.3750" stop-color="#93fda9"/><stop offset="0.4167" stop-color="#84ffb2"/><stop offset="0.4583" stop-color="#75feba"/><stop offset="0.5000" stop-color="#65fcc2"/><stop offset="0.5417" stop-color="#56f7ca"/><stop offset="0.5833" stop-color="#47f0d1"/><stop offset="0.6250" stop-color="#38e6d8"/><stop offset="0.6667" stop-color="#28dbde"/><stop offset="0.7083" stop-color="#19cee3"/><stop offset="0.7500" stop-color="#0abfe9"/><stop offset="0.7917" stop-color="#05aeed"/><stop offset="0.8333" stop-color="#159cf1"/><stop offset="0.8750" stop-color="#2488f5"/><stop offset="0.9167" stop-color="#3374f8"/><stop offset="0.9583" stop-color="#425efb"/><stop offset="1.0000" stop-color="#5247fc"/></linearGradient>
<linearGradient id="bs45" x1="0" y1="0" x2="0" y2="1"><stop offset="0.0000" stop-color="#ff8f4b"/><stop offset="0.0417" stop-color="#ffa256"/><stop offset="0.0833" stop-color="#ffb461"/><stop offset="0.1250" stop-color="#f0c46d"/><stop offset="0.1667" stop-color="#e0d377"/><stop offset="0.2083" stop-color="#d1e082"/><stop offset="0.2500" stop-color="#c1ea8c"/><stop offset="0.2917" stop-color="#b2f396"/><stop offset="0.3333" stop-color="#a3f9a0"/><stop offset="0.3750" stop-color="#94fda9"/><stop offset="0.4167" stop-color="#84ffb2"/><stop offset="0.4583" stop-color="#75feba"/><stop offset="0.5000" stop-color="#66fcc2"/><stop offset="0.5417" stop-color="#56f7ca"/><stop offset="0.5833" stop-color="#47f0d1"/><stop offset="0.6250" stop-color="#38e7d7"/><stop offset="0.6667" stop-color="#29dbde"/><stop offset="0.7083" stop-color="#19cee3"/><stop offset="0.7500" stop-color="#0abfe8"/><stop offset="0.7917" stop-color="#05aeed"/><stop offset="0.8333" stop-color="#159cf1"/><stop offset="0.8750" stop-color="#2489f5"/><stop offset="0.9167" stop-color="#3374f8"/><stop offset="0.9583" stop-color="#425efa"/><stop offset="1.0000" stop-color="#5247fc"/></linearGradient>
<linearGradient id="bs46" x1="0" y1="0" x2="0" y2="1"><stop offset="0.0000" stop-color="#ff8e4a"/><stop offset="0.0417" stop-color="#ffa256"/><stop offset="0.0833" stop-color="#ffb461"/><stop offset="0.1250" stop-color="#f0c46c"/><stop offset="0.1667" stop-color="#e1d377"/><stop offset="0.2083" stop-color="#d1df82"/><stop offset="0.2500" stop-color="#c2ea8c"/><stop offset="0.2917" stop-color="#b2f396"/><stop offset="0.3333" stop-color="#a3f99f"/><stop offset="0.3750" stop-color="#94fda9"/><stop offset="0.4167" stop-color="#84ffb2"/><stop offset="0.4583" stop-color="#75feba"/><stop offset="0.5000" stop-color="#66fcc2"/><stop offset="0.5417" stop-color="#57f7ca"/><stop offset="0.5833" stop-color="#47f0d1"/><stop offset="0.6250" stop-color="#38e7d7"/><stop offset="0.6667" stop-color="#29dbde"/><stop offset="0.7083" stop-color="#19cee3"/><stop offset="0.7500" stop-color="#0abfe8"/><stop offset="0.7917" stop-color="#05aeed"/><stop offset="0.8333" stop-color="#149cf1"/><stop offset="0.8750" stop-color="#2489f5"/><stop offset="0.9167" stop-color="#3374f8"/><stop offset="0.9583" stop-color="#425efa"/><stop offset="1.0000" stop-color="#5247fc"/></linearGradient>
<linearGradient id="bs47" x1="0" y1="0" x2="0" y2="1"><stop offset="0.0000" stop-color="#ff8e4a"/><stop offset="0.0417" stop-color="#ffa156"/><stop offset="0.0833" stop-color="#ffb361"/><stop offset="0.1250" stop-color="#f0c46c"/><stop offset="0.1667" stop-color="#e1d277"/><stop offset="0.2083" stop-color="#d1df82"/><stop offset="0.2500" stop-color="#c2ea8c"/><stop offset="0.2917" stop-color="#b3f396"/><stop offset="0.3333" stop-color="#a3f99f"/><stop offset="0.3750" stop-color="#94fda9"/><stop offset="0.4167" stop-color="#85ffb1"/><stop offset="0.4583" stop-color="#75feba"/><stop offset="0.5000" stop-color="#66fcc2"/><stop offset="0.5417" stop-color="#57f7ca"/><stop offset="0.5833" stop-color="#47f0d1"/><stop offset="0.6250" stop-color="#38e7d7"/><stop offset="0.6667" stop-color="#29dbde"/><stop offset="0.7083" stop-color="#19cee3"/><stop offset="0.7500" stop-color="#0abfe8"/><stop offset="0.7917" stop-color="#05afed"/><stop offset="0.8333" stop-color="#149cf1"/><stop offset="0.8750" stop-color="#2489f5"/><stop offset="0.9167" stop-color="#3374f8"/><stop offset="0.9583" stop-color="#425efa"/><stop offset="1.0000" stop-color="#5247fc"/></linearGradient>
<linearGradient id="bs48" x1="0" y1="0" x2="0" y2="1"><stop offset="0.0000" stop-color="#ff8d4a"/><stop offset="0.0417" stop-color="#ffa155"/><stop offset="0.0833" stop-color="#ffb361"/><stop offset="0.1250" stop-color="#f1c46c"/><stop offset="0.1667" stop-color="#e1d277"/><stop offset="0.2083" stop-color="#d2df81"/><stop offset="0.2500" stop-color="#c2ea8c"/><stop offset="0.2917" stop-color="#b3f296"/><stop offset="0.3333" stop-color="#a3f99f"/><stop offset="0.3750" stop-color="#94fda9"/><stop offset="0.4167" stop-color="#85ffb1"/><stop offset="0.4583" stop-color="#75feba"/><stop offset="0.5000" stop-color="#66fcc2"/><stop offset="0.5417" stop-color="#57f7c9"/><stop offset="0.5833" stop-color="#47f0d1"/><stop offset="0.6250" stop-color="#38e7d7"/><stop offset="0.6667" stop-color="#29dbde"/><stop offset="0.7083" stop-color="#1acee3"/><stop offset="0.7500" stop-color="#0abfe8"/><stop offset="0.7917" stop-color="#05afed"/><stop offset="0.8333" stop-color="#149cf1"/><stop offset="0.8750" stop-color="#2489f5"/><stop offset="0.9167" stop-color="#3374f8"/><stop offset="0.9583" stop-color="#425efa"/><stop offset="1.0000" stop-color="#5247fc"/></linearGradient>
<linearGradient id="bs49" x1="0" y1="0" x2="0" y2="1"><stop offset="0.0000" stop-color="#ff8d4a"/><stop offset="0.0417" stop-color="#ffa155"/><stop offset="0.0833" stop-color="#ffb361"/><stop offset="0.1250" stop-color="#f1c36c"/><stop offset="0.1667" stop-color="#e1d277"/><stop offset="0.2083" stop-color="#d2df81"/><stop offset="0.2500" stop-color="#c2ea8c"/><stop offset="0.2917" stop-color="#b3f296"/><stop offset="0.3333" stop-color="#a3f99f"/><stop offset="0.3750" stop-color="#94fda9"/><stop offset="0.4167" stop-color="#85ffb1"/><stop offset="0.4583" stop-color="#75ffba"/><stop offset="0.5000" stop-color="#66fcc2"/><stop offset="0.5417" stop-color="#57f7c9"/><stop offset="0.5833" stop-color="#47f0d1"/><stop offset="0.6250" stop-color="#38e7d7"/><stop offset="0.6667" stop-color="#29dcdd"/><stop offset="0.7083" stop-color="#1acee3"/><stop offset="0.7500" stop-color="#0abfe8"/><stop offset="0.7917" stop-color="#05afed"/><stop offset="0.8333" stop-color="#149cf1"/><stop offset="0.8750" stop-color="#2489f5"/><stop offset="0.9167" stop-color="#3374f8"/><stop offset="0.9583" stop-color="#425efa"/><stop offset="1.0000" stop-color="#5247fc"/></linearGradient>
<linearGradient id="bs50" x1="0" y1="0" x2="0" y2="1"><stop offset="0.0000" stop-color="#ff8d4a"/><stop offset="0.0417" stop-color="#ffa155"/><stop offset="0.0833" stop-color="#ffb361"/><stop offset="0.1250" stop-color="#f1c36c"/><stop offset="0.1667" stop-color="#e1d277"/><stop offset="0.2083" stop-color="#d2df81"/><stop offset="0.2500" stop-color="#c2ea8c"/><stop offset="0.2917" stop-color="#b3f296"/><stop offset="0.3333" stop-color="#a3f99f"/><stop offset="0.3750" stop-color="#94fda9"/><stop offset="0.4167" stop-color="#85ffb1"/><stop offset="0.4583" stop-color="#75ffba"/><stop offset="0.5000" stop-color="#66fcc2"/><stop offset="0.5417" stop-color="#57f7c9"/><stop offset="0.5833" stop-color="#48f0d1"/><stop offset="0.6250" stop-color="#38e7d7"/><stop offset="0.6667" stop-color="#29dcdd"/><stop offset="0.7083" stop-color="#1acee3"/><stop offset="0.7500" stop-color="#0abfe8"/><stop offset="0.7917" stop-color="#05afed"/><stop offset="0.8333" stop-color="#149cf1"/><stop offset="0.8750" stop-color="#2489f5"/><stop offset="0.9167" stop-color="#3374f8"/><stop offset="0.9583" stop-color="#425efa"/><stop offset="1.0000" stop-color="#5247fc"/></linearGradient>
<linearGradient id="bs51" x1="0" y1="0" x2="0" y2="1"><stop offset="0.0000" stop-color="#ff8d49"/><stop offset="0.0417" stop-color="#ffa055"/><stop offset="0.0833" stop-color="#ffb360"/><stop offset="0.1250" stop-color="#f1c36c"/><stop offset="0.1667" stop-color="#e1d277"/><stop offset="0.2083" stop-color="#d2df81"/><stop offset="0.2500" stop-color="#c2ea8c"/><stop offset="0.2917" stop-color="#b3f296"/><stop offset="0.3333" stop-color="#a3f99f"/><stop offset="0.3750" stop-color="#94fda8"/><stop offset="0.4167" stop-color="#85ffb1"/><stop offset="0.4583" stop-color="#76ffba"/><stop offset="0.5000" stop-color="#66fcc2"/><stop offset="0.5417" stop-color="#57f7c9"/><stop offset="0.5833" stop-color="#48f0d1"/><stop offset="0.6250" stop-color="#38e7d7"/><stop offset="0.6667" stop-color="#29dcdd"/><stop offset="0.7083" stop-color="#1acee3"/><stop offset="0.7500" stop-color="#0abfe8"/><stop offset="0.7917" stop-color="#05afed"/><stop offset="0.8333" stop-color="#149cf1"/><stop offset="0.8750" stop-color="#2489f5"/><stop offset="0.9167" stop-color="#3374f8"/><stop offset="0.9583" stop-color="#425efa"/><stop offset="1.0000" stop-color="#5247fc"/></linearGradient>
<linearGradient id="bs52" x1="0" y1="0" x2="0" y2="1"><stop offset="0.0000" stop-color="#ff8c49"/><stop offset="0.0417" stop-color="#ffa055"/><stop offset="0.0833" stop-color="#ffb260"/><stop offset="0.1250" stop-color="#f1c36b"/><stop offset="0.1667" stop-color="#e2d276"/><stop offset="0.2083" stop-color="#d2df81"/><stop offset="0.2500" stop-color="#c2ea8c"/><stop offset="0.2917" stop-color="#b3f296"/><stop offset="0.3333" stop-color="#a4f99f"/><stop offset="0.3750" stop-color="#94fda8"/><stop offset="0.4167" stop-color="#85ffb1"/><stop offset="0.4583" stop-color="#76ffba"/><stop offset="0.5000" stop-color="#66fcc2"/><stop offset="0.5417" stop-color="#57f7c9"/><stop offset="0.5833" stop-color="#48f0d0"/><stop offset="0.6250" stop-color="#38e7d7"/><stop offset="0.6667" stop-color="#29dcdd"/><stop offset="0.7083" stop-color="#1acfe3"/><stop offset="0.7500" stop-color="#0ac0e8"/><stop offset="0.7917" stop-color="#05afed"/><stop offset="0.8333" stop-color="#149df1"/><stop offset="0.8750" stop-color="#2489f5"/><stop offset="0.9167" stop-color="#3374f8"/><stop offset="0.9583" stop-color="#425efa"/><stop offset="1.0000" stop-color="#5247fc"/></linearGradient>
<linearGradient id="bs53" x1="0" y1="0" x2="0" y2="1"><stop offset="0.0000" stop-color="#ff8c49"/><stop offset="0.0417" stop-color="#ffa055"/><stop offset="0.0833" stop-color="#ffb260"/><stop offset="0.1250" stop-color="#f1c36b"/><stop offset="0.1667" stop-color="#e2d276"/><stop offset="0.2083" stop-color="#d2df81"/><stop offset="0.2500" stop-color="#c3ea8c"/><stop offset="0.2917" stop-color="#b3f296"/><stop offset="0.3333" stop-color="#a4f99f"/><stop offset="0.3750" stop-color="#94fda8"/><stop offset="0.4167" stop-color="#85ffb1"/><stop offset="0.4583" stop-color="#76ffba"/><stop offset="0.5000" stop-color="#66fcc2"/><stop offset="0.5417" stop-color="#57f7c9"/><stop offset="0.5833" stop-color="#48f0d0"/><stop offset="0.6250" stop-color="#38e7d7"/><stop offset="0.6667" stop-color="#29dcdd"/><stop offset="0.7083" stop-color="#1acfe3"/><stop offset="0.7500" stop-color="#0ac0e8"/><stop offset="0.7917" stop-color="#05afed"/><stop offset="0.8333" stop-color="#149df1"/><stop offset="0.8750" stop-color="#2389f5"/><stop offset="0.9167" stop-color="#3374f8"/><stop offset="0.9583" stop-color="#425efa"/><stop offset="1.0000" stop-color="#5247fc"/></linearGradient>
<linearGradient id="bs54" x1="0" y1="0" x2="0" y2="1"><stop offset="0.0000" stop-color="#ff8c49"/><stop offset="0.0417" stop-color="#ff9f55"/><stop offset="0.0833" stop-color="#ffb260"/><stop offset="0.1250" stop-color="#f2c36b"/><stop offset="0.1667" stop-color="#e2d276"/><stop offset="0.2083" stop-color="#d2df81"/><stop offset="0.2500" stop-color="#c3e98b"/><stop offset="0.2917" stop-color="#b3f296"/><stop offset="0.3333" stop-color="#a4f99f"/><stop offset="0.3750" stop-color="#94fda8"/><stop offset="0.4167" stop-color="#85ffb1"/><stop offset="0.4583" stop-color="#76ffba"/><stop offset="0.5000" stop-color="#66fcc2"/><stop offset="0.5417" stop-color="#57f7c9"/><stop offset="0.5833" stop-color="#48f0d0"/><stop offset="0.6250" stop-color="#39e7d7"/><stop offset="0.6667" stop-color="#29dcdd"/><stop offset="0.7083" stop-color="#1acfe3"/><stop offset="0.7500" stop-color="#0bc0e8"/><stop offset="0.7917" stop-color="#05afed"/><stop offset="0.8333" stop-color="#149df1"/><stop offset="0.8750" stop-color="#2389f5"/><stop offset="0.9167" stop-color="#3374f8"/><stop offset="0.9583" stop-color="#425efa"/><stop offset="1.0000" stop-color="#5247fc"/></linearGradient>
<linearGradient id="bs55" x1="0" y1="0" x2="0" y2="1"><stop offset="0.0000" stop-color="#ff8b49"/><stop offset="0.0417" stop-color="#ff9f54"/><stop offset="0.0833" stop-color="#ffb260"/><stop offset="0.1250" stop-color="#f2c26b"/><stop offset="0.1667" stop-color="#e2d176"/><stop offset="0.2083" stop-color="#d2de81"/><stop offset="0.2500" stop-color="#c3e98b"/><stop offset="0.2917" stop-color="#b3f296"/><stop offset="0.3333" stop-color="#a4f99f"/><stop offset="0.3750" stop-color="#94fda8"/><stop offset="0.4167" stop-color="#85ffb1"/><stop offset="0.4583" stop-color="#76ffba"/><stop offset="0.5000" stop-color="#67fcc2"/><stop offset="0.5417" stop-color="#57f7c9"/><stop offset="0.5833" stop-color="#48f0d0"/><stop offset="0.6250" stop-color="#39e7d7"/><stop offset="0.6667" stop-color="#29dcdd"/><stop offset="0.7083" stop-color="#1acfe3"/><stop offset="0.7500" stop-color="#0bc0e8"/><stop offset="0.7917" stop-color="#05afed"/><stop offset="0.8333" stop-color="#149df1"/><stop offset="0.8750" stop-color="#2389f5"/><stop offset="0.9167" stop-color="#3374f8"/><stop offset="0.9583" stop-color="#425efa"/><stop offset="1.0000" stop-color="#5247fc"/></linearGradient>
<linearGradient id="bcb" x1="0" y1="0" x2="0" y2="1"><stop offset="0.000" stop-color="#ff0000"/><stop offset="0.025" stop-color="#ff140a"/><stop offset="0.050" stop-color="#ff2814"/><stop offset="0.075" stop-color="#ff3c1e"/><stop offset="0.100" stop-color="#ff4f28"/><stop offset="0.125" stop-color="#ff6232"/><stop offset="0.150" stop-color="#ff743c"/><stop offset="0.175" stop-color="#ff8545"/><stop offset="0.200" stop-color="#ff964f"/><stop offset="0.225" stop-color="#ffa658"/><stop offset="0.250" stop-color="#ffb462"/><stop offset="0.275" stop-color="#f2c26b"/><stop offset="0.300" stop-color="#e5ce74"/><stop offset="0.325" stop-color="#d9d97d"/><stop offset="0.350" stop-color="#cce385"/><stop offset="0.375" stop-color="#bfec8e"/><stop offset="0.400" stop-color="#b2f396"/><stop offset="0.425" stop-color="#a6f89e"/><stop offset="0.450" stop-color="#99fca6"/><stop offset="0.475" stop-color="#8cfead"/><stop offset="0.500" stop-color="#80ffb4"/><stop offset="0.525" stop-color="#73febb"/><stop offset="0.550" stop-color="#66fcc2"/><stop offset="0.575" stop-color="#59f8c8"/><stop offset="0.600" stop-color="#4df3ce"/><stop offset="0.625" stop-color="#40ecd4"/><stop offset="0.650" stop-color="#33e3d9"/><stop offset="0.675" stop-color="#26d9de"/><stop offset="0.700" stop-color="#1acee3"/><stop offset="0.725" stop-color="#0dc2e8"/><stop offset="0.750" stop-color="#00b4ec"/><stop offset="0.775" stop-color="#0da6ef"/><stop offset="0.800" stop-color="#1a96f3"/><stop offset="0.825" stop-color="#2685f5"/><stop offset="0.850" stop-color="#3374f8"/><stop offset="0.875" stop-color="#4062fa"/><stop offset="0.900" stop-color="#4d4ffc"/><stop offset="0.925" stop-color="#593cfd"/><stop offset="0.950" stop-color="#6628fe"/><stop offset="0.975" stop-color="#7314ff"/><stop offset="1.000" stop-color="#8000ff"/></linearGradient>
</defs>
<rect width="1000" height="1198" fill="#fff"/>
<rect x="119.00" y="8.00" width="706.50" height="510.90" fill="url(#ac)"/>
<g shape-rendering="crispEdges">
<rect x="119" y="8.00" width="1" height="510.90" fill="url(#as0)"/>
<rect x="825" y="8.00" width="1" height="510.90" fill="url(#as0)"/>
<rect x="120" y="8.00" width="1" height="510.90" fill="url(#as1)"/>
<rect x="824" y="8.00" width="1" height="510.90" fill="url(#as1)"/>
<rect x="121" y="8.00" width="1" height="510.90" fill="url(#as2)"/>
<rect x="823" y="8.00" width="1" height="510.90" fill="url(#as2)"/>
<rect x="122" y="8.00" width="1" height="510.90" fill="url(#as3)"/>
<rect x="822" y="8.00" width="1" height="510.90" fill="url(#as3)"/>
<rect x="123" y="8.00" width="1" height="510.90" fill="url(#as4)"/>
<rect x="821" y="8.00" width="1" height="510.90" fill="url(#as4)"/>
<rect x="124" y="8.00" width="1" height="510.90" fill="url(#as5)"/>
<rect x="820" y="8.00" width="1" height="510.90" fill="url(#as5)"/>
<rect x="125" y="8.00" width="1" height="510.90" fill="url(#as6)"/>
<rect x="819" y="8.00" width="1" height="510.90" fill="url(#as6)"/>
<rect x="126" y="8.00" width="1" height="510.90" fill="url(#as7)"/>
<rect x="818" y="8.00" width="1" height="510.90" fill="url(#as7)"/>
<rect x="127" y="8.00" width="1" height="510.90" fill="url(#as8)"/>
<rect x="817" y="8.00" width="1" height="510.90" fill="url(#as8)"/>
<rect x="128" y="8.00" width="1" height="510.90" fill="url(#as9)"/>
<rect x="816" y="8.00" width="1" height="510.90" fill="url(#as9)"/>
<rect x="129" y="8.00" width="1" height="510.90" fill="url(#as10)"/>
<rect x="815" y="8.00" width="1" height="510.90" fill="url(#as10)"/>
<rect x="130" y="8.00" width="1" height="510.90" fill="url(#as11)"/>
<rect x="814" y="8.00" width="1" height="510.90" fill="url(#as11)"/>
<rect x="131" y="8.00" width="1" height="510.90" fill="url(#as12)"/>
<rect x="813" y="8.00" width="1" height="510.90" fill="url(#as12)"/>
<rect x="132" y="8.00" width="1" height="510.90" fill="url(#as13)"/>
<rect x="812" y="8.00" width="1" height="510.90" fill="url(#as13)"/>
<rect x="133" y="8.00" width="1" height="510.90" fill="url(#as14)"/>
<rect x="811" y="8.00" width="1" height="510.90" fill="url(#as14)"/>
<rect x="134" y="8.00" width="1" height="510.90" fill="url(#as15)"/>
<rect x="810" y="8.00" width="1" height="510.90" fill="url(#as15)"/>
<rect x="135" y="8.00" width="1" height="510.90" fill="url(#as16)"/>
<rect x="809" y="8.00" width="1" height="510.90" fill="url(#as16)"/>
<rect x="136" y="8.00" width="1" height="510.90" fill="url(#as17)"/>
<rect x="808" y="8.00" width="1" height="510.90" fill="url(#as17)"/>
<rect x="137" y="8.00" width="1" height="510.90" fill="url(#as18)"/>
<rect x="807" y="8.00" width="1" height="510.90" fill="url(#as18)"/>
<rect x="138" y="8.00" width="1" height="510.90" fill="url(#as19)"/>
<rect x="806" y="8.00" width="1" height="510.90" fill="url(#as19)"/>
<rect x="139" y="8.00" width="1" height="510.90" fill="url(#as20)"/>
<rect x="805" y="8.00" width="1" height="510.90" fill="url(#as20)"/>
<rect x="140" y="8.00" width="1" height="510.90" fill="url(#as21)"/>
<rect x="804" y="8.00" width="1" height="510.90" fill="url(#as21)"/>
<rect x="141" y="8.00" width="1" height="510.90" fill="url(#as22)"/>
<rect x="803" y="8.00" width="1" height="510.90" fill="url(#as22)"/>
<rect x="142" y="8.00" width="1" height="510.90" fill="url(#as23)"/>
<rect x="802" y="8.00" width="1" height="510.90" fill="url(#as23)"/>
<rect x="143" y="8.00" width="1" height="510.90" fill="url(#as24)"/>
<rect x="801" y="8.00" width="1" height="510.90" fill="url(#as24)"/>
<rect x="144" y="8.00" width="1" height="510.90" fill="url(#as25)"/>
<rect x="800" y="8.00" width="1" height="510.90" fill="url(#as25)"/>
<rect x="145" y="8.00" width="1" height="510.90" fill="url(#as26)"/>
<rect x="799" y="8.00" width="1" height="510.90" fill="url(#as26)"/>
<rect x="146" y="8.00" width="1" height="510.90" fill="url(#as27)"/>
<rect x="798" y="8.00" width="1" height="510.90" fill="url(#as27)"/>
<rect x="147" y="8.00" width="1" height="510.90" fill="url(#as28)"/>
<rect x="797" y="8.00" width="1" height="510.90" fill="url(#as28)"/>
<rect x="148" y="8.00" width="1" height="510.90" fill="url(#as29)"/>
<rect x="796" y="8.00" width="1" height="510.90" fill="url(#as29)"/>
<rect x="149" y="8.00" width="1" height="510.90" fill="url(#as30)"/>
<rect x="795" y="8.00" width="1" height="510.90" fill="url(#as30)"/>
<rect x="150" y="8.00" width="1" height="510.90" fill="url(#as31)"/>
<rect x="794" y="8.00" width="1" height="510.90" fill="url(#as31)"/>
<rect x="151" y="8.00" width="1" height="510.90" fill="url(#as32)"/>
<rect x="793" y="8.00" width="1" height="510.90" fill="url(#as32)"/>
<rect x="152" y="8.00" width="1" height="510.90" fill="url(#as33)"/>
<rect x="792" y="8.00" width="1" height="510.90" fill="url(#as33)"/>
<rect x="153" y="8.00" width="1" height="510.90" fill="url(#as34)"/>
<rect x="791" y="8.00" width="1" height="510.90" fill="url(#as34)"/>
<rect x="154" y="8.00" width="1" height="510.90" fill="url(#as35)"/>
<rect x="790" y="8.00" width="1" height="510.90" fill="url(#as35)"/>
<rect x="155" y="8.00" width="1" height="510.90" fill="url(#as36)"/>
<rect x="789" y="8.00" width="1" height="510.90" fill="url(#as36)"/>
<rect x="156" y="8.00" width="2" height="510.90" fill="url(#as37)"/>
<rect x="787" y="8.00" width="2" height="510.90" fill="url(#as37)"/>
<rect x="158" y="8.00" width="2" height="510.90" fill="url(#as38)"/>
<rect x="785" y="8.00" width="2" height="510.90" fill="url(#as38)"/>
<rect x="160" y="8.00" width="2" height="510.90" fill="url(#as39)"/>
<rect x="783" y="8.00" width="2" height="510.90" fill="url(#as39)"/>
<rect x="162" y="8.00" width="2" height="510.90" fill="url(#as40)"/>
<rect x="781" y="8.00" width="2" height="510.90" fill="url(#as40)"/>
<rect x="164" y="8.00" width="2" height="510.90" fill="url(#as41)"/>
<rect x="779" y="8.00" width="2" height="510.90" fill="url(#as41)"/>
<rect x="166" y="8.00" width="2" height="510.90" fill="url(#as42)"/>
<rect x="777" y="8.00" width="2" height="510.90" fill="url(#as42)"/>
<rect x="168" y="8.00" width="2" height="510.90" fill="url(#as43)"/>
<rect x="775" y="8.00" width="2" height="510.90" fill="url(#as43)"/>
<rect x="170" y="8.00" width="2" height="510.90" fill="url(#as44)"/>
<rect x="773" y="8.00" width="2" height="510.90" fill="url(#as44)"/>
<rect x="172" y="8.00" width="2" height="510.90" fill="url(#as45)"/>
<rect x="771" y="8.00" width="2" height="510.90" fill="url(#as45)"/>
<rect x="174" y="8.00" width="2" height="510.90" fill="url(#as46)"/>
<rect x="769" y="8.00" width="2" height="510.90" fill="url(#as46)"/>
<rect x="176" y="8.00" width="2" height="510.90" fill="url(#as47)"/>
<rect x="767" y="8.00" width="2" height="510.90" fill="url(#as47)"/>
<rect x="178" y="8.00" width="2" height="510.90" fill="url(#as48)"/>
<rect x="765" y="8.00" width="2" height="510.90" fill="url(#as48)"/>
<rect x="180" y="8.00" width="2" height="510.90" fill="url(#as49)"/>
<rect x="763" y="8.00" width="2" height="510.90" fill="url(#as49)"/>
<rect x="182" y="8.00" width="2" height="510.90" fill="url(#as50)"/>
<rect x="761" y="8.00" width="2" height="510.90" fill="url(#as50)"/>
<rect x="184" y="8.00" width="2" height="510.90" fill="url(#as51)"/>
<rect x="759" y="8.00" width="2" height="510.90" fill="url(#as51)"/>
<rect x="186" y="8.00" width="2" height="510.90" fill="url(#as52)"/>
<rect x="757" y="8.00" width="2" height="510.90" fill="url(#as52)"/>
<rect x="188" y="8.00" width="2" height="510.90" fill="url(#as53)"/>
<rect x="755" y="8.00" width="2" height="510.90" fill="url(#as53)"/>
<rect x="190" y="8.00" width="2" height="510.90" fill="url(#as54)"/>
<rect x="753" y="8.00" width="2" height="510.90" fill="url(#as54)"/>
</g>
<clipPath id="aclip"><rect x="119.00" y="8.00" width="706.50" height="510.90"/></clipPath>
<g clip-path="url(#aclip)" fill="none" stroke-width="3.1" stroke-linejoin="miter">
<path d="M157.3 6.0 L173.1 14.6 L191.0 16.4 L209.0 17.0 L457.2 17.0" stroke="#73d250"/>
<path d="M505.0 17.0 L735.5 17.0 L753.5 16.4 L771.4 14.6 L787.2 6.0" stroke="#73d250"/>
<path d="M128.9 0.0 L129.2 8.0 L136.7 106.7 L154.8 144.2 L172.8 150.2 L191.0 151.2 L209.0 151.4 L383.9 151.4" stroke="#1ca082"/>
<path d="M433.3 151.4 L735.5 151.4 L753.5 151.2 L771.7 150.2 L789.7 144.2 L807.8 106.7 L815.3 8.0 L815.6 0.0" stroke="#1ca082"/>
<path d="M117.4 25.0 L118.3 65.0 L123.5 140.0 L125.8 170.0 L136.7 266.2 L154.8 287.9 L173.1 290.9 L191.0 291.6 L209.0 291.8 L547.2 291.8" stroke="#286e8a"/>
<path d="M596.1 291.8 L735.5 291.8 L753.5 291.6 L771.4 290.9 L789.7 287.9 L807.8 266.2 L818.7 170.0 L821.0 140.0 L826.2 65.0 L827.1 25.0" stroke="#286e8a"/>
<path d="M118.2 280.0 L119.2 300.0 L122.0 340.0 L136.7 425.3 L154.8 434.4 L173.0 435.1 L191.0 435.5 L384.2 435.5" stroke="#463e82"/>
<path d="M433.3 435.5 L753.5 435.5 L771.5 435.1 L789.7 434.4 L807.8 425.3 L822.5 340.0 L825.3 300.0 L826.3 280.0" stroke="#463e82"/>
</g>
<g clip-path="url(#aclip)" font-size="22.4" text-anchor="middle">
<text x="481.7" y="23.1">68</text>
<text x="408.9" y="157.5">66</text>
<text x="571.9" y="297.9">64</text>
<text x="408.8" y="441.6">62</text>
</g>
<rect x="119.00" y="8.00" width="706.50" height="510.90" fill="none" stroke="#000" stroke-width="1.67"/>
<path d="M119.00 518.90 v7.8M137.12 518.90 v7.8M155.23 518.90 v7.8M173.35 518.90 v7.8M191.46 518.90 v7.8M209.58 518.90 v7.8M227.69 518.90 v7.8M245.81 518.90 v7.8M263.92 518.90 v7.8M282.04 518.90 v7.8M300.15 518.90 v7.8M318.27 518.90 v7.8M336.38 518.90 v7.8M354.50 518.90 v7.8M372.62 518.90 v7.8M390.73 518.90 v7.8M408.85 518.90 v7.8M426.96 518.90 v7.8M445.08 518.90 v7.8M463.19 518.90 v7.8M481.31 518.90 v7.8M499.42 518.90 v7.8M517.54 518.90 v7.8M535.65 518.90 v7.8M553.77 518.90 v7.8M571.88 518.90 v7.8M590.00 518.90 v7.8M608.12 518.90 v7.8M626.23 518.90 v7.8M644.35 518.90 v7.8M662.46 518.90 v7.8M680.58 518.90 v7.8M698.69 518.90 v7.8M716.81 518.90 v7.8M734.92 518.90 v7.8M753.04 518.90 v7.8M771.15 518.90 v7.8M789.27 518.90 v7.8M807.38 518.90 v7.8M825.50 518.90 v7.8M119.00 8.00 h-7.8M119.00 64.77 h-7.8M119.00 121.53 h-7.8M119.00 178.30 h-7.8M119.00 235.07 h-7.8M119.00 291.83 h-7.8M119.00 348.60 h-7.8M119.00 405.37 h-7.8M119.00 462.13 h-7.8M119.00 518.90 h-7.8" stroke="#000" stroke-width="1.67" fill="none"/>
<rect x="902.20" y="8.10" width="25.80" height="510.70" fill="url(#acb)" stroke="#000" stroke-width="1.67"/>
<g font-size="22.4">
<text x="942.6" y="527.3">60</text>
<text x="942.6" y="425.0">62</text>
<text x="942.6" y="322.6">64</text>
<text x="942.6" y="220.3">66</text>
<text x="942.6" y="117.9">68</text>
</g>
<path d="M928.00 518.80 h7.8M928.00 416.46 h7.8M928.00 314.11 h7.8M928.00 211.77 h7.8M928.00 109.42 h7.8" stroke="#000" stroke-width="1.67" fill="none"/>
<rect x="112.40" y="637.70" width="711.90" height="499.70" fill="url(#bc)"/>
<g shape-rendering="crispEdges">
<rect x="112" y="637.70" width="1" height="499.70" fill="url(#bs0)"/>
<rect x="824" y="637.70" width="1" height="499.70" fill="url(#bs0)"/>
<rect x="113" y="637.70" width="1" height="499.70" fill="url(#bs1)"/>
<rect x="823" y="637.70" width="1" height="499.70" fill="url(#bs1)"/>
<rect x="114" y="637.70" width="1" height="499.70" fill="url(#bs2)"/>
<rect x="822" y="637.70" width="1" height="499.70" fill="url(#bs2)"/>
<rect x="115" y="637.70" width="1" height="499.70" fill="url(#bs3)"/>
<rect x="821" y="637.70" width="1" height="499.70" fill="url(#bs3)"/>
<rect x="116" y="637.70" width="1" height="499.70" fill="url(#bs4)"/>
<rect x="820" y="637.70" width="1" height="499.70" fill="url(#bs4)"/>
<rect x="117" y="637.70" width="1" height="499.70" fill="url(#bs5)"/>
<rect x="819" y="637.70" width="1" height="499.70" fill="url(#bs5)"/>
<rect x="118" y="637.70" width="1" height="499.70" fill="url(#bs6)"/>
<rect x="818" y="637.70" width="1" height="499.70" fill="url(#bs6)"/>
<rect x="119" y="637.70" width="1" height="499.70" fill="url(#bs7)"/>
<rect x="817" y="637.70" width="1" height="499.70" fill="url(#bs7)"/>
<rect x="120" y="637.70" width="1" height="499.70" fill="url(#bs8)"/>
<rect x="816" y="637.70" width="1" height="499.70" fill="url(#bs8)"/>
<rect x="121" y="637.70" width="1" height="499.70" fill="url(#bs9)"/>
<rect x="815" y="637.70" width="1" height="499.70" fill="url(#bs9)"/>
<rect x="122" y="637.70" width="1" height="499.70" fill="url(#bs10)"/>
<rect x="814" y="637.70" width="1" height="499.70" fill="url(#bs10)"/>
<rect x="123" y="637.70" width="1" height="499.70" fill="url(#bs11)"/>
<rect x="813" y="637.70" width="1" height="499.70" fill="url(#bs11)"/>
<rect x="124" y="637.70" width="1" height="499.70" fill="url(#bs12)"/>
<rect x="812" y="637.70" width="1" height="499.70" fill="url(#bs12)"/>
<rect x="125" y="637.70" width="1" height="499.70" fill="url(#bs13)"/>
<rect x="811" y="637.70" width="1" height="499.70" fill="url(#bs13)"/>
<rect x="126" y="637.70" width="1" height="499.70" fill="url(#bs14)"/>
<rect x="810" y="637.70" width="1" height="499.70" fill="url(#bs14)"/>
<rect x="127" y="637.70" width="1" height="499.70" fill="url(#bs15)"/>
<rect x="809" y="637.70" width="1" height="499.70" fill="url(#bs15)"/>
<rect x="128" y="637.70" width="1" height="499.70" fill="url(#bs16)"/>
<rect x="808" y="637.70" width="1" height="499.70" fill="url(#bs16)"/>
<rect x="129" y="637.70" width="1" height="499.70" fill="url(#bs17)"/>
<rect x="807" y="637.70" width="1" height="499.70" fill="url(#bs17)"/>
<rect x="130" y="637.70" width="1" height="499.70" fill="url(#bs18)"/>
<rect x="806" y="637.70" width="1" height="499.70" fill="url(#bs18)"/>
<rect x="131" y="637.70" width="1" height="499.70" fill="url(#bs19)"/>
<rect x="805" y="637.70" width="1" height="499.70" fill="url(#bs19)"/>
<rect x="132" y="637.70" width="1" height="499.70" fill="url(#bs20)"/>
<rect x="804" y="637.70" width="1" height="499.70" fill="url(#bs20)"/>
<rect x="133" y="637.70" width="1" height="499.70" fill="url(#bs21)"/>
<rect x="803" y="637.70" width="1" height="499.70" fill="url(#bs21)"/>
<rect x="134" y="637.70" width="1" height="499.70" fill="url(#bs22)"/>
<rect x="802" y="637.70" width="1" height="499.70" fill="url(#bs22)"/>
<rect x="135" y="637.70" width="1" height="499.70" fill="url(#bs23)"/>
<rect x="801" y="637.70" width="1" height="499.70" fill="url(#bs23)"/>
<rect x="136" y="637.70" width="1" height="499.70" fill="url(#bs24)"/>
<rect x="800" y="637.70" width="1" height="499.70" fill="url(#bs24)"/>
<rect x="137" y="637.70" width="1" height="499.70" fill="url(#bs25)"/>
<rect x="799" y="637.70" width="1" height="499.70" fill="url(#bs25)"/>
<rect x="138" y="637.70" width="1" height="499.70" fill="url(#bs26)"/>
<rect x="798" y="637.70" width="1" height="499.70" fill="url(#bs26)"/>
<rect x="139" y="637.70" width="1" height="499.70" fill="url(#bs27)"/>
<rect x="797" y="637.70" width="1" height="499.70" fill="url(#bs27)"/>
<rect x="140" y="637.70" width="1" height="499.70" fill="url(#bs28)"/>
<rect x="796" y="637.70" width="1" height="499.70" fill="url(#bs28)"/>
<rect x="141" y="637.70" width="1" height="499.70" fill="url(#bs29)"/>
<rect x="795" y="637.70" width="1" height="499.70" fill="url(#bs29)"/>
<rect x="142" y="637.70" width="1" height="499.70" fill="url(#bs30)"/>
<rect x="794" y="637.70" width="1" height="499.70" fill="url(#bs30)"/>
<rect x="143" y="637.70" width="1" height="499.70" fill="url(#bs31)"/>
<rect x="793" y="637.70" width="1" height="499.70" fill="url(#bs31)"/>
<rect x="144" y="637.70" width="1" height="499.70" fill="url(#bs32)"/>
<rect x="792" y="637.70" width="1" height="499.70" fill="url(#bs32)"/>
<rect x="145" y="637.70" width="1" height="499.70" fill="url(#bs33)"/>
<rect x="791" y="637.70" width="1" height="499.70" fill="url(#bs33)"/>
<rect x="146" y="637.70" width="1" height="499.70" fill="url(#bs34)"/>
<rect x="790" y="637.70" width="1" height="499.70" fill="url(#bs34)"/>
<rect x="147" y="637.70" width="1" height="499.70" fill="url(#bs35)"/>
<rect x="789" y="637.70" width="1" height="499.70" fill="url(#bs35)"/>
<rect x="148" y="637.70" width="1" height="499.70" fill="url(#bs36)"/>
<rect x="788" y="637.70" width="1" height="499.70" fill="url(#bs36)"/>
<rect x="149" y="637.70" width="2" height="499.70" fill="url(#bs37)"/>
<rect x="786" y="637.70" width="2" height="499.70" fill="url(#bs37)"/>
<rect x="151" y="637.70" width="2" height="499.70" fill="url(#bs38)"/>
<rect x="784" y="637.70" width="2" height="499.70" fill="url(#bs38)"/>
<rect x="153" y="637.70" width="2" height="499.70" fill="url(#bs39)"/>
<rect x="782" y="637.70" width="2" height="499.70" fill="url(#bs39)"/>
<rect x="155" y="637.70" width="2" height="499.70" fill="url(#bs40)"/>
<rect x="780" y="637.70" width="2" height="499.70" fill="url(#bs40)"/>
<rect x="157" y="637.70" width="2" height="499.70" fill="url(#bs41)"/>
<rect x="778" y="637.70" width="2" height="499.70" fill="url(#bs41)"/>
<rect x="159" y="637.70" width="2" height="499.70" fill="url(#bs42)"/>
<rect x="776" y="637.70" width="2" height="499.70" fill="url(#bs42)"/>
<rect x="161" y="637.70" width="2" height="499.70" fill="url(#bs43)"/>
<rect x="774" y="637.70" width="2" height="499.70" fill="url(#bs43)"/>
<rect x="163" y="637.70" width="2" height="499.70" fill="url(#bs44)"/>
<rect x="772" y="637.70" width="2" height="499.70" fill="url(#bs44)"/>
<rect x="165" y="637.70" width="2" height="499.70" fill="url(#bs45)"/>
<rect x="770" y="637.70" width="2" height="499.70" fill="url(#bs45)"/>
<rect x="167" y="637.70" width="2" height="499.70" fill="url(#bs46)"/>
<rect x="768" y="637.70" width="2" height="499.70" fill="url(#bs46)"/>
<rect x="169" y="637.70" width="2" height="499.70" fill="url(#bs47)"/>
<rect x="766" y="637.70" width="2" height="499.70" fill="url(#bs47)"/>
<rect x="171" y="637.70" width="2" height="499.70" fill="url(#bs48)"/>
<rect x="764" y="637.70" width="2" height="499.70" fill="url(#bs48)"/>
<rect x="173" y="637.70" width="2" height="499.70" fill="url(#bs49)"/>
<rect x="762" y="637.70" width="2" height="499.70" fill="url(#bs49)"/>
<rect x="175" y="637.70" width="2" height="499.70" fill="url(#bs50)"/>
<rect x="760" y="637.70" width="2" height="499.70" fill="url(#bs50)"/>
<rect x="177" y="637.70" width="2" height="499.70" fill="url(#bs51)"/>
<rect x="758" y="637.70" width="2" height="499.70" fill="url(#bs51)"/>
<rect x="179" y="637.70" width="2" height="499.70" fill="url(#bs52)"/>
<rect x="756" y="637.70" width="2" height="499.70" fill="url(#bs52)"/>
<rect x="181" y="637.70" width="2" height="499.70" fill="url(#bs53)"/>
<rect x="754" y="637.70" width="2" height="499.70" fill="url(#bs53)"/>
<rect x="183" y="637.70" width="2" height="499.70" fill="url(#bs54)"/>
<rect x="752" y="637.70" width="2" height="499.70" fill="url(#bs54)"/>
<rect x="185" y="637.70" width="2" height="499.70" fill="url(#bs55)"/>
<rect x="750" y="637.70" width="2" height="499.70" fill="url(#bs55)"/>
</g>
<clipPath id="bclip"><rect x="112.40" y="637.70" width="711.90" height="499.70"/></clipPath>
<g clip-path="url(#bclip)" fill="none" stroke-width="3.1" stroke-linejoin="miter">
<path d="M151.3 635.7 L166.9 644.6 L185.0 646.7 L203.0 647.4 L452.8 647.4" stroke="#73d250"/>
<path d="M501.7 647.4 L733.7 647.4 L751.7 646.7 L769.8 644.6 L785.4 635.7" stroke="#73d250"/>
<path d="M122.5 630.0 L122.8 637.7 L130.3 737.9 L148.4 775.4 L166.9 782.5 L185.0 783.2 L203.0 783.4 L379.5 783.4" stroke="#1ca082"/>
<path d="M428.9 783.4 L733.7 783.4 L751.7 783.2 L769.8 782.5 L788.3 775.4 L806.4 737.9 L813.9 637.7 L814.2 630.0" stroke="#1ca082"/>
<path d="M110.8 645.0 L111.7 681.0 L116.5 760.0 L119.5 800.0 L130.3 896.9 L148.4 918.7 L166.9 921.4 L185.0 922.2 L203.0 922.4 L544.1 922.4" stroke="#286e8a"/>
<path d="M593.2 922.4 L733.7 922.4 L751.7 922.2 L769.8 921.4 L788.3 918.7 L806.4 896.9 L817.2 800.0 L820.2 760.0 L825.0 681.0 L825.9 645.0" stroke="#286e8a"/>
<path d="M111.4 910.0 L112.4 930.0 L115.0 960.0 L130.3 1050.9 L148.4 1059.6 L167.0 1060.7 L185.0 1061.2 L379.5 1061.2" stroke="#463e82"/>
<path d="M428.9 1061.2 L751.7 1061.2 L769.7 1060.7 L788.3 1059.6 L806.4 1050.9 L821.7 960.0 L824.3 930.0 L825.3 910.0" stroke="#463e82"/>
</g>
<g clip-path="url(#bclip)" font-size="22.4" text-anchor="middle">
<text x="477.5" y="653.5">68</text>
<text x="404.2" y="789.5">66</text>
<text x="568.5" y="928.5">64</text>
<text x="403.8" y="1067.3">62</text>
</g>
<rect x="112.40" y="637.70" width="711.90" height="499.70" fill="none" stroke="#000" stroke-width="1.67"/>
<path d="M112.40 1137.40 v7.8M130.65 1137.40 v7.8M148.91 1137.40 v7.8M167.16 1137.40 v7.8M185.42 1137.40 v7.8M203.67 1137.40 v7.8M221.92 1137.40 v7.8M240.18 1137.40 v7.8M258.43 1137.40 v7.8M276.68 1137.40 v7.8M294.94 1137.40 v7.8M313.19 1137.40 v7.8M331.45 1137.40 v7.8M349.70 1137.40 v7.8M367.95 1137.40 v7.8M386.21 1137.40 v7.8M404.46 1137.40 v7.8M422.72 1137.40 v7.8M440.97 1137.40 v7.8M459.22 1137.40 v7.8M477.48 1137.40 v7.8M495.73 1137.40 v7.8M513.98 1137.40 v7.8M532.24 1137.40 v7.8M550.49 1137.40 v7.8M568.75 1137.40 v7.8M587.00 1137.40 v7.8M605.25 1137.40 v7.8M623.51 1137.40 v7.8M641.76 1137.40 v7.8M660.02 1137.40 v7.8M678.27 1137.40 v7.8M696.52 1137.40 v7.8M714.78 1137.40 v7.8M733.03 1137.40 v7.8M751.28 1137.40 v7.8M769.54 1137.40 v7.8M787.79 1137.40 v7.8M806.05 1137.40 v7.8M824.30 1137.40 v7.8M112.40 637.70 h-7.8M112.40 693.22 h-7.8M112.40 748.74 h-7.8M112.40 804.27 h-7.8M112.40 859.79 h-7.8M112.40 915.31 h-7.8M112.40 970.83 h-7.8M112.40 1026.36 h-7.8M112.40 1081.88 h-7.8M112.40 1137.40 h-7.8" stroke="#000" stroke-width="1.67" fill="none"/>
<rect x="901.70" y="637.80" width="25.90" height="499.60" fill="url(#bcb)" stroke="#000" stroke-width="1.67"/>
<g font-size="22.4">
<text x="942.6" y="1145.9">60</text>
<text x="942.6" y="1045.8">62</text>
<text x="942.6" y="945.7">64</text>
<text x="942.6" y="845.6">66</text>
<text x="942.6" y="745.4">68</text>
</g>
<path d="M927.60 1137.40 h7.8M927.60 1037.28 h7.8M927.60 937.16 h7.8M927.60 837.04 h7.8M927.60 736.92 h7.8" stroke="#000" stroke-width="1.67" fill="none"/>
<text transform="translate(1.4 30.4) scale(1.06 1)" font-size="34">a</text><text transform="translate(21.9 31.6) scale(1.22 1)" font-size="38">)</text>
<text x="8.0" y="631" font-size="34">b</text><text transform="translate(28.5 632.4) scale(1.22 1)" font-size="38">)</text>
<text transform="translate(461.3 562.5) scale(1.05 1)" font-size="22.8" text-anchor="middle">Stacking Coordinate</text>
<text transform="translate(460.5 1179.2) scale(1.05 1)" font-size="22.8" text-anchor="middle">Stacking Coordinate</text>
<text transform="translate(100.7 12.1) rotate(-45)" font-size="22.4" text-anchor="end">Outlet</text>
<text transform="translate(100.8 523.9) rotate(-45)" font-size="22.4" text-anchor="end">Inlet</text>
<text transform="translate(151.7 546.7) rotate(-45)" font-size="22.4" text-anchor="end">#1</text>
<text transform="translate(863.2 546.0) rotate(-45)" font-size="22.4" text-anchor="end">#40</text>
<text transform="translate(94.0 641.5) rotate(-45)" font-size="22.4" text-anchor="end">Outlet</text>
<text transform="translate(93.8 1142.1) rotate(-45)" font-size="22.4" text-anchor="end">Inlet</text>
<text transform="translate(145.3 1164.1) rotate(-45)" font-size="22.4" text-anchor="end">#1</text>
<text transform="translate(862.4 1163.6) rotate(-45)" font-size="22.4" text-anchor="end">#40</text>
<g transform="translate(996.4 321.5) rotate(-90)" font-size="26"><text transform="scale(0.84 1)" x="-0.75" y="0" font-style="oblique">T</text><text transform="scale(1.1 1)" x="7.9" y="-9" font-size="27.5">a</text><text x="37.3" y="0">in</text><text x="68.7" y="3" font-size="30">°</text><text x="81.5" y="0" font-size="26.5">C</text></g>
<g transform="translate(992.8 932.7) rotate(-90)" font-size="26"><text transform="scale(0.84 1)" x="-0.75" y="0" font-style="oblique">T</text><text transform="scale(1.1 1)" x="7.9" y="-9" font-size="27.5">a</text><text x="37.3" y="0">in</text><text x="68.7" y="3" font-size="30">°</text><text x="81.5" y="0" font-size="26.5">C</text></g>
</svg>
</body></html>
